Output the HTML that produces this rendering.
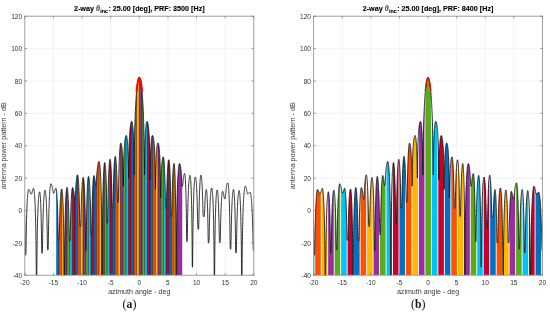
<!DOCTYPE html>
<html><head><meta charset="utf-8"><style>
html,body{margin:0;padding:0;background:#fff;width:550px;height:314px;overflow:hidden}
svg{display:block}
.g{stroke:#ebebeb;stroke-width:0.6}
.ax{fill:none;stroke:#9a9a9a;stroke-width:0.9}
.tk{stroke:#6a6a6a;stroke-width:0.6}
.se{stroke:#000;stroke-width:0.6;stroke-opacity:0.85}
.cv{fill:none;stroke:#111;stroke-width:0.85;stroke-linejoin:round}
text{font-family:"Liberation Sans",Arial,sans-serif;fill:#333}
.tl{font-size:6.6px;fill:#333}
.xl{font-size:7.1px;fill:#3a3a3a}
.yl{font-size:7.2px;fill:#3a3a3a}
.tt{font-size:7.2px;font-weight:bold;fill:#000;stroke:#000;stroke-width:0.12}
.th{font-family:"Liberation Serif",serif;font-style:italic;font-weight:bold;font-size:7.6px;fill:#555}
.sub{font-size:5.4px}
.lab{font-family:"Liberation Serif",serif;font-size:12px;fill:#111}
</style></head><body>
<svg width="550" height="314" viewBox="0 0 550 314">
<rect width="550" height="314" fill="#fff"/>
<line x1="24.8" y1="16.2" x2="24.8" y2="275.24" class="g"/>
<line x1="53.42" y1="16.2" x2="53.42" y2="275.24" class="g"/>
<line x1="82.05" y1="16.2" x2="82.05" y2="275.24" class="g"/>
<line x1="110.67" y1="16.2" x2="110.67" y2="275.24" class="g"/>
<line x1="139.3" y1="16.2" x2="139.3" y2="275.24" class="g"/>
<line x1="167.93" y1="16.2" x2="167.93" y2="275.24" class="g"/>
<line x1="196.55" y1="16.2" x2="196.55" y2="275.24" class="g"/>
<line x1="225.18" y1="16.2" x2="225.18" y2="275.24" class="g"/>
<line x1="253.8" y1="16.2" x2="253.8" y2="275.24" class="g"/>
<line x1="24.8" y1="275.24" x2="253.8" y2="275.24" class="g"/>
<line x1="24.8" y1="242.86" x2="253.8" y2="242.86" class="g"/>
<line x1="24.8" y1="210.48" x2="253.8" y2="210.48" class="g"/>
<line x1="24.8" y1="178.1" x2="253.8" y2="178.1" class="g"/>
<line x1="24.8" y1="145.72" x2="253.8" y2="145.72" class="g"/>
<line x1="24.8" y1="113.34" x2="253.8" y2="113.34" class="g"/>
<line x1="24.8" y1="80.96" x2="253.8" y2="80.96" class="g"/>
<line x1="24.8" y1="48.58" x2="253.8" y2="48.58" class="g"/>
<line x1="24.8" y1="16.2" x2="253.8" y2="16.2" class="g"/>
<clipPath id="ca"><polygon points="19.65,275.24 19.65,242.86 19.7,242.86 19.76,242.86 19.82,242.86 19.88,242.85 19.93,242.81 19.99,242.7 20.05,242.46 20.11,242.01 20.16,241.26 20.22,240.12 20.28,238.61 20.33,236.77 20.39,234.7 20.45,232.51 20.51,230.29 20.56,228.09 20.62,225.95 20.68,223.88 20.74,221.9 20.79,220.02 20.85,218.23 20.91,216.52 20.96,214.9 21.02,213.37 21.08,211.91 21.14,210.52 21.19,209.21 21.25,207.96 21.31,206.77 21.36,205.64 21.42,204.57 21.48,203.55 21.54,202.59 21.59,201.67 21.65,200.8 21.71,199.98 21.77,199.2 21.82,198.47 21.88,197.77 21.94,197.11 21.99,196.5 22.05,195.92 22.11,195.37 22.17,194.86 22.22,194.39 22.28,193.95 22.34,193.54 22.4,193.17 22.45,192.82 22.51,192.51 22.57,192.23 22.62,191.98 22.68,191.76 22.74,191.57 22.8,191.41 22.85,191.28 22.91,191.18 22.97,191.11 23.03,191.07 23.08,191.05 23.14,191.08 23.2,191.16 23.25,191.31 23.31,191.5 23.37,191.76 23.43,192.07 23.48,192.45 23.54,192.88 23.6,193.37 23.66,193.93 23.71,194.55 23.77,195.24 23.83,196 23.88,196.83 23.94,197.73 24,198.71 24.06,199.77 24.11,200.91 24.17,202.15 24.23,203.48 24.28,204.91 24.34,206.45 24.4,208.11 24.46,209.89 24.51,211.81 24.57,213.88 24.63,216.11 24.69,218.53 24.74,221.14 24.8,223.98 24.86,227.07 24.91,230.45 24.97,234.12 25.03,238.09 25.09,242.32 25.14,246.59 25.2,250.42 25.26,253.17 25.32,254.58 25.37,255.06 25.43,255.15 25.49,255.16 25.54,255.16 25.6,255.16 25.66,255.16 25.72,255.13 25.77,254.99 25.83,254.53 25.89,253.44 25.94,251.46 26,248.64 26.06,245.32 26.12,241.83 26.17,238.39 26.23,235.12 26.29,232.04 26.35,229.16 26.4,226.47 26.46,223.97 26.52,221.62 26.57,219.43 26.63,217.38 26.69,215.45 26.75,213.64 26.8,211.93 26.86,210.33 26.92,208.81 26.98,207.38 27.03,206.03 27.09,204.76 27.15,203.55 27.2,202.42 27.26,201.34 27.32,200.33 27.38,199.37 27.43,198.47 27.49,197.62 27.55,196.82 27.61,196.07 27.66,195.37 27.72,194.71 27.78,194.1 27.83,193.53 27.89,193 27.95,192.51 28.01,192.06 28.06,191.65 28.12,191.27 28.18,190.94 28.24,190.64 28.29,190.38 28.35,190.15 28.41,189.96 28.46,189.81 28.52,189.69 28.58,189.6 28.64,189.55 28.69,189.53 28.75,189.53 28.81,189.55 28.86,189.57 28.92,189.61 28.98,189.65 29.04,189.7 29.09,189.77 29.15,189.84 29.21,189.92 29.27,190.01 29.32,190.1 29.38,190.21 29.44,190.32 29.49,190.44 29.55,190.57 29.61,190.71 29.67,190.85 29.72,190.99 29.78,191.15 29.84,191.3 29.9,191.46 29.95,191.62 30.01,191.79 30.07,191.95 30.12,192.12 30.18,192.28 30.24,192.45 30.3,192.61 30.35,192.76 30.41,192.91 30.47,193.06 30.53,193.19 30.58,193.32 30.64,193.44 30.7,193.55 30.75,193.65 30.81,193.74 30.87,193.81 30.93,193.88 30.98,193.93 31.04,193.97 31.1,194 31.15,194.03 31.21,194.04 31.27,194.05 31.33,194.05 31.38,194.04 31.44,194.03 31.5,194 31.56,193.95 31.61,193.88 31.67,193.79 31.73,193.67 31.78,193.53 31.84,193.37 31.9,193.2 31.96,193 32.01,192.78 32.07,192.56 32.13,192.32 32.19,192.07 32.24,191.82 32.3,191.57 32.36,191.31 32.41,191.06 32.47,190.81 32.53,190.57 32.59,190.33 32.64,190.1 32.7,189.88 32.76,189.68 32.81,189.48 32.87,189.3 32.93,189.14 32.99,188.98 33.04,188.84 33.1,188.72 33.16,188.62 33.22,188.52 33.27,188.45 33.33,188.39 33.39,188.35 33.44,188.32 33.5,188.32 33.56,188.33 33.62,188.39 33.67,188.48 33.73,188.61 33.79,188.78 33.85,188.99 33.9,189.23 33.96,189.51 34.02,189.83 34.07,190.2 34.13,190.6 34.19,191.04 34.25,191.53 34.3,192.06 34.36,192.63 34.42,193.25 34.48,193.91 34.53,194.63 34.59,195.39 34.65,196.21 34.7,197.08 34.76,198 34.82,198.99 34.88,200.03 34.93,201.14 34.99,202.32 35.05,203.57 35.11,204.9 35.16,206.31 35.22,207.8 35.28,209.39 35.33,211.08 35.39,212.88 35.45,214.8 35.51,216.84 35.56,219.03 35.62,221.38 35.68,223.91 35.73,226.64 35.79,229.6 35.85,232.82 35.91,236.34 35.96,240.23 36.02,244.54 36.08,249.37 36.14,254.85 36.19,261.09 36.25,268.15 36.31,275.55 36.36,278.48 36.42,278.48 36.48,278.48 36.54,278.48 36.59,278.48 36.65,278.48 36.71,278.48 36.77,278.12 36.82,271.8 36.88,265.14 36.94,259.04 36.99,253.61 37.05,248.8 37.11,244.49 37.17,240.61 37.22,237.08 37.28,233.86 37.34,230.9 37.39,228.16 37.45,225.63 37.51,223.27 37.57,221.07 37.62,219.01 37.68,217.09 37.74,215.28 37.8,213.58 37.85,211.98 37.91,210.47 37.97,209.05 38.02,207.71 38.08,206.45 38.14,205.26 38.2,204.13 38.25,203.07 38.31,202.07 38.37,201.13 38.43,200.24 38.48,199.41 38.54,198.63 38.6,197.9 38.65,197.21 38.71,196.57 38.77,195.98 38.83,195.43 38.88,194.92 38.94,194.45 39,194.03 39.06,193.64 39.11,193.29 39.17,192.98 39.23,192.71 39.28,192.47 39.34,192.28 39.4,192.12 39.46,191.99 39.51,191.9 39.57,191.85 39.63,191.83 39.69,191.86 39.74,191.95 39.8,192.1 39.86,192.3 39.91,192.57 39.97,192.9 40.03,193.29 40.09,193.75 40.14,194.27 40.2,194.85 40.26,195.5 40.31,196.23 40.37,197.02 40.43,197.9 40.49,198.85 40.54,199.88 40.6,201 40.66,202.21 40.72,203.51 40.77,204.92 40.83,206.44 40.89,208.08 40.94,209.84 41,211.74 41.06,213.79 41.12,216.01 41.17,218.4 41.23,221 41.29,223.82 41.35,226.89 41.4,230.23 41.46,233.85 41.52,237.74 41.57,241.82 41.63,245.83 41.69,249.28 41.75,251.62 41.8,252.76 41.86,253.14 41.92,253.21 41.98,253.22 42.03,253.22 42.09,253.22 42.15,253.22 42.2,253.19 42.26,253.06 42.32,252.61 42.38,251.56 42.43,249.64 42.49,246.89 42.55,243.62 42.6,240.18 42.66,236.77 42.72,233.52 42.78,230.47 42.83,227.61 42.89,224.95 42.95,222.47 43.01,220.15 43.06,217.98 43.12,215.96 43.18,214.06 43.23,212.28 43.29,210.6 43.35,209.03 43.41,207.55 43.46,206.15 43.52,204.84 43.58,203.61 43.64,202.44 43.69,201.35 43.75,200.32 43.81,199.35 43.86,198.44 43.92,197.59 43.98,196.8 44.04,196.05 44.09,195.36 44.15,194.71 44.21,194.12 44.26,193.57 44.32,193.06 44.38,192.6 44.44,192.18 44.49,191.8 44.55,191.47 44.61,191.18 44.67,190.92 44.72,190.71 44.78,190.53 44.84,190.4 44.89,190.3 44.95,190.25 45.01,190.23 45.07,190.25 45.12,190.31 45.18,190.41 45.24,190.56 45.3,190.75 45.35,190.98 45.41,191.25 45.47,191.57 45.52,191.94 45.58,192.34 45.64,192.8 45.7,193.3 45.75,193.85 45.81,194.44 45.87,195.09 45.93,195.79 45.98,196.55 46.04,197.36 46.1,198.23 46.15,199.16 46.21,200.16 46.27,201.22 46.33,202.35 46.38,203.55 46.44,204.84 46.5,206.2 46.56,207.66 46.61,209.2 46.67,210.85 46.73,212.61 46.78,214.49 46.84,216.49 46.9,218.63 46.96,220.92 47.01,223.38 47.07,226.01 47.13,228.83 47.18,231.83 47.24,235.01 47.3,238.29 47.36,241.56 47.41,244.57 47.47,247 47.53,248.63 47.59,249.5 47.64,249.85 47.7,249.96 47.76,249.98 47.81,249.98 47.87,249.98 47.93,249.98 47.99,249.98 48.04,249.94 48.1,249.75 48.16,249.14 48.22,247.73 48.27,245.33 48.33,242.11 48.39,238.49 48.44,234.83 48.5,231.29 48.56,227.96 48.62,224.85 48.67,221.96 48.73,219.28 48.79,216.77 48.84,214.44 48.9,212.26 48.96,210.22 49.02,208.31 49.07,206.52 49.13,204.83 49.19,203.24 49.25,201.75 49.3,200.34 49.36,199.02 49.42,197.77 49.47,196.59 49.53,195.48 49.59,194.43 49.65,193.45 49.7,192.53 49.76,191.66 49.82,190.84 49.88,190.08 49.93,189.36 49.99,188.7 50.05,188.08 50.1,187.51 50.16,186.98 50.22,186.49 50.28,186.05 50.33,185.65 50.39,185.29 50.45,184.96 50.51,184.68 50.56,184.44 50.62,184.23 50.68,184.06 50.73,183.93 50.79,183.84 50.85,183.79 50.91,183.77 50.96,183.77 51.02,183.79 51.08,183.82 51.13,183.86 51.19,183.92 51.25,183.99 51.31,184.07 51.36,184.16 51.42,184.26 51.48,184.38 51.54,184.51 51.59,184.65 51.65,184.8 51.71,184.97 51.76,185.15 51.82,185.34 51.88,185.54 51.94,185.75 51.99,185.97 52.05,186.21 52.11,186.45 52.17,186.71 52.22,186.98 52.28,187.25 52.34,187.54 52.39,187.83 52.45,188.13 52.51,188.44 52.57,188.75 52.62,189.06 52.68,189.38 52.74,189.7 52.8,190.01 52.85,190.33 52.91,190.64 52.97,190.93 53.02,191.22 53.08,191.5 53.14,191.76 53.2,192 53.25,192.22 53.31,192.42 53.37,192.6 53.42,192.75 53.48,192.88 53.54,192.98 53.6,193.05 53.65,193.11 53.71,193.14 53.77,193.15 53.83,193.16 53.88,193.15 53.94,193.14 54,193.11 54.05,193.07 54.11,193 54.17,192.92 54.23,192.81 54.28,192.68 54.34,192.54 54.4,192.37 54.46,192.19 54.51,191.99 54.57,191.78 54.63,191.57 54.68,191.34 54.74,191.11 54.8,190.88 54.86,190.65 54.91,190.42 54.97,190.2 55.03,189.98 55.09,189.77 55.14,189.57 55.2,189.38 55.26,189.2 55.31,189.04 55.37,188.89 55.43,188.75 55.49,188.63 55.54,188.52 55.6,188.43 55.66,188.35 55.72,188.29 55.77,188.25 55.83,188.23 55.89,188.22 55.94,188.24 56,188.31 56.06,188.41 56.12,188.57 56.17,188.76 56.23,189 56.29,189.29 56.34,189.62 56.4,190 56.46,190.42 56.52,190.9 56.57,191.42 56.63,191.99 56.69,192.61 56.75,193.29 56.8,194.02 56.86,194.81 56.92,195.66 56.97,196.57 57.03,197.55 57.09,198.59 57.15,199.7 57.2,200.88 57.26,202.15 57.32,203.49 57.38,204.93 57.43,206.45 57.49,208.08 57.55,209.81 57.6,211.66 57.66,213.63 57.72,215.72 57.78,217.96 57.83,220.33 57.89,222.83 57.95,225.46 58.01,228.18 58.06,230.92 58.12,233.54 58.18,235.87 58.23,237.72 58.29,238.99 58.35,239.73 58.41,240.08 58.46,240.22 58.52,240.26 58.58,240.27 58.63,240.27 58.69,240.27 58.75,240.27 58.81,240.27 58.86,240.26 58.92,240.24 58.98,240.16 59.04,239.96 59.09,239.52 59.15,238.71 59.21,237.44 59.26,235.69 59.32,233.56 59.38,231.2 59.44,228.72 59.49,226.25 59.55,223.84 59.61,221.52 59.67,219.31 59.72,217.21 59.78,215.23 59.84,213.36 59.89,211.6 59.95,209.93 60.01,208.36 60.07,206.88 60.12,205.48 60.18,204.17 60.24,202.92 60.29,201.75 60.35,200.64 60.41,199.6 60.47,198.62 60.52,197.7 60.58,196.83 60.64,196.01 60.7,195.25 60.75,194.54 60.81,193.87 60.87,193.26 60.92,192.68 60.98,192.16 61.04,191.67 61.1,191.23 61.15,190.83 61.21,190.47 61.27,190.14 61.33,189.86 61.38,189.62 61.44,189.41 61.5,189.24 61.55,189.11 61.61,189.02 61.67,188.97 61.73,188.95 61.78,188.97 61.84,189.05 61.9,189.18 61.96,189.36 62.01,189.59 62.07,189.88 62.13,190.22 62.18,190.61 62.24,191.06 62.3,191.57 62.36,192.14 62.41,192.76 62.47,193.45 62.53,194.2 62.58,195.02 62.64,195.9 62.7,196.86 62.76,197.89 62.81,199 62.87,200.19 62.93,201.47 62.99,202.84 63.04,204.32 63.1,205.9 63.16,207.59 63.21,209.41 63.27,211.37 63.33,213.47 63.39,215.74 63.44,218.19 63.5,220.85 63.56,223.74 63.62,226.9 63.67,230.37 63.73,234.2 63.79,238.48 63.84,243.29 63.9,248.77 63.96,255.08 64.02,262.44 64.07,270.84 64.13,278.48 64.19,278.48 64.25,278.48 64.3,278.48 64.36,278.48 64.42,278.48 64.47,278.48 64.53,271.14 64.59,262.78 64.65,255.43 64.7,249.11 64.76,243.62 64.82,238.8 64.88,234.51 64.93,230.66 64.99,227.17 65.05,223.99 65.1,221.08 65.16,218.4 65.22,215.93 65.28,213.64 65.33,211.51 65.39,209.52 65.45,207.67 65.5,205.95 65.56,204.34 65.62,202.83 65.68,201.42 65.73,200.1 65.79,198.87 65.85,197.71 65.91,196.64 65.96,195.63 66.02,194.7 66.08,193.83 66.13,193.03 66.19,192.29 66.25,191.6 66.31,190.98 66.36,190.41 66.42,189.89 66.48,189.43 66.54,189.02 66.59,188.66 66.65,188.34 66.71,188.08 66.76,187.87 66.82,187.7 66.88,187.58 66.94,187.51 66.99,187.49 67.05,187.51 67.11,187.58 67.17,187.69 67.22,187.85 67.28,188.06 67.34,188.31 67.39,188.61 67.45,188.95 67.51,189.35 67.57,189.79 67.62,190.28 67.68,190.83 67.74,191.43 67.79,192.08 67.85,192.79 67.91,193.55 67.97,194.38 68.02,195.27 68.08,196.22 68.14,197.25 68.2,198.34 68.25,199.51 68.31,200.76 68.37,202.09 68.42,203.51 68.48,205.02 68.54,206.64 68.6,208.36 68.65,210.2 68.71,212.17 68.77,214.27 68.83,216.51 68.88,218.91 68.94,221.45 69,224.15 69.05,226.98 69.11,229.87 69.17,232.74 69.23,235.4 69.28,237.61 69.34,239.22 69.4,240.18 69.45,240.66 69.51,240.85 69.57,240.9 69.63,240.92 69.68,240.92 69.74,240.92 69.8,240.92 69.86,240.92 69.91,240.91 69.97,240.86 70.03,240.69 70.08,240.28 70.14,239.42 70.2,237.98 70.26,235.92 70.31,233.41 70.37,230.65 70.43,227.82 70.49,225.03 70.54,222.36 70.6,219.82 70.66,217.43 70.71,215.19 70.77,213.09 70.83,211.11 70.89,209.26 70.94,207.52 71,205.9 71.06,204.37 71.12,202.93 71.17,201.59 71.23,200.32 71.29,199.13 71.34,198.02 71.4,196.98 71.46,196.01 71.52,195.1 71.57,194.25 71.63,193.46 71.69,192.73 71.75,192.05 71.8,191.42 71.86,190.85 71.92,190.33 71.97,189.86 72.03,189.43 72.09,189.05 72.15,188.72 72.2,188.44 72.26,188.2 72.32,188 72.37,187.85 72.43,187.74 72.49,187.67 72.55,187.65 72.6,187.66 72.66,187.69 72.72,187.73 72.78,187.8 72.83,187.88 72.89,187.98 72.95,188.1 73,188.23 73.06,188.39 73.12,188.56 73.18,188.75 73.23,188.96 73.29,189.19 73.35,189.44 73.41,189.7 73.46,189.99 73.52,190.29 73.58,190.61 73.63,190.95 73.69,191.31 73.75,191.68 73.81,192.07 73.86,192.48 73.92,192.9 73.98,193.33 74.03,193.77 74.09,194.22 74.15,194.68 74.21,195.14 74.26,195.6 74.32,196.05 74.38,196.49 74.44,196.91 74.49,197.31 74.55,197.68 74.61,198.02 74.66,198.32 74.72,198.57 74.78,198.77 74.84,198.93 74.89,199.04 74.95,199.11 75.01,199.14 75.07,199.15 75.12,199.09 75.18,198.84 75.24,198.34 75.29,197.59 75.35,196.63 75.41,195.52 75.47,194.33 75.52,193.1 75.58,191.87 75.64,190.68 75.7,189.52 75.75,188.43 75.81,187.38 75.87,186.4 75.92,185.47 75.98,184.59 76.04,183.77 76.1,183 76.15,182.27 76.21,181.59 76.27,180.96 76.33,180.36 76.38,179.8 76.44,179.28 76.5,178.8 76.55,178.35 76.61,177.93 76.67,177.54 76.73,177.18 76.78,176.85 76.84,176.55 76.9,176.27 76.95,176.02 77.01,175.8 77.07,175.6 77.13,175.42 77.18,175.27 77.24,175.15 77.3,175.04 77.36,174.96 77.41,174.91 77.47,174.87 77.53,174.86 77.58,174.88 77.64,174.95 77.7,175.06 77.76,175.21 77.81,175.41 77.87,175.65 77.93,175.93 77.99,176.26 78.04,176.64 78.1,177.07 78.16,177.54 78.21,178.06 78.27,178.63 78.33,179.26 78.39,179.94 78.44,180.67 78.5,181.46 78.56,182.31 78.62,183.22 78.67,184.19 78.73,185.23 78.79,186.34 78.84,187.53 78.9,188.79 78.96,190.14 79.02,191.57 79.07,193.1 79.13,194.72 79.19,196.45 79.24,198.3 79.3,200.27 79.36,202.36 79.42,204.59 79.47,206.95 79.53,209.46 79.59,212.08 79.65,214.78 79.7,217.49 79.76,220.09 79.82,222.38 79.87,224.2 79.93,225.43 79.99,226.15 80.05,226.49 80.1,226.62 80.16,226.66 80.22,226.67 80.28,226.67 80.33,226.67 80.39,226.67 80.45,226.67 80.5,226.66 80.56,226.64 80.62,226.56 80.68,226.34 80.73,225.89 80.79,225.05 80.85,223.74 80.91,221.96 80.96,219.8 81.02,217.42 81.08,214.95 81.13,212.48 81.19,210.08 81.25,207.77 81.31,205.59 81.36,203.52 81.42,201.56 81.48,199.72 81.53,197.99 81.59,196.36 81.65,194.83 81.71,193.39 81.76,192.03 81.82,190.75 81.88,189.55 81.94,188.43 81.99,187.37 82.05,186.38 82.11,185.45 82.16,184.58 82.22,183.77 82.28,183.02 82.34,182.31 82.39,181.67 82.45,181.07 82.51,180.52 82.57,180.02 82.62,179.57 82.68,179.16 82.74,178.8 82.79,178.48 82.85,178.21 82.91,177.97 82.97,177.79 83.02,177.64 83.08,177.54 83.14,177.47 83.2,177.45 83.25,177.47 83.31,177.54 83.37,177.66 83.42,177.81 83.48,178.02 83.54,178.27 83.6,178.57 83.65,178.91 83.71,179.31 83.77,179.75 83.82,180.25 83.88,180.79 83.94,181.39 84,182.04 84.05,182.75 84.11,183.52 84.17,184.35 84.23,185.24 84.28,186.19 84.34,187.22 84.4,188.31 84.45,189.48 84.51,190.74 84.57,192.07 84.63,193.5 84.68,195.02 84.74,196.65 84.8,198.39 84.86,200.25 84.91,202.24 84.97,204.38 85.03,206.68 85.08,209.16 85.14,211.84 85.2,214.75 85.26,217.91 85.31,221.37 85.37,225.15 85.43,229.3 85.48,233.83 85.54,238.65 85.6,243.44 85.66,247.44 85.71,249.84 85.77,250.74 85.83,250.94 85.89,250.95 85.94,250.95 86,250.95 86.06,250.92 86.11,250.6 86.17,249.15 86.23,245.72 86.29,240.78 86.34,235.45 86.4,230.38 86.46,225.75 86.52,221.55 86.57,217.76 86.63,214.31 86.69,211.17 86.74,208.28 86.8,205.63 86.86,203.18 86.92,200.92 86.97,198.81 87.03,196.86 87.09,195.04 87.15,193.35 87.2,191.77 87.26,190.3 87.32,188.92 87.37,187.64 87.43,186.45 87.49,185.34 87.55,184.31 87.6,183.35 87.66,182.47 87.72,181.65 87.78,180.9 87.83,180.21 87.89,179.59 87.95,179.02 88,178.52 88.06,178.07 88.12,177.67 88.18,177.33 88.23,177.05 88.29,176.81 88.35,176.63 88.4,176.5 88.46,176.43 88.52,176.4 88.58,176.42 88.63,176.48 88.69,176.59 88.75,176.73 88.81,176.92 88.86,177.15 88.92,177.43 88.98,177.75 89.03,178.11 89.09,178.52 89.15,178.97 89.21,179.47 89.26,180.02 89.32,180.62 89.38,181.27 89.44,181.97 89.49,182.72 89.55,183.54 89.61,184.41 89.66,185.34 89.72,186.33 89.78,187.39 89.84,188.52 89.89,189.73 89.95,191.01 90.01,192.37 90.06,193.83 90.12,195.37 90.18,197.02 90.24,198.78 90.29,200.65 90.35,202.65 90.41,204.79 90.47,207.07 90.52,209.52 90.58,212.14 90.64,214.93 90.69,217.89 90.75,221 90.81,224.18 90.87,227.28 90.92,230.06 90.98,232.23 91.04,233.64 91.1,234.36 91.15,234.66 91.21,234.75 91.27,234.76 91.32,234.76 91.38,234.76 91.44,234.76 91.5,234.76 91.55,234.72 91.61,234.54 91.67,233.94 91.73,232.58 91.78,230.23 91.84,227.08 91.9,223.54 91.95,219.94 92.01,216.47 92.07,213.21 92.13,210.17 92.18,207.35 92.24,204.74 92.3,202.31 92.36,200.06 92.41,197.97 92.47,196.03 92.53,194.21 92.58,192.52 92.64,190.95 92.7,189.48 92.76,188.11 92.81,186.83 92.87,185.64 92.93,184.53 92.98,183.5 93.04,182.54 93.1,181.66 93.16,180.84 93.21,180.09 93.27,179.4 93.33,178.78 93.39,178.21 93.44,177.71 93.5,177.26 93.56,176.86 93.61,176.52 93.67,176.24 93.73,176 93.79,175.82 93.84,175.69 93.9,175.62 93.96,175.59 94.02,175.6 94.07,175.65 94.13,175.72 94.19,175.82 94.24,175.94 94.3,176.1 94.36,176.28 94.42,176.49 94.47,176.73 94.53,177 94.59,177.3 94.64,177.62 94.7,177.97 94.76,178.34 94.82,178.74 94.87,179.17 94.93,179.61 94.99,180.08 95.05,180.56 95.1,181.05 95.16,181.54 95.22,182.04 95.27,182.53 95.33,183.01 95.39,183.47 95.45,183.89 95.5,184.27 95.56,184.6 95.62,184.87 95.68,185.08 95.73,185.24 95.79,185.33 95.85,185.38 95.9,185.39 95.96,185.36 96.02,185.23 96.08,184.97 96.13,184.56 96.19,184 96.25,183.32 96.31,182.53 96.36,181.67 96.42,180.77 96.48,179.84 96.53,178.9 96.59,177.98 96.65,177.08 96.71,176.19 96.76,175.34 96.82,174.52 96.88,173.74 96.94,172.98 96.99,172.26 97.05,171.58 97.11,170.92 97.16,170.3 97.22,169.7 97.28,169.13 97.34,168.59 97.39,168.08 97.45,167.59 97.51,167.13 97.56,166.69 97.62,166.27 97.68,165.88 97.74,165.5 97.79,165.15 97.85,164.81 97.91,164.5 97.97,164.2 98.02,163.92 98.08,163.66 98.14,163.42 98.19,163.19 98.25,162.98 98.31,162.78 98.37,162.6 98.42,162.44 98.48,162.29 98.54,162.15 98.6,162.03 98.65,161.93 98.71,161.84 98.77,161.76 98.82,161.7 98.88,161.65 98.94,161.61 99,161.59 99.05,161.59 99.11,161.6 99.17,161.66 99.22,161.75 99.28,161.87 99.34,162.03 99.4,162.23 99.45,162.47 99.51,162.74 99.57,163.05 99.63,163.4 99.68,163.78 99.74,164.21 99.8,164.68 99.85,165.19 99.91,165.74 99.97,166.33 100.03,166.97 100.08,167.65 100.14,168.39 100.2,169.17 100.26,170 100.31,170.89 100.37,171.83 100.43,172.83 100.48,173.89 100.54,175.02 100.6,176.21 100.66,177.47 100.71,178.81 100.77,180.23 100.83,181.74 100.89,183.34 100.94,185.04 101,186.85 101.06,188.77 101.11,190.83 101.17,193.03 101.23,195.39 101.29,197.92 101.34,200.66 101.4,203.62 101.46,206.85 101.52,210.38 101.57,214.28 101.63,218.61 101.69,223.47 101.74,229.02 101.8,235.44 101.86,243.05 101.92,252.34 101.97,264.06 102.03,277.54 102.09,278.48 102.14,278.48 102.2,278.48 102.26,273.04 102.32,257.64 102.37,245.72 102.43,236.41 102.49,228.82 102.55,222.43 102.6,216.92 102.66,212.1 102.72,207.82 102.77,203.98 102.83,200.51 102.89,197.35 102.95,194.46 103,191.8 103.06,189.35 103.12,187.08 103.18,184.98 103.23,183.02 103.29,181.2 103.35,179.51 103.4,177.93 103.46,176.46 103.52,175.08 103.58,173.8 103.63,172.61 103.69,171.5 103.75,170.47 103.81,169.51 103.86,168.63 103.92,167.81 103.98,167.06 104.03,166.37 104.09,165.75 104.15,165.18 104.21,164.67 104.26,164.22 104.32,163.83 104.38,163.49 104.43,163.2 104.49,162.97 104.55,162.79 104.61,162.66 104.66,162.58 104.72,162.56 104.78,162.58 104.84,162.66 104.89,162.78 104.95,162.95 105.01,163.18 105.06,163.45 105.12,163.77 105.18,164.15 105.24,164.58 105.29,165.07 105.35,165.61 105.41,166.2 105.47,166.86 105.52,167.57 105.58,168.35 105.64,169.19 105.69,170.1 105.75,171.08 105.81,172.14 105.87,173.27 105.92,174.48 105.98,175.78 106.04,177.17 106.09,178.66 106.15,180.25 106.21,181.96 106.27,183.79 106.32,185.75 106.38,187.85 106.44,190.12 106.5,192.56 106.55,195.18 106.61,198.02 106.67,201.08 106.72,204.38 106.78,207.89 106.84,211.56 106.9,215.21 106.95,218.51 107.01,221.03 107.07,222.52 107.13,223.18 107.18,223.39 107.24,223.43 107.3,223.43 107.35,223.43 107.41,223.43 107.47,223.43 107.53,223.37 107.58,223.08 107.64,222.19 107.7,220.26 107.76,217.23 107.81,213.51 107.87,209.58 107.93,205.75 107.98,202.14 108.04,198.79 108.1,195.69 108.16,192.82 108.21,190.17 108.27,187.71 108.33,185.43 108.38,183.31 108.44,181.34 108.5,179.49 108.56,177.77 108.61,176.16 108.67,174.65 108.73,173.24 108.79,171.92 108.84,170.69 108.9,169.54 108.96,168.46 109.01,167.46 109.07,166.53 109.13,165.66 109.19,164.86 109.24,164.12 109.3,163.43 109.36,162.81 109.42,162.24 109.47,161.72 109.53,161.26 109.59,160.85 109.64,160.48 109.7,160.17 109.76,159.91 109.82,159.7 109.87,159.53 109.93,159.41 109.99,159.34 110.05,159.32 110.1,159.35 110.16,159.42 110.22,159.55 110.27,159.73 110.33,159.96 110.39,160.25 110.45,160.59 110.5,160.98 110.56,161.43 110.62,161.94 110.67,162.51 110.73,163.13 110.79,163.81 110.85,164.56 110.9,165.38 110.96,166.26 111.02,167.22 111.08,168.24 111.13,169.35 111.19,170.54 111.25,171.81 111.3,173.17 111.36,174.64 111.42,176.2 111.48,177.87 111.53,179.66 111.59,181.58 111.65,183.63 111.71,185.81 111.76,188.14 111.82,190.61 111.88,193.21 111.93,195.9 111.99,198.62 112.05,201.24 112.11,203.57 112.16,205.45 112.22,206.74 112.28,207.49 112.34,207.86 112.39,208 112.45,208.04 112.51,208.05 112.56,208.05 112.62,208.05 112.68,208.05 112.74,208.05 112.79,208.04 112.85,207.98 112.91,207.79 112.97,207.32 113.02,206.36 113.08,204.76 113.14,202.55 113.19,199.91 113.25,197.06 113.31,194.18 113.37,191.38 113.42,188.7 113.48,186.17 113.54,183.8 113.59,181.59 113.65,179.51 113.71,177.57 113.77,175.76 113.82,174.06 113.88,172.48 113.94,170.99 114,169.61 114.05,168.31 114.11,167.1 114.17,165.97 114.22,164.92 114.28,163.94 114.34,163.04 114.4,162.19 114.45,161.42 114.51,160.7 114.57,160.05 114.63,159.45 114.68,158.91 114.74,158.43 114.8,158 114.85,157.62 114.91,157.3 114.97,157.02 115.03,156.8 115.08,156.63 115.14,156.5 115.2,156.43 115.25,156.41 115.31,156.43 115.37,156.5 115.43,156.61 115.48,156.77 115.54,156.97 115.6,157.22 115.66,157.52 115.71,157.87 115.77,158.26 115.83,158.7 115.88,159.19 115.94,159.74 116,160.34 116.06,160.99 116.11,161.69 116.17,162.46 116.23,163.28 116.29,164.17 116.34,165.12 116.4,166.14 116.46,167.23 116.51,168.39 116.57,169.63 116.63,170.96 116.69,172.36 116.74,173.86 116.8,175.46 116.86,177.16 116.92,178.96 116.97,180.87 117.03,182.9 117.09,185.03 117.14,187.27 117.2,189.59 117.26,191.95 117.32,194.27 117.37,196.47 117.43,198.4 117.49,199.95 117.54,201.06 117.6,201.75 117.66,202.12 117.72,202.29 117.77,202.36 117.83,202.38 117.89,202.38 117.95,202.38 118,202.38 118.06,202.38 118.12,202.38 118.17,202.36 118.23,202.23 118.29,201.81 118.35,200.81 118.4,198.96 118.46,196.31 118.52,193.12 118.58,189.74 118.63,186.39 118.69,183.18 118.75,180.16 118.8,177.34 118.86,174.72 118.92,172.28 118.98,170 119.03,167.88 119.09,165.89 119.15,164.04 119.21,162.31 119.26,160.68 119.32,159.16 119.38,157.74 119.43,156.41 119.49,155.16 119.55,153.99 119.61,152.89 119.66,151.87 119.72,150.91 119.78,150.02 119.84,149.2 119.89,148.43 119.95,147.72 120.01,147.07 120.06,146.47 120.12,145.92 120.18,145.43 120.24,144.99 120.29,144.59 120.35,144.25 120.41,143.95 120.46,143.7 120.52,143.49 120.58,143.33 120.64,143.22 120.69,143.15 120.75,143.13 120.81,143.14 120.87,143.17 120.92,143.22 120.98,143.29 121.04,143.39 121.09,143.5 121.15,143.64 121.21,143.79 121.27,143.97 121.32,144.17 121.38,144.4 121.44,144.64 121.5,144.92 121.55,145.21 121.61,145.54 121.67,145.89 121.72,146.27 121.78,146.67 121.84,147.11 121.9,147.58 121.95,148.08 122.01,148.62 122.07,149.2 122.12,149.82 122.18,150.48 122.24,151.19 122.3,151.95 122.35,152.76 122.41,153.63 122.47,154.58 122.53,155.59 122.58,156.69 122.64,157.88 122.7,159.17 122.75,160.59 122.81,162.14 122.87,163.86 122.93,165.78 122.98,167.93 123.04,170.35 123.1,173.11 123.16,176.24 123.21,179.68 123.27,183.09 123.33,185.54 123.38,186.19 123.44,184.71 123.5,180.24 123.56,175.37 123.61,171.15 123.67,167.62 123.73,164.63 123.79,162.06 123.84,159.82 123.9,157.84 123.96,156.07 124.01,154.48 124.07,153.03 124.13,151.71 124.19,150.49 124.24,149.37 124.3,148.33 124.36,147.37 124.41,146.47 124.47,145.63 124.53,144.85 124.59,144.11 124.64,143.43 124.7,142.78 124.76,142.17 124.82,141.61 124.87,141.07 124.93,140.57 124.99,140.1 125.04,139.66 125.1,139.24 125.16,138.85 125.22,138.49 125.27,138.15 125.33,137.84 125.39,137.55 125.45,137.28 125.5,137.03 125.56,136.8 125.62,136.59 125.67,136.4 125.73,136.23 125.79,136.08 125.85,135.95 125.9,135.83 125.96,135.74 126.02,135.66 126.08,135.6 126.13,135.55 126.19,135.53 126.25,135.52 126.3,135.53 126.36,135.57 126.42,135.63 126.48,135.72 126.53,135.83 126.59,135.97 126.65,136.13 126.7,136.32 126.76,136.53 126.82,136.78 126.88,137.05 126.93,137.35 126.99,137.68 127.05,138.04 127.11,138.44 127.16,138.87 127.22,139.33 127.28,139.83 127.33,140.37 127.39,140.96 127.45,141.59 127.51,142.27 127.56,143 127.62,143.79 127.68,144.64 127.74,145.56 127.79,146.55 127.85,147.63 127.91,148.8 127.96,150.08 128.02,151.49 128.08,153.03 128.14,154.75 128.19,156.67 128.25,158.83 128.31,161.28 128.37,164.08 128.42,167.29 128.48,170.9 128.54,174.58 128.59,177.33 128.65,178.1 128.71,175.46 128.77,169.14 128.82,163.4 128.88,158.82 128.94,155.12 129,152.04 129.05,149.41 129.11,147.14 129.17,145.13 129.22,143.34 129.28,141.73 129.34,140.26 129.4,138.93 129.45,137.69 129.51,136.56 129.57,135.5 129.62,134.52 129.68,133.61 129.74,132.75 129.8,131.95 129.85,131.2 129.91,130.49 129.97,129.83 130.03,129.2 130.08,128.61 130.14,128.05 130.2,127.52 130.25,127.03 130.31,126.56 130.37,126.12 130.43,125.7 130.48,125.31 130.54,124.94 130.6,124.59 130.66,124.27 130.71,123.96 130.77,123.68 130.83,123.41 130.88,123.16 130.94,122.93 131,122.72 131.06,122.53 131.11,122.35 131.17,122.19 131.23,122.04 131.28,121.92 131.34,121.8 131.4,121.7 131.46,121.62 131.51,121.55 131.57,121.5 131.63,121.46 131.69,121.44 131.74,121.44 131.8,121.45 131.86,121.49 131.91,121.56 131.97,121.65 132.03,121.78 132.09,121.93 132.14,122.11 132.2,122.32 132.26,122.56 132.32,122.83 132.37,123.13 132.43,123.46 132.49,123.83 132.54,124.24 132.6,124.68 132.66,125.16 132.72,125.68 132.77,126.25 132.83,126.86 132.89,127.52 132.95,128.24 133,129.02 133.06,129.86 133.12,130.77 133.17,131.75 133.23,132.83 133.29,134.01 133.35,135.29 133.4,136.71 133.46,138.28 133.52,140.04 133.57,142.02 133.63,144.27 133.69,146.88 133.75,149.96 133.8,153.69 133.86,158.37 133.92,164.38 133.98,171.52 134.03,174.86 134.09,174.76 134.15,173.33 134.2,169.06 134.26,163.25 134.32,157.57 134.38,152.51 134.43,148.05 134.49,144.12 134.55,140.59 134.61,137.42 134.66,134.52 134.72,131.85 134.78,129.39 134.83,127.1 134.89,124.96 134.95,122.95 135.01,121.06 135.06,119.27 135.12,117.58 135.18,115.97 135.24,114.43 135.29,112.97 135.35,111.57 135.41,110.23 135.46,108.95 135.52,107.72 135.58,106.53 135.64,105.4 135.69,104.3 135.75,103.24 135.81,102.22 135.87,101.24 135.92,100.29 135.98,99.37 136.04,98.49 136.09,97.63 136.15,96.8 136.21,96 136.27,95.22 136.32,94.47 136.38,93.74 136.44,93.03 136.49,92.35 136.55,91.69 136.61,91.04 136.67,90.42 136.72,89.82 136.78,89.24 136.84,88.67 136.9,88.13 136.95,87.6 137.01,87.09 137.07,86.59 137.12,86.11 137.18,85.65 137.24,85.2 137.3,84.77 137.35,84.35 137.41,83.95 137.47,83.56 137.53,83.19 137.58,82.83 137.64,82.48 137.7,82.15 137.75,81.83 137.81,81.52 137.87,81.23 137.93,80.94 137.98,80.68 138.04,80.42 138.1,80.18 138.16,79.94 138.21,79.72 138.27,79.52 138.33,79.32 138.38,79.14 138.44,78.96 138.5,78.8 138.56,78.65 138.61,78.51 138.67,78.39 138.73,78.27 138.78,78.17 138.84,78.07 138.9,77.99 138.96,77.92 139.01,77.86 139.07,77.81 139.13,77.77 139.19,77.74 139.24,77.73 139.3,77.72 139.36,77.73 139.41,77.74 139.47,77.77 139.53,77.81 139.59,77.86 139.64,77.91 139.7,77.98 139.76,78.07 139.82,78.16 139.87,78.26 139.93,78.37 139.99,78.5 140.04,78.63 140.1,78.78 140.16,78.94 140.22,79.1 140.27,79.29 140.33,79.48 140.39,79.68 140.44,79.9 140.5,80.12 140.56,80.36 140.62,80.61 140.67,80.87 140.73,81.15 140.79,81.44 140.85,81.74 140.9,82.05 140.96,82.37 141.02,82.71 141.07,83.06 141.13,83.43 141.19,83.81 141.25,84.2 141.3,84.61 141.36,85.03 141.42,85.47 141.48,85.92 141.53,86.39 141.59,86.87 141.65,87.37 141.7,87.89 141.76,88.42 141.82,88.97 141.88,89.54 141.93,90.12 141.99,90.73 142.05,91.35 142.11,92 142.16,92.66 142.22,93.35 142.28,94.06 142.33,94.79 142.39,95.54 142.45,96.32 142.51,97.12 142.56,97.96 142.62,98.82 142.68,99.7 142.74,100.62 142.79,101.57 142.85,102.56 142.91,103.58 142.96,104.64 143.02,105.73 143.08,106.87 143.14,108.06 143.19,109.29 143.25,110.57 143.31,111.91 143.36,113.31 143.42,114.77 143.48,116.31 143.54,117.92 143.59,119.61 143.65,121.4 143.71,123.29 143.77,125.3 143.82,127.44 143.88,129.73 143.94,132.19 143.99,134.85 144.05,137.74 144.11,140.92 144.17,144.44 144.22,148.37 144.28,152.81 144.34,157.86 144.4,163.5 144.45,169.24 144.51,173.39 144.57,174.76 144.62,174.86 144.68,171.68 144.74,164.72 144.8,158.76 144.85,154.1 144.91,150.38 144.97,147.3 145.03,144.69 145.08,142.43 145.14,140.45 145.2,138.69 145.25,137.12 145.31,135.69 145.37,134.4 145.43,133.22 145.48,132.14 145.54,131.14 145.6,130.22 145.65,129.38 145.71,128.59 145.77,127.87 145.83,127.19 145.88,126.57 145.94,125.99 146,125.46 146.06,124.97 146.11,124.51 146.17,124.09 146.23,123.71 146.28,123.36 146.34,123.04 146.4,122.76 146.46,122.5 146.51,122.27 146.57,122.07 146.63,121.9 146.69,121.76 146.74,121.64 146.8,121.55 146.86,121.49 146.91,121.45 146.97,121.44 147.03,121.44 147.09,121.46 147.14,121.5 147.2,121.55 147.26,121.62 147.31,121.7 147.37,121.8 147.43,121.92 147.49,122.04 147.54,122.19 147.6,122.35 147.66,122.53 147.72,122.72 147.77,122.93 147.83,123.16 147.89,123.41 147.94,123.68 148,123.96 148.06,124.27 148.12,124.59 148.17,124.94 148.23,125.31 148.29,125.7 148.35,126.12 148.4,126.56 148.46,127.03 148.52,127.52 148.57,128.05 148.63,128.61 148.69,129.2 148.75,129.83 148.8,130.49 148.86,131.2 148.92,131.95 148.98,132.76 149.03,133.61 149.09,134.53 149.15,135.51 149.2,136.56 149.26,137.7 149.32,138.93 149.38,140.27 149.43,141.74 149.49,143.35 149.55,145.14 149.61,147.15 149.66,149.44 149.72,152.07 149.78,155.17 149.83,158.91 149.89,163.58 149.95,169.55 150.01,176.53 150.06,179.72 150.12,178.77 150.18,175.51 150.23,171.43 150.29,167.61 150.35,164.28 150.41,161.41 150.46,158.92 150.52,156.73 150.58,154.8 150.64,153.07 150.69,151.52 150.75,150.11 150.81,148.82 150.86,147.64 150.92,146.56 150.98,145.57 151.04,144.65 151.09,143.8 151.15,143.01 151.21,142.27 151.27,141.59 151.32,140.96 151.38,140.38 151.44,139.84 151.49,139.33 151.55,138.87 151.61,138.44 151.67,138.04 151.72,137.68 151.78,137.35 151.84,137.05 151.89,136.78 151.95,136.53 152.01,136.32 152.07,136.13 152.12,135.97 152.18,135.83 152.24,135.72 152.3,135.63 152.35,135.57 152.41,135.53 152.47,135.52 152.52,135.53 152.58,135.55 152.64,135.59 152.7,135.65 152.75,135.72 152.81,135.81 152.87,135.92 152.93,136.04 152.98,136.18 153.04,136.33 153.1,136.51 153.15,136.7 153.21,136.91 153.27,137.14 153.33,137.39 153.38,137.66 153.44,137.95 153.5,138.26 153.56,138.59 153.61,138.94 153.67,139.32 153.73,139.72 153.78,140.15 153.84,140.61 153.9,141.09 153.96,141.61 154.01,142.15 154.07,142.74 154.13,143.35 154.19,144.01 154.24,144.71 154.3,145.45 154.36,146.24 154.41,147.09 154.47,148 154.53,148.97 154.59,150.02 154.64,151.15 154.7,152.37 154.76,153.7 154.81,155.16 154.87,156.77 154.93,158.55 154.99,160.54 155.04,162.81 155.1,165.41 155.16,168.45 155.22,172.09 155.27,176.53 155.33,181.91 155.39,187.38 155.44,189.43 155.5,188.28 155.56,184.54 155.62,180.11 155.67,176.1 155.73,172.68 155.79,169.76 155.85,167.23 155.9,165.02 155.96,163.07 156.02,161.33 156.07,159.76 156.13,158.33 156.19,157.04 156.25,155.85 156.3,154.75 156.36,153.74 156.42,152.81 156.47,151.94 156.53,151.14 156.59,150.39 156.65,149.7 156.7,149.05 156.76,148.44 156.82,147.88 156.88,147.36 156.93,146.87 156.99,146.42 157.05,146 157.1,145.61 157.16,145.26 157.22,144.93 157.28,144.63 157.33,144.36 157.39,144.11 157.45,143.89 157.51,143.69 157.56,143.52 157.62,143.37 157.68,143.25 157.73,143.15 157.79,143.07 157.85,143.01 157.91,142.98 157.96,142.97 158.02,142.98 158.08,143.01 158.14,143.06 158.19,143.13 158.25,143.23 158.31,143.34 158.36,143.47 158.42,143.63 158.48,143.81 158.54,144.01 158.59,144.24 158.65,144.49 158.71,144.76 158.77,145.06 158.82,145.38 158.88,145.73 158.94,146.11 158.99,146.52 159.05,146.96 159.11,147.43 159.17,147.93 159.22,148.48 159.28,149.06 159.34,149.68 159.39,150.34 159.45,151.05 159.51,151.82 159.57,152.63 159.62,153.52 159.68,154.46 159.74,155.49 159.8,156.6 159.85,157.8 159.91,159.12 159.97,160.56 160.02,162.15 160.08,163.93 160.14,165.92 160.2,168.19 160.25,170.8 160.31,173.88 160.37,177.59 160.43,182.21 160.48,188.05 160.54,194.66 160.6,197.53 160.65,197.08 160.71,195.3 160.77,192.58 160.83,189.59 160.88,186.74 160.94,184.14 161,181.81 161.06,179.73 161.11,177.85 161.17,176.16 161.23,174.62 161.28,173.22 161.34,171.94 161.4,170.75 161.46,169.66 161.51,168.65 161.57,167.7 161.63,166.83 161.68,166.01 161.74,165.25 161.8,164.54 161.86,163.87 161.91,163.25 161.97,162.67 162.03,162.12 162.09,161.61 162.14,161.13 162.2,160.69 162.26,160.27 162.31,159.88 162.37,159.52 162.43,159.19 162.49,158.88 162.54,158.6 162.6,158.34 162.66,158.1 162.72,157.89 162.77,157.7 162.83,157.52 162.89,157.38 162.94,157.25 163,157.14 163.06,157.05 163.12,156.98 163.17,156.93 163.23,156.9 163.29,156.89 163.34,156.91 163.4,156.99 163.46,157.1 163.52,157.27 163.57,157.48 163.63,157.74 163.69,158.06 163.75,158.42 163.8,158.83 163.86,159.29 163.92,159.81 163.97,160.38 164.03,161 164.09,161.68 164.15,162.42 164.2,163.23 164.26,164.09 164.32,165.03 164.38,166.03 164.43,167.1 164.49,168.25 164.55,169.48 164.6,170.79 164.66,172.19 164.72,173.69 164.78,175.29 164.83,177 164.89,178.82 164.95,180.77 165.01,182.85 165.06,185.07 165.12,187.44 165.18,189.96 165.23,192.61 165.29,195.37 165.35,198.18 165.41,200.93 165.46,203.42 165.52,205.46 165.58,206.89 165.64,207.74 165.69,208.15 165.75,208.32 165.81,208.36 165.86,208.37 165.92,208.38 165.98,208.38 166.04,208.38 166.09,208.37 166.15,208.37 166.21,208.34 166.26,208.26 166.32,208.04 166.38,207.57 166.44,206.72 166.49,205.38 166.55,203.58 166.61,201.4 166.67,199.01 166.72,196.53 166.78,194.05 166.84,191.66 166.89,189.36 166.95,187.18 167.01,185.12 167.07,183.17 167.12,181.34 167.18,179.62 167.24,178.01 167.3,176.49 167.35,175.06 167.41,173.72 167.47,172.46 167.52,171.27 167.58,170.16 167.64,169.13 167.7,168.15 167.75,167.24 167.81,166.4 167.87,165.61 167.93,164.88 167.98,164.2 168.04,163.57 168.1,163 168.15,162.48 168.21,162.01 168.27,161.58 168.33,161.21 168.38,160.88 168.44,160.59 168.5,160.35 168.55,160.15 168.61,160 168.67,159.89 168.73,159.83 168.78,159.81 168.84,159.83 168.9,159.91 168.96,160.04 169.01,160.22 169.07,160.45 169.13,160.74 169.18,161.08 169.24,161.47 169.3,161.92 169.36,162.43 169.41,162.99 169.47,163.62 169.53,164.3 169.59,165.05 169.64,165.87 169.7,166.75 169.76,167.71 169.81,168.74 169.87,169.85 169.93,171.04 169.99,172.32 170.04,173.69 170.1,175.16 170.16,176.73 170.22,178.42 170.27,180.23 170.33,182.17 170.39,184.26 170.44,186.5 170.5,188.91 170.56,191.5 170.62,194.29 170.67,197.27 170.73,200.45 170.79,203.77 170.84,207.13 170.9,210.29 170.96,212.92 171.02,214.74 171.07,215.74 171.13,216.15 171.19,216.28 171.25,216.31 171.3,216.31 171.36,216.31 171.42,216.31 171.47,216.31 171.53,216.3 171.59,216.24 171.65,216.04 171.7,215.55 171.76,214.56 171.82,212.92 171.88,210.67 171.93,207.99 171.99,205.11 172.05,202.2 172.1,199.37 172.16,196.68 172.22,194.14 172.28,191.75 172.33,189.52 172.39,187.43 172.45,185.48 172.51,183.65 172.56,181.94 172.62,180.34 172.68,178.84 172.73,177.43 172.79,176.12 172.85,174.89 172.91,173.74 172.96,172.67 173.02,171.66 173.08,170.73 173.13,169.87 173.19,169.06 173.25,168.32 173.31,167.64 173.36,167.01 173.42,166.44 173.48,165.93 173.54,165.47 173.59,165.05 173.65,164.69 173.71,164.38 173.76,164.12 173.82,163.91 173.88,163.74 173.94,163.62 173.99,163.55 174.05,163.53 174.11,163.57 174.17,163.69 174.22,163.89 174.28,164.17 174.34,164.54 174.39,164.99 174.45,165.53 174.51,166.15 174.57,166.87 174.62,167.68 174.68,168.59 174.74,169.6 174.8,170.71 174.85,171.94 174.91,173.29 174.97,174.77 175.02,176.39 175.08,178.15 175.14,180.07 175.2,182.17 175.25,184.47 175.31,186.98 175.37,189.74 175.42,192.77 175.48,196.13 175.54,199.86 175.6,204.05 175.65,208.79 175.71,214.22 175.77,220.55 175.83,228.09 175.88,237.38 175.94,249.37 176,265.86 176.05,278.48 176.11,278.48 176.17,278.48 176.23,278.48 176.28,269.8 176.34,258.59 176.4,249.37 176.46,241.77 176.51,235.34 176.57,229.79 176.63,224.9 176.68,220.55 176.74,216.63 176.8,213.07 176.86,209.82 176.91,206.82 176.97,204.05 177.03,201.48 177.09,199.08 177.14,196.84 177.2,194.74 177.26,192.77 177.31,190.91 177.37,189.16 177.43,187.51 177.49,185.95 177.54,184.47 177.6,183.07 177.66,181.74 177.71,180.48 177.77,179.28 177.83,178.15 177.89,177.07 177.94,176.05 178,175.08 178.06,174.17 178.12,173.29 178.17,172.47 178.23,171.69 178.29,170.95 178.34,170.25 178.4,169.6 178.46,168.98 178.52,168.4 178.57,167.85 178.63,167.34 178.69,166.87 178.75,166.43 178.8,166.02 178.86,165.65 178.92,165.3 178.97,164.99 179.03,164.71 179.09,164.46 179.15,164.24 179.2,164.05 179.26,163.89 179.32,163.76 179.38,163.66 179.43,163.59 179.49,163.54 179.55,163.53 179.6,163.54 179.66,163.57 179.72,163.61 179.78,163.67 179.83,163.76 179.89,163.86 179.95,163.98 180,164.11 180.06,164.27 180.12,164.45 180.18,164.64 180.23,164.86 180.29,165.1 180.35,165.36 180.41,165.64 180.46,165.94 180.52,166.27 180.58,166.61 180.63,166.99 180.69,167.39 180.75,167.81 180.81,168.26 180.86,168.74 180.92,169.25 180.98,169.79 181.04,170.37 181.09,170.97 181.15,171.61 181.21,172.29 181.26,173 181.32,173.75 181.38,174.54 181.44,175.37 181.49,176.24 181.55,177.15 181.61,178.1 181.66,179.07 181.72,180.06 181.78,181.07 181.84,182.06 181.89,183.02 181.95,183.91 182.01,184.71 182.07,185.36 182.12,185.85 182.18,186.17 182.24,186.32 182.29,186.36 182.35,186.35 182.41,186.29 182.47,186.19 182.52,186.01 182.58,185.77 182.64,185.46 182.7,185.08 182.75,184.65 182.81,184.17 182.87,183.66 182.92,183.11 182.98,182.55 183.04,181.99 183.1,181.42 183.15,180.85 183.21,180.29 183.27,179.75 183.33,179.23 183.38,178.72 183.44,178.24 183.5,177.78 183.55,177.34 183.61,176.93 183.67,176.54 183.73,176.17 183.78,175.83 183.84,175.52 183.9,175.22 183.96,174.96 184.01,174.71 184.07,174.49 184.13,174.3 184.18,174.13 184.24,173.98 184.3,173.85 184.36,173.75 184.41,173.67 184.47,173.61 184.53,173.58 184.58,173.57 184.64,173.6 184.7,173.69 184.76,173.85 184.81,174.06 184.87,174.35 184.93,174.69 184.99,175.1 185.04,175.58 185.1,176.13 185.16,176.74 185.21,177.43 185.27,178.19 185.33,179.03 185.39,179.95 185.44,180.95 185.5,182.04 185.56,183.23 185.62,184.51 185.67,185.9 185.73,187.39 185.79,189.01 185.84,190.75 185.9,192.64 185.96,194.67 186.02,196.88 186.07,199.27 186.13,201.86 186.19,204.7 186.25,207.79 186.3,211.18 186.36,214.92 186.42,219.03 186.47,223.55 186.53,228.42 186.59,233.35 186.65,237.61 186.7,240.28 186.76,241.32 186.82,241.54 186.87,241.56 186.93,241.56 186.99,241.56 187.05,241.56 187.1,241.52 187.16,241.33 187.22,240.72 187.28,239.32 187.33,236.91 187.39,233.69 187.45,230.07 187.5,226.41 187.56,222.87 187.62,219.54 187.68,216.43 187.73,213.54 187.79,210.86 187.85,208.36 187.91,206.02 187.96,203.84 188.02,201.8 188.08,199.89 188.13,198.1 188.19,196.41 188.25,194.83 188.31,193.33 188.36,191.92 188.42,190.6 188.48,189.35 188.54,188.17 188.59,187.06 188.65,186.02 188.71,185.03 188.76,184.11 188.82,183.24 188.88,182.42 188.94,181.66 188.99,180.94 189.05,180.28 189.11,179.66 189.16,179.09 189.22,178.56 189.28,178.07 189.34,177.63 189.39,177.23 189.45,176.87 189.51,176.54 189.57,176.26 189.62,176.02 189.68,175.81 189.74,175.64 189.79,175.51 189.85,175.42 189.91,175.37 189.97,175.35 190.02,175.38 190.08,175.46 190.14,175.6 190.2,175.8 190.25,176.06 190.31,176.37 190.37,176.74 190.42,177.18 190.48,177.67 190.54,178.23 190.6,178.85 190.65,179.54 190.71,180.3 190.77,181.12 190.83,182.03 190.88,183.01 190.94,184.07 191,185.21 191.05,186.45 191.11,187.78 191.17,189.21 191.23,190.75 191.28,192.41 191.34,194.2 191.4,196.12 191.45,198.19 191.51,200.43 191.57,202.86 191.63,205.49 191.68,208.36 191.74,211.5 191.8,214.95 191.86,218.77 191.91,223.03 191.97,227.82 192.03,233.28 192.08,239.58 192.14,246.9 192.2,255.21 192.26,263.01 192.31,266.66 192.37,267.14 192.43,267.14 192.49,267.14 192.54,266.99 192.6,265.53 192.66,260.87 192.71,254.04 192.77,247.19 192.83,241.03 192.89,235.59 192.94,230.78 193,226.49 193.06,222.62 193.12,219.12 193.17,215.92 193.23,212.98 193.29,210.28 193.34,207.78 193.4,205.45 193.46,203.29 193.52,201.27 193.57,199.38 193.63,197.62 193.69,195.96 193.74,194.41 193.8,192.96 193.86,191.59 193.92,190.3 193.97,189.1 194.03,187.96 194.09,186.9 194.15,185.91 194.2,184.98 194.26,184.11 194.32,183.29 194.37,182.54 194.43,181.84 194.49,181.19 194.55,180.59 194.6,180.04 194.66,179.54 194.72,179.08 194.78,178.68 194.83,178.31 194.89,178 194.95,177.72 195,177.49 195.06,177.3 195.12,177.15 195.18,177.05 195.23,176.99 195.29,176.97 195.35,176.99 195.41,177.04 195.46,177.13 195.52,177.26 195.58,177.43 195.63,177.64 195.69,177.88 195.75,178.16 195.81,178.48 195.86,178.85 195.92,179.25 195.98,179.69 196.03,180.18 196.09,180.7 196.15,181.28 196.21,181.9 196.26,182.56 196.32,183.27 196.38,184.03 196.44,184.85 196.49,185.72 196.55,186.64 196.61,187.62 196.66,188.67 196.72,189.77 196.78,190.95 196.84,192.19 196.89,193.51 196.95,194.91 197.01,196.39 197.07,197.96 197.12,199.63 197.18,201.4 197.24,203.27 197.29,205.26 197.35,207.37 197.41,209.6 197.47,211.94 197.52,214.39 197.58,216.92 197.64,219.47 197.7,221.94 197.75,224.2 197.81,226.09 197.87,227.5 197.92,228.4 197.98,228.9 198.04,229.14 198.1,229.23 198.15,229.25 198.21,229.26 198.27,229.26 198.32,229.26 198.38,229.26 198.44,229.26 198.5,229.24 198.55,229.16 198.61,228.9 198.67,228.25 198.73,226.97 198.78,224.96 198.84,222.34 198.9,219.37 198.95,216.29 199.01,213.25 199.07,210.35 199.13,207.61 199.18,205.05 199.24,202.65 199.3,200.41 199.36,198.32 199.41,196.38 199.47,194.56 199.53,192.86 199.58,191.27 199.64,189.78 199.7,188.4 199.76,187.1 199.81,185.89 199.87,184.76 199.93,183.71 199.99,182.73 200.04,181.82 200.1,180.98 200.16,180.2 200.21,179.48 200.27,178.83 200.33,178.23 200.39,177.69 200.44,177.21 200.5,176.78 200.56,176.4 200.61,176.08 200.67,175.8 200.73,175.58 200.79,175.41 200.84,175.28 200.9,175.21 200.96,175.19 201.02,175.21 201.07,175.28 201.13,175.4 201.19,175.56 201.24,175.78 201.3,176.04 201.36,176.35 201.42,176.71 201.47,177.12 201.53,177.58 201.59,178.09 201.65,178.66 201.7,179.28 201.76,179.96 201.82,180.7 201.87,181.5 201.93,182.36 201.99,183.29 202.05,184.28 202.1,185.35 202.16,186.48 202.22,187.7 202.28,188.99 202.33,190.37 202.39,191.84 202.45,193.4 202.5,195.05 202.56,196.81 202.62,198.65 202.68,200.59 202.73,202.61 202.79,204.7 202.85,206.8 202.9,208.87 202.96,210.83 203.02,212.58 203.08,214.01 203.13,215.09 203.19,215.82 203.25,216.25 203.31,216.47 203.36,216.58 203.42,216.62 203.48,216.63 203.53,216.63 203.59,216.63 203.65,216.63 203.71,216.63 203.76,216.63 203.82,216.63 203.88,216.63 203.94,216.62 203.99,216.61 204.05,216.58 204.11,216.51 204.16,216.39 204.22,216.19 204.28,215.89 204.34,215.45 204.39,214.86 204.45,214.1 204.51,213.18 204.56,212.12 204.62,210.94 204.68,209.69 204.74,208.39 204.79,207.08 204.85,205.77 204.91,204.48 204.97,203.24 205.02,202.03 205.08,200.88 205.14,199.79 205.19,198.75 205.25,197.78 205.31,196.86 205.37,196 205.42,195.2 205.48,194.46 205.54,193.77 205.6,193.14 205.65,192.56 205.71,192.04 205.77,191.57 205.82,191.15 205.88,190.78 205.94,190.47 206,190.2 206.05,189.98 206.11,189.81 206.17,189.69 206.23,189.62 206.28,189.59 206.34,189.63 206.4,189.73 206.45,189.89 206.51,190.12 206.57,190.41 206.63,190.78 206.68,191.21 206.74,191.71 206.8,192.28 206.86,192.93 206.91,193.66 206.97,194.46 207.03,195.34 207.08,196.31 207.14,197.37 207.2,198.53 207.26,199.78 207.31,201.14 207.37,202.6 207.43,204.19 207.48,205.91 207.54,207.76 207.6,209.76 207.66,211.93 207.71,214.27 207.77,216.81 207.83,219.55 207.89,222.51 207.94,225.69 208,229.06 208.06,232.52 208.11,235.88 208.17,238.81 208.23,240.93 208.29,242.14 208.34,242.66 208.4,242.82 208.46,242.86 208.52,242.86 208.57,242.86 208.63,242.86 208.69,242.86 208.74,242.85 208.8,242.82 208.86,242.7 208.92,242.4 208.97,241.77 209.03,240.65 209.09,238.98 209.15,236.81 209.2,234.3 209.26,231.65 209.32,228.97 209.37,226.34 209.43,223.83 209.49,221.44 209.55,219.17 209.6,217.04 209.66,215.03 209.72,213.13 209.77,211.35 209.83,209.67 209.89,208.08 209.95,206.58 210,205.17 210.06,203.84 210.12,202.58 210.18,201.39 210.23,200.27 210.29,199.21 210.35,198.21 210.4,197.27 210.46,196.39 210.52,195.55 210.58,194.77 210.63,194.04 210.69,193.36 210.75,192.72 210.81,192.12 210.86,191.57 210.92,191.07 210.98,190.6 211.03,190.17 211.09,189.79 211.15,189.44 211.21,189.13 211.26,188.86 211.32,188.62 211.38,188.42 211.44,188.26 211.49,188.14 211.55,188.05 211.61,187.99 211.66,187.98 211.72,188 211.78,188.07 211.84,188.18 211.89,188.34 211.95,188.54 212.01,188.79 212.06,189.09 212.12,189.44 212.18,189.83 212.24,190.28 212.29,190.77 212.35,191.32 212.41,191.91 212.47,192.57 212.52,193.28 212.58,194.04 212.64,194.87 212.69,195.76 212.75,196.72 212.81,197.74 212.87,198.84 212.92,200.01 212.98,201.26 213.04,202.6 213.1,204.02 213.15,205.55 213.21,207.17 213.27,208.91 213.32,210.78 213.38,212.77 213.44,214.91 213.5,217.22 213.55,219.7 213.61,222.39 213.67,225.31 213.72,228.5 213.78,231.99 213.84,235.85 213.9,240.14 213.95,244.97 214.01,250.45 214.07,256.76 214.13,264.06 214.18,272.25 214.24,278.48 214.3,278.48 214.35,278.48 214.41,278.48 214.47,278.48 214.53,278.48 214.58,278.48 214.64,273.74 214.7,265.86 214.76,258.65 214.81,252.37 214.87,246.9 214.93,242.08 214.98,237.79 215.04,233.93 215.1,230.44 215.16,227.25 215.21,224.33 215.27,221.64 215.33,219.16 215.39,216.86 215.44,214.71 215.5,212.72 215.56,210.86 215.61,209.12 215.67,207.49 215.73,205.97 215.79,204.54 215.84,203.2 215.9,201.95 215.96,200.78 216.02,199.68 216.07,198.66 216.13,197.7 216.19,196.81 216.24,195.99 216.3,195.22 216.36,194.51 216.42,193.86 216.47,193.26 216.53,192.71 216.59,192.22 216.64,191.78 216.7,191.38 216.76,191.04 216.82,190.74 216.87,190.49 216.93,190.28 216.99,190.12 217.05,190.01 217.1,189.94 217.16,189.92 217.22,189.94 217.27,190.02 217.33,190.14 217.39,190.31 217.45,190.54 217.5,190.81 217.56,191.13 217.62,191.51 217.68,191.94 217.73,192.43 217.79,192.97 217.85,193.56 217.9,194.22 217.96,194.93 218.02,195.71 218.08,196.55 218.13,197.46 218.19,198.44 218.25,199.49 218.31,200.62 218.36,201.83 218.42,203.13 218.48,204.51 218.53,206 218.59,207.58 218.65,209.28 218.71,211.1 218.76,213.04 218.82,215.12 218.88,217.35 218.93,219.73 218.99,222.28 219.05,224.99 219.11,227.84 219.16,230.8 219.22,233.76 219.28,236.56 219.34,238.96 219.39,240.74 219.45,241.84 219.51,242.4 219.56,242.62 219.62,242.68 219.68,242.7 219.74,242.7 219.79,242.7 219.85,242.7 219.91,242.7 219.97,242.69 220.02,242.65 220.08,242.53 220.14,242.21 220.19,241.54 220.25,240.36 220.31,238.63 220.37,236.41 220.42,233.87 220.48,231.2 220.54,228.53 220.6,225.93 220.65,223.44 220.71,221.08 220.77,218.86 220.82,216.77 220.88,214.8 220.94,212.96 221,211.23 221.05,209.61 221.11,208.08 221.17,206.65 221.22,205.3 221.28,204.04 221.34,202.85 221.4,201.74 221.45,200.7 221.51,199.73 221.57,198.82 221.63,197.97 221.68,197.18 221.74,196.45 221.8,195.77 221.85,195.15 221.91,194.57 221.97,194.05 222.03,193.58 222.08,193.16 222.14,192.78 222.2,192.45 222.26,192.16 222.31,191.92 222.37,191.72 222.43,191.57 222.48,191.46 222.54,191.4 222.6,191.38 222.66,191.39 222.71,191.42 222.77,191.47 222.83,191.53 222.89,191.62 222.94,191.73 223,191.86 223.06,192.01 223.11,192.17 223.17,192.36 223.23,192.56 223.29,192.78 223.34,193.02 223.4,193.28 223.46,193.55 223.51,193.84 223.57,194.14 223.63,194.45 223.69,194.77 223.74,195.1 223.8,195.44 223.86,195.78 223.92,196.12 223.97,196.46 224.03,196.79 224.09,197.11 224.14,197.42 224.2,197.71 224.26,197.97 224.32,198.21 224.37,198.41 224.43,198.59 224.49,198.73 224.55,198.84 224.6,198.91 224.66,198.96 224.72,198.98 224.77,198.99 224.83,198.98 224.89,198.93 224.95,198.84 225,198.69 225.06,198.49 225.12,198.22 225.18,197.89 225.23,197.5 225.29,197.07 225.35,196.6 225.4,196.09 225.46,195.56 225.52,195.01 225.58,194.45 225.63,193.89 225.69,193.33 225.75,192.77 225.8,192.22 225.86,191.68 225.92,191.15 225.98,190.64 226.03,190.14 226.09,189.66 226.15,189.2 226.21,188.76 226.26,188.33 226.32,187.92 226.38,187.53 226.43,187.15 226.49,186.8 226.55,186.46 226.61,186.13 226.66,185.83 226.72,185.54 226.78,185.27 226.84,185.01 226.89,184.77 226.95,184.55 227.01,184.34 227.06,184.15 227.12,183.97 227.18,183.8 227.24,183.66 227.29,183.52 227.35,183.4 227.41,183.3 227.47,183.21 227.52,183.13 227.58,183.07 227.64,183.02 227.69,182.98 227.75,182.96 227.81,182.96 227.87,182.98 227.92,183.05 227.98,183.17 228.04,183.34 228.09,183.55 228.15,183.81 228.21,184.12 228.27,184.48 228.32,184.89 228.38,185.36 228.44,185.87 228.5,186.44 228.55,187.07 228.61,187.75 228.67,188.5 228.72,189.3 228.78,190.17 228.84,191.1 228.9,192.1 228.95,193.18 229.01,194.33 229.07,195.56 229.13,196.88 229.18,198.29 229.24,199.8 229.3,201.41 229.35,203.13 229.41,204.98 229.47,206.96 229.53,209.08 229.58,211.36 229.64,213.82 229.7,216.48 229.75,219.36 229.81,222.48 229.87,225.87 229.93,229.54 229.98,233.48 230.04,237.6 230.1,241.67 230.16,245.17 230.21,247.55 230.27,248.71 230.33,249.09 230.38,249.17 230.44,249.17 230.5,249.17 230.56,249.17 230.61,249.17 230.67,249.16 230.73,249.07 230.79,248.79 230.84,248.08 230.9,246.72 230.96,244.59 231.01,241.84 231.07,238.76 231.13,235.59 231.19,232.48 231.24,229.51 231.3,226.71 231.36,224.08 231.42,221.62 231.47,219.32 231.53,217.16 231.59,215.14 231.64,213.25 231.7,211.47 231.76,209.8 231.82,208.23 231.87,206.75 231.93,205.36 231.99,204.04 232.05,202.81 232.1,201.65 232.16,200.55 232.22,199.52 232.27,198.56 232.33,197.65 232.39,196.8 232.45,196 232.5,195.26 232.56,194.56 232.62,193.92 232.67,193.32 232.73,192.77 232.79,192.27 232.85,191.81 232.9,191.39 232.96,191.01 233.02,190.68 233.08,190.38 233.13,190.13 233.19,189.92 233.25,189.74 233.3,189.61 233.36,189.51 233.42,189.45 233.48,189.43 233.53,189.46 233.59,189.54 233.65,189.68 233.71,189.86 233.76,190.11 233.82,190.41 233.88,190.76 233.93,191.18 233.99,191.65 234.05,192.18 234.11,192.77 234.16,193.43 234.22,194.15 234.28,194.94 234.34,195.79 234.39,196.72 234.45,197.73 234.51,198.82 234.56,199.99 234.62,201.24 234.68,202.6 234.74,204.05 234.79,205.61 234.85,207.28 234.91,209.08 234.96,211.02 235.02,213.1 235.08,215.35 235.14,217.77 235.19,220.39 235.25,223.24 235.31,226.33 235.37,229.69 235.42,233.34 235.48,237.26 235.54,241.36 235.59,245.41 235.65,248.89 235.71,251.27 235.77,252.43 235.82,252.81 235.88,252.89 235.94,252.9 236,252.9 236.05,252.9 236.11,252.9 236.17,252.88 236.22,252.78 236.28,252.45 236.34,251.65 236.4,250.12 236.45,247.8 236.51,244.88 236.57,241.67 236.63,238.41 236.68,235.23 236.74,232.22 236.8,229.39 236.85,226.73 236.91,224.25 236.97,221.92 237.03,219.75 237.08,217.71 237.14,215.79 237.2,213.99 237.25,212.3 237.31,210.7 237.37,209.2 237.43,207.78 237.48,206.44 237.54,205.18 237.6,203.99 237.66,202.87 237.71,201.81 237.77,200.81 237.83,199.87 237.88,198.98 237.94,198.15 238,197.37 238.06,196.63 238.11,195.95 238.17,195.31 238.23,194.72 238.29,194.17 238.34,193.66 238.4,193.19 238.46,192.76 238.51,192.38 238.57,192.03 238.63,191.72 238.69,191.45 238.74,191.21 238.8,191.01 238.86,190.85 238.91,190.73 238.97,190.64 239.03,190.58 239.09,190.57 239.14,190.59 239.2,190.66 239.26,190.78 239.32,190.94 239.37,191.16 239.43,191.42 239.49,191.73 239.54,192.09 239.6,192.5 239.66,192.97 239.72,193.48 239.77,194.05 239.83,194.68 239.89,195.36 239.95,196.11 240,196.91 240.06,197.78 240.12,198.71 240.17,199.71 240.23,200.79 240.29,201.94 240.35,203.17 240.4,204.49 240.46,205.9 240.52,207.41 240.58,209.02 240.63,210.75 240.69,212.6 240.75,214.58 240.8,216.71 240.86,219 240.92,221.48 240.98,224.16 241.03,227.07 241.09,230.24 241.15,233.73 241.21,237.58 241.26,241.87 241.32,246.68 241.38,252.15 241.43,258.43 241.49,265.65 241.55,273.57 241.61,278.48 241.66,278.48 241.72,278.48 241.78,278.48 241.83,278.48 241.89,278.48 241.95,278.48 242.01,277.85 242.06,271.37 242.12,264.64 242.18,258.5 242.24,253.05 242.29,248.21 242.35,243.87 242.41,239.96 242.46,236.4 242.52,233.15 242.58,230.15 242.64,227.38 242.69,224.8 242.75,222.4 242.81,220.15 242.87,218.05 242.92,216.07 242.98,214.21 243.04,212.45 243.09,210.79 243.15,209.22 243.21,207.73 243.27,206.32 243.32,204.98 243.38,203.71 243.44,202.51 243.5,201.37 243.55,200.28 243.61,199.25 243.67,198.27 243.72,197.34 243.78,196.45 243.84,195.62 243.9,194.82 243.95,194.07 244.01,193.36 244.07,192.69 244.12,192.06 244.18,191.46 244.24,190.9 244.3,190.37 244.35,189.88 244.41,189.42 244.47,189 244.53,188.6 244.58,188.24 244.64,187.91 244.7,187.61 244.75,187.34 244.81,187.1 244.87,186.88 244.93,186.7 244.98,186.55 245.04,186.42 245.1,186.32 245.16,186.25 245.21,186.21 245.27,186.19 245.33,186.2 245.38,186.22 245.44,186.26 245.5,186.31 245.56,186.38 245.61,186.46 245.67,186.56 245.73,186.67 245.79,186.8 245.84,186.94 245.9,187.09 245.96,187.26 246.01,187.45 246.07,187.64 246.13,187.85 246.19,188.08 246.24,188.31 246.3,188.56 246.36,188.81 246.41,189.08 246.47,189.36 246.53,189.64 246.59,189.93 246.64,190.23 246.7,190.53 246.76,190.83 246.82,191.13 246.87,191.43 246.93,191.72 246.99,192.01 247.04,192.28 247.1,192.54 247.16,192.78 247.22,193.01 247.27,193.21 247.33,193.39 247.39,193.55 247.45,193.68 247.5,193.78 247.56,193.86 247.62,193.91 247.67,193.95 247.73,193.96 247.79,193.97 247.85,193.97 247.9,193.96 247.96,193.96 248.02,193.95 248.08,193.93 248.13,193.91 248.19,193.88 248.25,193.85 248.3,193.82 248.36,193.77 248.42,193.73 248.48,193.67 248.53,193.62 248.59,193.56 248.65,193.49 248.7,193.42 248.76,193.35 248.82,193.28 248.88,193.2 248.93,193.12 248.99,193.05 249.05,192.97 249.11,192.89 249.16,192.82 249.22,192.75 249.28,192.68 249.33,192.61 249.39,192.55 249.45,192.49 249.51,192.43 249.56,192.38 249.62,192.34 249.68,192.3 249.74,192.26 249.79,192.24 249.85,192.21 249.91,192.2 249.96,192.19 250.02,192.19 250.08,192.2 250.14,192.23 250.19,192.29 250.25,192.38 250.31,192.48 250.37,192.62 250.42,192.77 250.48,192.95 250.54,193.16 250.59,193.39 250.65,193.65 250.71,193.93 250.77,194.24 250.82,194.57 250.88,194.93 250.94,195.32 250.99,195.74 251.05,196.18 251.11,196.65 251.17,197.16 251.22,197.69 251.28,198.25 251.34,198.85 251.4,199.47 251.45,200.14 251.51,200.83 251.57,201.57 251.62,202.34 251.68,203.14 251.74,203.99 251.8,204.88 251.85,205.82 251.91,206.79 251.97,207.82 252.03,208.9 252.08,210.03 252.14,211.21 252.2,212.45 252.25,213.75 252.31,215.12 252.37,216.56 252.43,218.07 252.48,219.65 252.54,221.32 252.6,223.08 252.65,224.93 252.71,226.88 252.77,228.93 252.83,231.09 252.88,233.34 252.94,235.69 253,238.1 253.06,240.54 253.11,242.93 253.17,245.15 253.23,247.09 253.28,248.62 253.34,249.7 253.4,250.36 253.46,250.71 253.51,250.87 253.57,250.93 253.63,250.95 253.69,250.95 253.74,250.95 253.8,250.95 253.86,250.95 253.91,250.91 253.97,250.46 254.03,248.57 254.09,244.49 254.14,239.15 254.2,233.71 254.26,228.7 254.32,224.21 254.37,220.21 254.43,216.63 254.49,213.44 254.54,210.57 254.6,207.99 254.66,205.66 254.72,203.57 254.77,201.68 254.83,199.99 254.89,198.47 254.95,197.12 255,195.92 255.06,194.87 255.12,193.95 255.17,193.17 255.23,192.51 255.29,191.98 255.35,191.57 255.4,191.28 255.46,191.11 255.52,191.05 255.57,191.07 255.63,191.11 255.69,191.18 255.75,191.28 255.8,191.41 255.86,191.57 255.92,191.76 255.98,191.98 256.03,192.23 256.09,192.51 256.15,192.82 256.2,193.17 256.26,193.54 256.32,193.95 256.38,194.39 256.43,194.86 256.49,195.37 256.55,195.92 256.61,196.5 256.66,197.11 256.72,197.77 256.78,198.47 256.83,199.2 256.89,199.98 256.95,200.8 257.01,201.67 257.06,202.59 257.12,203.55 257.18,204.57 257.24,205.64 257.29,206.77 257.35,207.96 257.41,209.21 257.46,210.52 257.52,211.91 257.58,213.37 257.64,214.9 257.69,216.52 257.75,218.23 257.81,220.02 257.86,221.9 257.92,223.88 257.98,225.95 258.04,228.09 258.09,230.29 258.15,232.51 258.21,234.7 258.27,236.77 258.32,238.61 258.38,240.12 258.44,241.26 258.49,242.01 258.55,242.46 258.61,242.7 258.67,242.81 258.72,242.85 258.78,242.86 258.84,242.86 258.9,242.86 258.95,242.86 258.95,275.24"/></clipPath><clipPath id="axa"><rect x="24.8" y="16.2" width="229" height="259.04"/></clipPath>
<g clip-path="url(#axa)"><g clip-path="url(#ca)">
<rect x="56.2" y="0" width="2.73" height="300" fill="#0070c0"/>
<rect x="58.88" y="0" width="2.73" height="300" fill="#ff5000"/>
<rect x="61.56" y="0" width="2.73" height="300" fill="#ffb800"/>
<rect x="64.24" y="0" width="2.73" height="300" fill="#982ca0"/>
<rect x="66.92" y="0" width="2.73" height="300" fill="#58ac1c"/>
<rect x="69.6" y="0" width="2.73" height="300" fill="#00c4f8"/>
<rect x="72.28" y="0" width="2.73" height="300" fill="#c8002c"/>
<rect x="74.96" y="0" width="2.73" height="300" fill="#0070c0"/>
<rect x="77.64" y="0" width="2.73" height="300" fill="#ff5000"/>
<rect x="80.32" y="0" width="2.73" height="300" fill="#ffb800"/>
<rect x="83" y="0" width="2.73" height="300" fill="#982ca0"/>
<rect x="85.68" y="0" width="2.73" height="300" fill="#58ac1c"/>
<rect x="88.36" y="0" width="2.73" height="300" fill="#00c4f8"/>
<rect x="91.04" y="0" width="2.73" height="300" fill="#c8002c"/>
<rect x="93.72" y="0" width="2.73" height="300" fill="#0070c0"/>
<rect x="96.4" y="0" width="2.73" height="300" fill="#ff5000"/>
<rect x="99.08" y="0" width="2.73" height="300" fill="#ffb800"/>
<rect x="101.76" y="0" width="2.73" height="300" fill="#982ca0"/>
<rect x="104.44" y="0" width="2.73" height="300" fill="#58ac1c"/>
<rect x="107.12" y="0" width="2.73" height="300" fill="#00c4f8"/>
<rect x="109.8" y="0" width="2.73" height="300" fill="#c8002c"/>
<rect x="112.48" y="0" width="2.73" height="300" fill="#0070c0"/>
<rect x="115.16" y="0" width="2.73" height="300" fill="#ff5000"/>
<rect x="117.84" y="0" width="2.73" height="300" fill="#ffb800"/>
<rect x="120.52" y="0" width="2.73" height="300" fill="#982ca0"/>
<rect x="123.2" y="0" width="2.73" height="300" fill="#58ac1c"/>
<rect x="125.88" y="0" width="2.73" height="300" fill="#00c4f8"/>
<rect x="128.56" y="0" width="2.73" height="300" fill="#c8002c"/>
<rect x="131.24" y="0" width="2.73" height="300" fill="#0070c0"/>
<rect x="133.92" y="0" width="2.73" height="300" fill="#ff5000"/>
<rect x="136.6" y="0" width="2.73" height="300" fill="#ffb800"/>
<rect x="139.28" y="0" width="2.73" height="300" fill="#982ca0"/>
<rect x="141.96" y="0" width="2.73" height="300" fill="#58ac1c"/>
<rect x="144.64" y="0" width="2.73" height="300" fill="#00c4f8"/>
<rect x="147.32" y="0" width="2.73" height="300" fill="#c8002c"/>
<rect x="150" y="0" width="2.73" height="300" fill="#0070c0"/>
<rect x="152.68" y="0" width="2.73" height="300" fill="#ff5000"/>
<rect x="155.36" y="0" width="2.73" height="300" fill="#ffb800"/>
<rect x="158.04" y="0" width="2.73" height="300" fill="#982ca0"/>
<rect x="160.72" y="0" width="2.73" height="300" fill="#58ac1c"/>
<rect x="163.4" y="0" width="2.73" height="300" fill="#00c4f8"/>
<rect x="166.08" y="0" width="2.73" height="300" fill="#c8002c"/>
<rect x="168.76" y="0" width="2.73" height="300" fill="#0070c0"/>
<rect x="171.44" y="0" width="2.73" height="300" fill="#ff5000"/>
<rect x="174.12" y="0" width="2.73" height="300" fill="#ffb800"/>
<rect x="176.8" y="0" width="5.45" height="300" fill="#982ca0"/>
<line x1="58.88" y1="0" x2="58.88" y2="300" class="se"/>
<line x1="61.56" y1="0" x2="61.56" y2="300" class="se"/>
<line x1="64.24" y1="0" x2="64.24" y2="300" class="se"/>
<line x1="66.92" y1="0" x2="66.92" y2="300" class="se"/>
<line x1="69.6" y1="0" x2="69.6" y2="300" class="se"/>
<line x1="72.28" y1="0" x2="72.28" y2="300" class="se"/>
<line x1="74.96" y1="0" x2="74.96" y2="300" class="se"/>
<line x1="77.64" y1="0" x2="77.64" y2="300" class="se"/>
<line x1="80.32" y1="0" x2="80.32" y2="300" class="se"/>
<line x1="83" y1="0" x2="83" y2="300" class="se"/>
<line x1="85.68" y1="0" x2="85.68" y2="300" class="se"/>
<line x1="88.36" y1="0" x2="88.36" y2="300" class="se"/>
<line x1="91.04" y1="0" x2="91.04" y2="300" class="se"/>
<line x1="93.72" y1="0" x2="93.72" y2="300" class="se"/>
<line x1="96.4" y1="0" x2="96.4" y2="300" class="se"/>
<line x1="99.08" y1="0" x2="99.08" y2="300" class="se"/>
<line x1="101.76" y1="0" x2="101.76" y2="300" class="se"/>
<line x1="104.44" y1="0" x2="104.44" y2="300" class="se"/>
<line x1="107.12" y1="0" x2="107.12" y2="300" class="se"/>
<line x1="109.8" y1="0" x2="109.8" y2="300" class="se"/>
<line x1="112.48" y1="0" x2="112.48" y2="300" class="se"/>
<line x1="115.16" y1="0" x2="115.16" y2="300" class="se"/>
<line x1="117.84" y1="0" x2="117.84" y2="300" class="se"/>
<line x1="120.52" y1="0" x2="120.52" y2="300" class="se"/>
<line x1="123.2" y1="0" x2="123.2" y2="300" class="se"/>
<line x1="125.88" y1="0" x2="125.88" y2="300" class="se"/>
<line x1="128.56" y1="0" x2="128.56" y2="300" class="se"/>
<line x1="131.24" y1="0" x2="131.24" y2="300" class="se"/>
<line x1="133.92" y1="0" x2="133.92" y2="300" class="se"/>
<line x1="136.6" y1="0" x2="136.6" y2="300" class="se"/>
<line x1="139.28" y1="0" x2="139.28" y2="300" class="se"/>
<line x1="141.96" y1="0" x2="141.96" y2="300" class="se"/>
<line x1="144.64" y1="0" x2="144.64" y2="300" class="se"/>
<line x1="147.32" y1="0" x2="147.32" y2="300" class="se"/>
<line x1="150" y1="0" x2="150" y2="300" class="se"/>
<line x1="152.68" y1="0" x2="152.68" y2="300" class="se"/>
<line x1="155.36" y1="0" x2="155.36" y2="300" class="se"/>
<line x1="158.04" y1="0" x2="158.04" y2="300" class="se"/>
<line x1="160.72" y1="0" x2="160.72" y2="300" class="se"/>
<line x1="163.4" y1="0" x2="163.4" y2="300" class="se"/>
<line x1="166.08" y1="0" x2="166.08" y2="300" class="se"/>
<line x1="168.76" y1="0" x2="168.76" y2="300" class="se"/>
<line x1="171.44" y1="0" x2="171.44" y2="300" class="se"/>
<line x1="174.12" y1="0" x2="174.12" y2="300" class="se"/>
<line x1="176.8" y1="0" x2="176.8" y2="300" class="se"/>
</g>
<polyline points="19.65,242.86 19.7,242.86 19.76,242.86 19.82,242.86 19.88,242.85 19.93,242.81 19.99,242.7 20.05,242.46 20.11,242.01 20.16,241.26 20.22,240.12 20.28,238.61 20.33,236.77 20.39,234.7 20.45,232.51 20.51,230.29 20.56,228.09 20.62,225.95 20.68,223.88 20.74,221.9 20.79,220.02 20.85,218.23 20.91,216.52 20.96,214.9 21.02,213.37 21.08,211.91 21.14,210.52 21.19,209.21 21.25,207.96 21.31,206.77 21.36,205.64 21.42,204.57 21.48,203.55 21.54,202.59 21.59,201.67 21.65,200.8 21.71,199.98 21.77,199.2 21.82,198.47 21.88,197.77 21.94,197.11 21.99,196.5 22.05,195.92 22.11,195.37 22.17,194.86 22.22,194.39 22.28,193.95 22.34,193.54 22.4,193.17 22.45,192.82 22.51,192.51 22.57,192.23 22.62,191.98 22.68,191.76 22.74,191.57 22.8,191.41 22.85,191.28 22.91,191.18 22.97,191.11 23.03,191.07 23.08,191.05 23.14,191.08 23.2,191.16 23.25,191.31 23.31,191.5 23.37,191.76 23.43,192.07 23.48,192.45 23.54,192.88 23.6,193.37 23.66,193.93 23.71,194.55 23.77,195.24 23.83,196 23.88,196.83 23.94,197.73 24,198.71 24.06,199.77 24.11,200.91 24.17,202.15 24.23,203.48 24.28,204.91 24.34,206.45 24.4,208.11 24.46,209.89 24.51,211.81 24.57,213.88 24.63,216.11 24.69,218.53 24.74,221.14 24.8,223.98 24.86,227.07 24.91,230.45 24.97,234.12 25.03,238.09 25.09,242.32 25.14,246.59 25.2,250.42 25.26,253.17 25.32,254.58 25.37,255.06 25.43,255.15 25.49,255.16 25.54,255.16 25.6,255.16 25.66,255.16 25.72,255.13 25.77,254.99 25.83,254.53 25.89,253.44 25.94,251.46 26,248.64 26.06,245.32 26.12,241.83 26.17,238.39 26.23,235.12 26.29,232.04 26.35,229.16 26.4,226.47 26.46,223.97 26.52,221.62 26.57,219.43 26.63,217.38 26.69,215.45 26.75,213.64 26.8,211.93 26.86,210.33 26.92,208.81 26.98,207.38 27.03,206.03 27.09,204.76 27.15,203.55 27.2,202.42 27.26,201.34 27.32,200.33 27.38,199.37 27.43,198.47 27.49,197.62 27.55,196.82 27.61,196.07 27.66,195.37 27.72,194.71 27.78,194.1 27.83,193.53 27.89,193 27.95,192.51 28.01,192.06 28.06,191.65 28.12,191.27 28.18,190.94 28.24,190.64 28.29,190.38 28.35,190.15 28.41,189.96 28.46,189.81 28.52,189.69 28.58,189.6 28.64,189.55 28.69,189.53 28.75,189.53 28.81,189.55 28.86,189.57 28.92,189.61 28.98,189.65 29.04,189.7 29.09,189.77 29.15,189.84 29.21,189.92 29.27,190.01 29.32,190.1 29.38,190.21 29.44,190.32 29.49,190.44 29.55,190.57 29.61,190.71 29.67,190.85 29.72,190.99 29.78,191.15 29.84,191.3 29.9,191.46 29.95,191.62 30.01,191.79 30.07,191.95 30.12,192.12 30.18,192.28 30.24,192.45 30.3,192.61 30.35,192.76 30.41,192.91 30.47,193.06 30.53,193.19 30.58,193.32 30.64,193.44 30.7,193.55 30.75,193.65 30.81,193.74 30.87,193.81 30.93,193.88 30.98,193.93 31.04,193.97 31.1,194 31.15,194.03 31.21,194.04 31.27,194.05 31.33,194.05 31.38,194.04 31.44,194.03 31.5,194 31.56,193.95 31.61,193.88 31.67,193.79 31.73,193.67 31.78,193.53 31.84,193.37 31.9,193.2 31.96,193 32.01,192.78 32.07,192.56 32.13,192.32 32.19,192.07 32.24,191.82 32.3,191.57 32.36,191.31 32.41,191.06 32.47,190.81 32.53,190.57 32.59,190.33 32.64,190.1 32.7,189.88 32.76,189.68 32.81,189.48 32.87,189.3 32.93,189.14 32.99,188.98 33.04,188.84 33.1,188.72 33.16,188.62 33.22,188.52 33.27,188.45 33.33,188.39 33.39,188.35 33.44,188.32 33.5,188.32 33.56,188.33 33.62,188.39 33.67,188.48 33.73,188.61 33.79,188.78 33.85,188.99 33.9,189.23 33.96,189.51 34.02,189.83 34.07,190.2 34.13,190.6 34.19,191.04 34.25,191.53 34.3,192.06 34.36,192.63 34.42,193.25 34.48,193.91 34.53,194.63 34.59,195.39 34.65,196.21 34.7,197.08 34.76,198 34.82,198.99 34.88,200.03 34.93,201.14 34.99,202.32 35.05,203.57 35.11,204.9 35.16,206.31 35.22,207.8 35.28,209.39 35.33,211.08 35.39,212.88 35.45,214.8 35.51,216.84 35.56,219.03 35.62,221.38 35.68,223.91 35.73,226.64 35.79,229.6 35.85,232.82 35.91,236.34 35.96,240.23 36.02,244.54 36.08,249.37 36.14,254.85 36.19,261.09 36.25,268.15 36.31,275.55 36.36,278.48 36.42,278.48 36.48,278.48 36.54,278.48 36.59,278.48 36.65,278.48 36.71,278.48 36.77,278.12 36.82,271.8 36.88,265.14 36.94,259.04 36.99,253.61 37.05,248.8 37.11,244.49 37.17,240.61 37.22,237.08 37.28,233.86 37.34,230.9 37.39,228.16 37.45,225.63 37.51,223.27 37.57,221.07 37.62,219.01 37.68,217.09 37.74,215.28 37.8,213.58 37.85,211.98 37.91,210.47 37.97,209.05 38.02,207.71 38.08,206.45 38.14,205.26 38.2,204.13 38.25,203.07 38.31,202.07 38.37,201.13 38.43,200.24 38.48,199.41 38.54,198.63 38.6,197.9 38.65,197.21 38.71,196.57 38.77,195.98 38.83,195.43 38.88,194.92 38.94,194.45 39,194.03 39.06,193.64 39.11,193.29 39.17,192.98 39.23,192.71 39.28,192.47 39.34,192.28 39.4,192.12 39.46,191.99 39.51,191.9 39.57,191.85 39.63,191.83 39.69,191.86 39.74,191.95 39.8,192.1 39.86,192.3 39.91,192.57 39.97,192.9 40.03,193.29 40.09,193.75 40.14,194.27 40.2,194.85 40.26,195.5 40.31,196.23 40.37,197.02 40.43,197.9 40.49,198.85 40.54,199.88 40.6,201 40.66,202.21 40.72,203.51 40.77,204.92 40.83,206.44 40.89,208.08 40.94,209.84 41,211.74 41.06,213.79 41.12,216.01 41.17,218.4 41.23,221 41.29,223.82 41.35,226.89 41.4,230.23 41.46,233.85 41.52,237.74 41.57,241.82 41.63,245.83 41.69,249.28 41.75,251.62 41.8,252.76 41.86,253.14 41.92,253.21 41.98,253.22 42.03,253.22 42.09,253.22 42.15,253.22 42.2,253.19 42.26,253.06 42.32,252.61 42.38,251.56 42.43,249.64 42.49,246.89 42.55,243.62 42.6,240.18 42.66,236.77 42.72,233.52 42.78,230.47 42.83,227.61 42.89,224.95 42.95,222.47 43.01,220.15 43.06,217.98 43.12,215.96 43.18,214.06 43.23,212.28 43.29,210.6 43.35,209.03 43.41,207.55 43.46,206.15 43.52,204.84 43.58,203.61 43.64,202.44 43.69,201.35 43.75,200.32 43.81,199.35 43.86,198.44 43.92,197.59 43.98,196.8 44.04,196.05 44.09,195.36 44.15,194.71 44.21,194.12 44.26,193.57 44.32,193.06 44.38,192.6 44.44,192.18 44.49,191.8 44.55,191.47 44.61,191.18 44.67,190.92 44.72,190.71 44.78,190.53 44.84,190.4 44.89,190.3 44.95,190.25 45.01,190.23 45.07,190.25 45.12,190.31 45.18,190.41 45.24,190.56 45.3,190.75 45.35,190.98 45.41,191.25 45.47,191.57 45.52,191.94 45.58,192.34 45.64,192.8 45.7,193.3 45.75,193.85 45.81,194.44 45.87,195.09 45.93,195.79 45.98,196.55 46.04,197.36 46.1,198.23 46.15,199.16 46.21,200.16 46.27,201.22 46.33,202.35 46.38,203.55 46.44,204.84 46.5,206.2 46.56,207.66 46.61,209.2 46.67,210.85 46.73,212.61 46.78,214.49 46.84,216.49 46.9,218.63 46.96,220.92 47.01,223.38 47.07,226.01 47.13,228.83 47.18,231.83 47.24,235.01 47.3,238.29 47.36,241.56 47.41,244.57 47.47,247 47.53,248.63 47.59,249.5 47.64,249.85 47.7,249.96 47.76,249.98 47.81,249.98 47.87,249.98 47.93,249.98 47.99,249.98 48.04,249.94 48.1,249.75 48.16,249.14 48.22,247.73 48.27,245.33 48.33,242.11 48.39,238.49 48.44,234.83 48.5,231.29 48.56,227.96 48.62,224.85 48.67,221.96 48.73,219.28 48.79,216.77 48.84,214.44 48.9,212.26 48.96,210.22 49.02,208.31 49.07,206.52 49.13,204.83 49.19,203.24 49.25,201.75 49.3,200.34 49.36,199.02 49.42,197.77 49.47,196.59 49.53,195.48 49.59,194.43 49.65,193.45 49.7,192.53 49.76,191.66 49.82,190.84 49.88,190.08 49.93,189.36 49.99,188.7 50.05,188.08 50.1,187.51 50.16,186.98 50.22,186.49 50.28,186.05 50.33,185.65 50.39,185.29 50.45,184.96 50.51,184.68 50.56,184.44 50.62,184.23 50.68,184.06 50.73,183.93 50.79,183.84 50.85,183.79 50.91,183.77 50.96,183.77 51.02,183.79 51.08,183.82 51.13,183.86 51.19,183.92 51.25,183.99 51.31,184.07 51.36,184.16 51.42,184.26 51.48,184.38 51.54,184.51 51.59,184.65 51.65,184.8 51.71,184.97 51.76,185.15 51.82,185.34 51.88,185.54 51.94,185.75 51.99,185.97 52.05,186.21 52.11,186.45 52.17,186.71 52.22,186.98 52.28,187.25 52.34,187.54 52.39,187.83 52.45,188.13 52.51,188.44 52.57,188.75 52.62,189.06 52.68,189.38 52.74,189.7 52.8,190.01 52.85,190.33 52.91,190.64 52.97,190.93 53.02,191.22 53.08,191.5 53.14,191.76 53.2,192 53.25,192.22 53.31,192.42 53.37,192.6 53.42,192.75 53.48,192.88 53.54,192.98 53.6,193.05 53.65,193.11 53.71,193.14 53.77,193.15 53.83,193.16 53.88,193.15 53.94,193.14 54,193.11 54.05,193.07 54.11,193 54.17,192.92 54.23,192.81 54.28,192.68 54.34,192.54 54.4,192.37 54.46,192.19 54.51,191.99 54.57,191.78 54.63,191.57 54.68,191.34 54.74,191.11 54.8,190.88 54.86,190.65 54.91,190.42 54.97,190.2 55.03,189.98 55.09,189.77 55.14,189.57 55.2,189.38 55.26,189.2 55.31,189.04 55.37,188.89 55.43,188.75 55.49,188.63 55.54,188.52 55.6,188.43 55.66,188.35 55.72,188.29 55.77,188.25 55.83,188.23 55.89,188.22 55.94,188.24 56,188.31 56.06,188.41 56.12,188.57 56.17,188.76 56.23,189 56.29,189.29 56.34,189.62 56.4,190 56.46,190.42 56.52,190.9 56.57,191.42 56.63,191.99 56.69,192.61 56.75,193.29 56.8,194.02 56.86,194.81 56.92,195.66 56.97,196.57 57.03,197.55 57.09,198.59 57.15,199.7 57.2,200.88 57.26,202.15 57.32,203.49 57.38,204.93 57.43,206.45 57.49,208.08 57.55,209.81 57.6,211.66 57.66,213.63 57.72,215.72 57.78,217.96 57.83,220.33 57.89,222.83 57.95,225.46 58.01,228.18 58.06,230.92 58.12,233.54 58.18,235.87 58.23,237.72 58.29,238.99 58.35,239.73 58.41,240.08 58.46,240.22 58.52,240.26 58.58,240.27 58.63,240.27 58.69,240.27 58.75,240.27 58.81,240.27 58.86,240.26 58.92,240.24 58.98,240.16 59.04,239.96 59.09,239.52 59.15,238.71 59.21,237.44 59.26,235.69 59.32,233.56 59.38,231.2 59.44,228.72 59.49,226.25 59.55,223.84 59.61,221.52 59.67,219.31 59.72,217.21 59.78,215.23 59.84,213.36 59.89,211.6 59.95,209.93 60.01,208.36 60.07,206.88 60.12,205.48 60.18,204.17 60.24,202.92 60.29,201.75 60.35,200.64 60.41,199.6 60.47,198.62 60.52,197.7 60.58,196.83 60.64,196.01 60.7,195.25 60.75,194.54 60.81,193.87 60.87,193.26 60.92,192.68 60.98,192.16 61.04,191.67 61.1,191.23 61.15,190.83 61.21,190.47 61.27,190.14 61.33,189.86 61.38,189.62 61.44,189.41 61.5,189.24 61.55,189.11 61.61,189.02 61.67,188.97 61.73,188.95 61.78,188.97 61.84,189.05 61.9,189.18 61.96,189.36 62.01,189.59 62.07,189.88 62.13,190.22 62.18,190.61 62.24,191.06 62.3,191.57 62.36,192.14 62.41,192.76 62.47,193.45 62.53,194.2 62.58,195.02 62.64,195.9 62.7,196.86 62.76,197.89 62.81,199 62.87,200.19 62.93,201.47 62.99,202.84 63.04,204.32 63.1,205.9 63.16,207.59 63.21,209.41 63.27,211.37 63.33,213.47 63.39,215.74 63.44,218.19 63.5,220.85 63.56,223.74 63.62,226.9 63.67,230.37 63.73,234.2 63.79,238.48 63.84,243.29 63.9,248.77 63.96,255.08 64.02,262.44 64.07,270.84 64.13,278.48 64.19,278.48 64.25,278.48 64.3,278.48 64.36,278.48 64.42,278.48 64.47,278.48 64.53,271.14 64.59,262.78 64.65,255.43 64.7,249.11 64.76,243.62 64.82,238.8 64.88,234.51 64.93,230.66 64.99,227.17 65.05,223.99 65.1,221.08 65.16,218.4 65.22,215.93 65.28,213.64 65.33,211.51 65.39,209.52 65.45,207.67 65.5,205.95 65.56,204.34 65.62,202.83 65.68,201.42 65.73,200.1 65.79,198.87 65.85,197.71 65.91,196.64 65.96,195.63 66.02,194.7 66.08,193.83 66.13,193.03 66.19,192.29 66.25,191.6 66.31,190.98 66.36,190.41 66.42,189.89 66.48,189.43 66.54,189.02 66.59,188.66 66.65,188.34 66.71,188.08 66.76,187.87 66.82,187.7 66.88,187.58 66.94,187.51 66.99,187.49 67.05,187.51 67.11,187.58 67.17,187.69 67.22,187.85 67.28,188.06 67.34,188.31 67.39,188.61 67.45,188.95 67.51,189.35 67.57,189.79 67.62,190.28 67.68,190.83 67.74,191.43 67.79,192.08 67.85,192.79 67.91,193.55 67.97,194.38 68.02,195.27 68.08,196.22 68.14,197.25 68.2,198.34 68.25,199.51 68.31,200.76 68.37,202.09 68.42,203.51 68.48,205.02 68.54,206.64 68.6,208.36 68.65,210.2 68.71,212.17 68.77,214.27 68.83,216.51 68.88,218.91 68.94,221.45 69,224.15 69.05,226.98 69.11,229.87 69.17,232.74 69.23,235.4 69.28,237.61 69.34,239.22 69.4,240.18 69.45,240.66 69.51,240.85 69.57,240.9 69.63,240.92 69.68,240.92 69.74,240.92 69.8,240.92 69.86,240.92 69.91,240.91 69.97,240.86 70.03,240.69 70.08,240.28 70.14,239.42 70.2,237.98 70.26,235.92 70.31,233.41 70.37,230.65 70.43,227.82 70.49,225.03 70.54,222.36 70.6,219.82 70.66,217.43 70.71,215.19 70.77,213.09 70.83,211.11 70.89,209.26 70.94,207.52 71,205.9 71.06,204.37 71.12,202.93 71.17,201.59 71.23,200.32 71.29,199.13 71.34,198.02 71.4,196.98 71.46,196.01 71.52,195.1 71.57,194.25 71.63,193.46 71.69,192.73 71.75,192.05 71.8,191.42 71.86,190.85 71.92,190.33 71.97,189.86 72.03,189.43 72.09,189.05 72.15,188.72 72.2,188.44 72.26,188.2 72.32,188 72.37,187.85 72.43,187.74 72.49,187.67 72.55,187.65 72.6,187.66 72.66,187.69 72.72,187.73 72.78,187.8 72.83,187.88 72.89,187.98 72.95,188.1 73,188.23 73.06,188.39 73.12,188.56 73.18,188.75 73.23,188.96 73.29,189.19 73.35,189.44 73.41,189.7 73.46,189.99 73.52,190.29 73.58,190.61 73.63,190.95 73.69,191.31 73.75,191.68 73.81,192.07 73.86,192.48 73.92,192.9 73.98,193.33 74.03,193.77 74.09,194.22 74.15,194.68 74.21,195.14 74.26,195.6 74.32,196.05 74.38,196.49 74.44,196.91 74.49,197.31 74.55,197.68 74.61,198.02 74.66,198.32 74.72,198.57 74.78,198.77 74.84,198.93 74.89,199.04 74.95,199.11 75.01,199.14 75.07,199.15 75.12,199.09 75.18,198.84 75.24,198.34 75.29,197.59 75.35,196.63 75.41,195.52 75.47,194.33 75.52,193.1 75.58,191.87 75.64,190.68 75.7,189.52 75.75,188.43 75.81,187.38 75.87,186.4 75.92,185.47 75.98,184.59 76.04,183.77 76.1,183 76.15,182.27 76.21,181.59 76.27,180.96 76.33,180.36 76.38,179.8 76.44,179.28 76.5,178.8 76.55,178.35 76.61,177.93 76.67,177.54 76.73,177.18 76.78,176.85 76.84,176.55 76.9,176.27 76.95,176.02 77.01,175.8 77.07,175.6 77.13,175.42 77.18,175.27 77.24,175.15 77.3,175.04 77.36,174.96 77.41,174.91 77.47,174.87 77.53,174.86 77.58,174.88 77.64,174.95 77.7,175.06 77.76,175.21 77.81,175.41 77.87,175.65 77.93,175.93 77.99,176.26 78.04,176.64 78.1,177.07 78.16,177.54 78.21,178.06 78.27,178.63 78.33,179.26 78.39,179.94 78.44,180.67 78.5,181.46 78.56,182.31 78.62,183.22 78.67,184.19 78.73,185.23 78.79,186.34 78.84,187.53 78.9,188.79 78.96,190.14 79.02,191.57 79.07,193.1 79.13,194.72 79.19,196.45 79.24,198.3 79.3,200.27 79.36,202.36 79.42,204.59 79.47,206.95 79.53,209.46 79.59,212.08 79.65,214.78 79.7,217.49 79.76,220.09 79.82,222.38 79.87,224.2 79.93,225.43 79.99,226.15 80.05,226.49 80.1,226.62 80.16,226.66 80.22,226.67 80.28,226.67 80.33,226.67 80.39,226.67 80.45,226.67 80.5,226.66 80.56,226.64 80.62,226.56 80.68,226.34 80.73,225.89 80.79,225.05 80.85,223.74 80.91,221.96 80.96,219.8 81.02,217.42 81.08,214.95 81.13,212.48 81.19,210.08 81.25,207.77 81.31,205.59 81.36,203.52 81.42,201.56 81.48,199.72 81.53,197.99 81.59,196.36 81.65,194.83 81.71,193.39 81.76,192.03 81.82,190.75 81.88,189.55 81.94,188.43 81.99,187.37 82.05,186.38 82.11,185.45 82.16,184.58 82.22,183.77 82.28,183.02 82.34,182.31 82.39,181.67 82.45,181.07 82.51,180.52 82.57,180.02 82.62,179.57 82.68,179.16 82.74,178.8 82.79,178.48 82.85,178.21 82.91,177.97 82.97,177.79 83.02,177.64 83.08,177.54 83.14,177.47 83.2,177.45 83.25,177.47 83.31,177.54 83.37,177.66 83.42,177.81 83.48,178.02 83.54,178.27 83.6,178.57 83.65,178.91 83.71,179.31 83.77,179.75 83.82,180.25 83.88,180.79 83.94,181.39 84,182.04 84.05,182.75 84.11,183.52 84.17,184.35 84.23,185.24 84.28,186.19 84.34,187.22 84.4,188.31 84.45,189.48 84.51,190.74 84.57,192.07 84.63,193.5 84.68,195.02 84.74,196.65 84.8,198.39 84.86,200.25 84.91,202.24 84.97,204.38 85.03,206.68 85.08,209.16 85.14,211.84 85.2,214.75 85.26,217.91 85.31,221.37 85.37,225.15 85.43,229.3 85.48,233.83 85.54,238.65 85.6,243.44 85.66,247.44 85.71,249.84 85.77,250.74 85.83,250.94 85.89,250.95 85.94,250.95 86,250.95 86.06,250.92 86.11,250.6 86.17,249.15 86.23,245.72 86.29,240.78 86.34,235.45 86.4,230.38 86.46,225.75 86.52,221.55 86.57,217.76 86.63,214.31 86.69,211.17 86.74,208.28 86.8,205.63 86.86,203.18 86.92,200.92 86.97,198.81 87.03,196.86 87.09,195.04 87.15,193.35 87.2,191.77 87.26,190.3 87.32,188.92 87.37,187.64 87.43,186.45 87.49,185.34 87.55,184.31 87.6,183.35 87.66,182.47 87.72,181.65 87.78,180.9 87.83,180.21 87.89,179.59 87.95,179.02 88,178.52 88.06,178.07 88.12,177.67 88.18,177.33 88.23,177.05 88.29,176.81 88.35,176.63 88.4,176.5 88.46,176.43 88.52,176.4 88.58,176.42 88.63,176.48 88.69,176.59 88.75,176.73 88.81,176.92 88.86,177.15 88.92,177.43 88.98,177.75 89.03,178.11 89.09,178.52 89.15,178.97 89.21,179.47 89.26,180.02 89.32,180.62 89.38,181.27 89.44,181.97 89.49,182.72 89.55,183.54 89.61,184.41 89.66,185.34 89.72,186.33 89.78,187.39 89.84,188.52 89.89,189.73 89.95,191.01 90.01,192.37 90.06,193.83 90.12,195.37 90.18,197.02 90.24,198.78 90.29,200.65 90.35,202.65 90.41,204.79 90.47,207.07 90.52,209.52 90.58,212.14 90.64,214.93 90.69,217.89 90.75,221 90.81,224.18 90.87,227.28 90.92,230.06 90.98,232.23 91.04,233.64 91.1,234.36 91.15,234.66 91.21,234.75 91.27,234.76 91.32,234.76 91.38,234.76 91.44,234.76 91.5,234.76 91.55,234.72 91.61,234.54 91.67,233.94 91.73,232.58 91.78,230.23 91.84,227.08 91.9,223.54 91.95,219.94 92.01,216.47 92.07,213.21 92.13,210.17 92.18,207.35 92.24,204.74 92.3,202.31 92.36,200.06 92.41,197.97 92.47,196.03 92.53,194.21 92.58,192.52 92.64,190.95 92.7,189.48 92.76,188.11 92.81,186.83 92.87,185.64 92.93,184.53 92.98,183.5 93.04,182.54 93.1,181.66 93.16,180.84 93.21,180.09 93.27,179.4 93.33,178.78 93.39,178.21 93.44,177.71 93.5,177.26 93.56,176.86 93.61,176.52 93.67,176.24 93.73,176 93.79,175.82 93.84,175.69 93.9,175.62 93.96,175.59 94.02,175.6 94.07,175.65 94.13,175.72 94.19,175.82 94.24,175.94 94.3,176.1 94.36,176.28 94.42,176.49 94.47,176.73 94.53,177 94.59,177.3 94.64,177.62 94.7,177.97 94.76,178.34 94.82,178.74 94.87,179.17 94.93,179.61 94.99,180.08 95.05,180.56 95.1,181.05 95.16,181.54 95.22,182.04 95.27,182.53 95.33,183.01 95.39,183.47 95.45,183.89 95.5,184.27 95.56,184.6 95.62,184.87 95.68,185.08 95.73,185.24 95.79,185.33 95.85,185.38 95.9,185.39 95.96,185.36 96.02,185.23 96.08,184.97 96.13,184.56 96.19,184 96.25,183.32 96.31,182.53 96.36,181.67 96.42,180.77 96.48,179.84 96.53,178.9 96.59,177.98 96.65,177.08 96.71,176.19 96.76,175.34 96.82,174.52 96.88,173.74 96.94,172.98 96.99,172.26 97.05,171.58 97.11,170.92 97.16,170.3 97.22,169.7 97.28,169.13 97.34,168.59 97.39,168.08 97.45,167.59 97.51,167.13 97.56,166.69 97.62,166.27 97.68,165.88 97.74,165.5 97.79,165.15 97.85,164.81 97.91,164.5 97.97,164.2 98.02,163.92 98.08,163.66 98.14,163.42 98.19,163.19 98.25,162.98 98.31,162.78 98.37,162.6 98.42,162.44 98.48,162.29 98.54,162.15 98.6,162.03 98.65,161.93 98.71,161.84 98.77,161.76 98.82,161.7 98.88,161.65 98.94,161.61 99,161.59 99.05,161.59 99.11,161.6 99.17,161.66 99.22,161.75 99.28,161.87 99.34,162.03 99.4,162.23 99.45,162.47 99.51,162.74 99.57,163.05 99.63,163.4 99.68,163.78 99.74,164.21 99.8,164.68 99.85,165.19 99.91,165.74 99.97,166.33 100.03,166.97 100.08,167.65 100.14,168.39 100.2,169.17 100.26,170 100.31,170.89 100.37,171.83 100.43,172.83 100.48,173.89 100.54,175.02 100.6,176.21 100.66,177.47 100.71,178.81 100.77,180.23 100.83,181.74 100.89,183.34 100.94,185.04 101,186.85 101.06,188.77 101.11,190.83 101.17,193.03 101.23,195.39 101.29,197.92 101.34,200.66 101.4,203.62 101.46,206.85 101.52,210.38 101.57,214.28 101.63,218.61 101.69,223.47 101.74,229.02 101.8,235.44 101.86,243.05 101.92,252.34 101.97,264.06 102.03,277.54 102.09,278.48 102.14,278.48 102.2,278.48 102.26,273.04 102.32,257.64 102.37,245.72 102.43,236.41 102.49,228.82 102.55,222.43 102.6,216.92 102.66,212.1 102.72,207.82 102.77,203.98 102.83,200.51 102.89,197.35 102.95,194.46 103,191.8 103.06,189.35 103.12,187.08 103.18,184.98 103.23,183.02 103.29,181.2 103.35,179.51 103.4,177.93 103.46,176.46 103.52,175.08 103.58,173.8 103.63,172.61 103.69,171.5 103.75,170.47 103.81,169.51 103.86,168.63 103.92,167.81 103.98,167.06 104.03,166.37 104.09,165.75 104.15,165.18 104.21,164.67 104.26,164.22 104.32,163.83 104.38,163.49 104.43,163.2 104.49,162.97 104.55,162.79 104.61,162.66 104.66,162.58 104.72,162.56 104.78,162.58 104.84,162.66 104.89,162.78 104.95,162.95 105.01,163.18 105.06,163.45 105.12,163.77 105.18,164.15 105.24,164.58 105.29,165.07 105.35,165.61 105.41,166.2 105.47,166.86 105.52,167.57 105.58,168.35 105.64,169.19 105.69,170.1 105.75,171.08 105.81,172.14 105.87,173.27 105.92,174.48 105.98,175.78 106.04,177.17 106.09,178.66 106.15,180.25 106.21,181.96 106.27,183.79 106.32,185.75 106.38,187.85 106.44,190.12 106.5,192.56 106.55,195.18 106.61,198.02 106.67,201.08 106.72,204.38 106.78,207.89 106.84,211.56 106.9,215.21 106.95,218.51 107.01,221.03 107.07,222.52 107.13,223.18 107.18,223.39 107.24,223.43 107.3,223.43 107.35,223.43 107.41,223.43 107.47,223.43 107.53,223.37 107.58,223.08 107.64,222.19 107.7,220.26 107.76,217.23 107.81,213.51 107.87,209.58 107.93,205.75 107.98,202.14 108.04,198.79 108.1,195.69 108.16,192.82 108.21,190.17 108.27,187.71 108.33,185.43 108.38,183.31 108.44,181.34 108.5,179.49 108.56,177.77 108.61,176.16 108.67,174.65 108.73,173.24 108.79,171.92 108.84,170.69 108.9,169.54 108.96,168.46 109.01,167.46 109.07,166.53 109.13,165.66 109.19,164.86 109.24,164.12 109.3,163.43 109.36,162.81 109.42,162.24 109.47,161.72 109.53,161.26 109.59,160.85 109.64,160.48 109.7,160.17 109.76,159.91 109.82,159.7 109.87,159.53 109.93,159.41 109.99,159.34 110.05,159.32 110.1,159.35 110.16,159.42 110.22,159.55 110.27,159.73 110.33,159.96 110.39,160.25 110.45,160.59 110.5,160.98 110.56,161.43 110.62,161.94 110.67,162.51 110.73,163.13 110.79,163.81 110.85,164.56 110.9,165.38 110.96,166.26 111.02,167.22 111.08,168.24 111.13,169.35 111.19,170.54 111.25,171.81 111.3,173.17 111.36,174.64 111.42,176.2 111.48,177.87 111.53,179.66 111.59,181.58 111.65,183.63 111.71,185.81 111.76,188.14 111.82,190.61 111.88,193.21 111.93,195.9 111.99,198.62 112.05,201.24 112.11,203.57 112.16,205.45 112.22,206.74 112.28,207.49 112.34,207.86 112.39,208 112.45,208.04 112.51,208.05 112.56,208.05 112.62,208.05 112.68,208.05 112.74,208.05 112.79,208.04 112.85,207.98 112.91,207.79 112.97,207.32 113.02,206.36 113.08,204.76 113.14,202.55 113.19,199.91 113.25,197.06 113.31,194.18 113.37,191.38 113.42,188.7 113.48,186.17 113.54,183.8 113.59,181.59 113.65,179.51 113.71,177.57 113.77,175.76 113.82,174.06 113.88,172.48 113.94,170.99 114,169.61 114.05,168.31 114.11,167.1 114.17,165.97 114.22,164.92 114.28,163.94 114.34,163.04 114.4,162.19 114.45,161.42 114.51,160.7 114.57,160.05 114.63,159.45 114.68,158.91 114.74,158.43 114.8,158 114.85,157.62 114.91,157.3 114.97,157.02 115.03,156.8 115.08,156.63 115.14,156.5 115.2,156.43 115.25,156.41 115.31,156.43 115.37,156.5 115.43,156.61 115.48,156.77 115.54,156.97 115.6,157.22 115.66,157.52 115.71,157.87 115.77,158.26 115.83,158.7 115.88,159.19 115.94,159.74 116,160.34 116.06,160.99 116.11,161.69 116.17,162.46 116.23,163.28 116.29,164.17 116.34,165.12 116.4,166.14 116.46,167.23 116.51,168.39 116.57,169.63 116.63,170.96 116.69,172.36 116.74,173.86 116.8,175.46 116.86,177.16 116.92,178.96 116.97,180.87 117.03,182.9 117.09,185.03 117.14,187.27 117.2,189.59 117.26,191.95 117.32,194.27 117.37,196.47 117.43,198.4 117.49,199.95 117.54,201.06 117.6,201.75 117.66,202.12 117.72,202.29 117.77,202.36 117.83,202.38 117.89,202.38 117.95,202.38 118,202.38 118.06,202.38 118.12,202.38 118.17,202.36 118.23,202.23 118.29,201.81 118.35,200.81 118.4,198.96 118.46,196.31 118.52,193.12 118.58,189.74 118.63,186.39 118.69,183.18 118.75,180.16 118.8,177.34 118.86,174.72 118.92,172.28 118.98,170 119.03,167.88 119.09,165.89 119.15,164.04 119.21,162.31 119.26,160.68 119.32,159.16 119.38,157.74 119.43,156.41 119.49,155.16 119.55,153.99 119.61,152.89 119.66,151.87 119.72,150.91 119.78,150.02 119.84,149.2 119.89,148.43 119.95,147.72 120.01,147.07 120.06,146.47 120.12,145.92 120.18,145.43 120.24,144.99 120.29,144.59 120.35,144.25 120.41,143.95 120.46,143.7 120.52,143.49 120.58,143.33 120.64,143.22 120.69,143.15 120.75,143.13 120.81,143.14 120.87,143.17 120.92,143.22 120.98,143.29 121.04,143.39 121.09,143.5 121.15,143.64 121.21,143.79 121.27,143.97 121.32,144.17 121.38,144.4 121.44,144.64 121.5,144.92 121.55,145.21 121.61,145.54 121.67,145.89 121.72,146.27 121.78,146.67 121.84,147.11 121.9,147.58 121.95,148.08 122.01,148.62 122.07,149.2 122.12,149.82 122.18,150.48 122.24,151.19 122.3,151.95 122.35,152.76 122.41,153.63 122.47,154.58 122.53,155.59 122.58,156.69 122.64,157.88 122.7,159.17 122.75,160.59 122.81,162.14 122.87,163.86 122.93,165.78 122.98,167.93 123.04,170.35 123.1,173.11 123.16,176.24 123.21,179.68 123.27,183.09 123.33,185.54 123.38,186.19 123.44,184.71 123.5,180.24 123.56,175.37 123.61,171.15 123.67,167.62 123.73,164.63 123.79,162.06 123.84,159.82 123.9,157.84 123.96,156.07 124.01,154.48 124.07,153.03 124.13,151.71 124.19,150.49 124.24,149.37 124.3,148.33 124.36,147.37 124.41,146.47 124.47,145.63 124.53,144.85 124.59,144.11 124.64,143.43 124.7,142.78 124.76,142.17 124.82,141.61 124.87,141.07 124.93,140.57 124.99,140.1 125.04,139.66 125.1,139.24 125.16,138.85 125.22,138.49 125.27,138.15 125.33,137.84 125.39,137.55 125.45,137.28 125.5,137.03 125.56,136.8 125.62,136.59 125.67,136.4 125.73,136.23 125.79,136.08 125.85,135.95 125.9,135.83 125.96,135.74 126.02,135.66 126.08,135.6 126.13,135.55 126.19,135.53 126.25,135.52 126.3,135.53 126.36,135.57 126.42,135.63 126.48,135.72 126.53,135.83 126.59,135.97 126.65,136.13 126.7,136.32 126.76,136.53 126.82,136.78 126.88,137.05 126.93,137.35 126.99,137.68 127.05,138.04 127.11,138.44 127.16,138.87 127.22,139.33 127.28,139.83 127.33,140.37 127.39,140.96 127.45,141.59 127.51,142.27 127.56,143 127.62,143.79 127.68,144.64 127.74,145.56 127.79,146.55 127.85,147.63 127.91,148.8 127.96,150.08 128.02,151.49 128.08,153.03 128.14,154.75 128.19,156.67 128.25,158.83 128.31,161.28 128.37,164.08 128.42,167.29 128.48,170.9 128.54,174.58 128.59,177.33 128.65,178.1 128.71,175.46 128.77,169.14 128.82,163.4 128.88,158.82 128.94,155.12 129,152.04 129.05,149.41 129.11,147.14 129.17,145.13 129.22,143.34 129.28,141.73 129.34,140.26 129.4,138.93 129.45,137.69 129.51,136.56 129.57,135.5 129.62,134.52 129.68,133.61 129.74,132.75 129.8,131.95 129.85,131.2 129.91,130.49 129.97,129.83 130.03,129.2 130.08,128.61 130.14,128.05 130.2,127.52 130.25,127.03 130.31,126.56 130.37,126.12 130.43,125.7 130.48,125.31 130.54,124.94 130.6,124.59 130.66,124.27 130.71,123.96 130.77,123.68 130.83,123.41 130.88,123.16 130.94,122.93 131,122.72 131.06,122.53 131.11,122.35 131.17,122.19 131.23,122.04 131.28,121.92 131.34,121.8 131.4,121.7 131.46,121.62 131.51,121.55 131.57,121.5 131.63,121.46 131.69,121.44 131.74,121.44 131.8,121.45 131.86,121.49 131.91,121.56 131.97,121.65 132.03,121.78 132.09,121.93 132.14,122.11 132.2,122.32 132.26,122.56 132.32,122.83 132.37,123.13 132.43,123.46 132.49,123.83 132.54,124.24 132.6,124.68 132.66,125.16 132.72,125.68 132.77,126.25 132.83,126.86 132.89,127.52 132.95,128.24 133,129.02 133.06,129.86 133.12,130.77 133.17,131.75 133.23,132.83 133.29,134.01 133.35,135.29 133.4,136.71 133.46,138.28 133.52,140.04 133.57,142.02 133.63,144.27 133.69,146.88 133.75,149.96 133.8,153.69 133.86,158.37 133.92,164.38 133.98,171.52 134.03,174.86 134.09,174.76 134.15,173.33 134.2,169.06 134.26,163.25 134.32,157.57 134.38,152.51 134.43,148.05 134.49,144.12 134.55,140.59 134.61,137.42 134.66,134.52 134.72,131.85 134.78,129.39 134.83,127.1 134.89,124.96 134.95,122.95 135.01,121.06 135.06,119.27 135.12,117.58 135.18,115.97 135.24,114.43 135.29,112.97 135.35,111.57 135.41,110.23 135.46,108.95 135.52,107.72 135.58,106.53 135.64,105.4 135.69,104.3 135.75,103.24 135.81,102.22 135.87,101.24 135.92,100.29 135.98,99.37 136.04,98.49 136.09,97.63 136.15,96.8 136.21,96 136.27,95.22 136.32,94.47 136.38,93.74 136.44,93.03 136.49,92.35 136.55,91.69 136.61,91.04 136.67,90.42 136.72,89.82 136.78,89.24 136.84,88.67 136.9,88.13 136.95,87.6 137.01,87.09 137.07,86.59 137.12,86.11 137.18,85.65 137.24,85.2 137.3,84.77 137.35,84.35 137.41,83.95 137.47,83.56 137.53,83.19 137.58,82.83 137.64,82.48 137.7,82.15 137.75,81.83 137.81,81.52 137.87,81.23 137.93,80.94 137.98,80.68 138.04,80.42 138.1,80.18 138.16,79.94 138.21,79.72 138.27,79.52 138.33,79.32 138.38,79.14 138.44,78.96 138.5,78.8 138.56,78.65 138.61,78.51 138.67,78.39 138.73,78.27 138.78,78.17 138.84,78.07 138.9,77.99 138.96,77.92 139.01,77.86 139.07,77.81 139.13,77.77 139.19,77.74 139.24,77.73 139.3,77.72 139.36,77.73 139.41,77.74 139.47,77.77 139.53,77.81 139.59,77.86 139.64,77.91 139.7,77.98 139.76,78.07 139.82,78.16 139.87,78.26 139.93,78.37 139.99,78.5 140.04,78.63 140.1,78.78 140.16,78.94 140.22,79.1 140.27,79.29 140.33,79.48 140.39,79.68 140.44,79.9 140.5,80.12 140.56,80.36 140.62,80.61 140.67,80.87 140.73,81.15 140.79,81.44 140.85,81.74 140.9,82.05 140.96,82.37 141.02,82.71 141.07,83.06 141.13,83.43 141.19,83.81 141.25,84.2 141.3,84.61 141.36,85.03 141.42,85.47 141.48,85.92 141.53,86.39 141.59,86.87 141.65,87.37 141.7,87.89 141.76,88.42 141.82,88.97 141.88,89.54 141.93,90.12 141.99,90.73 142.05,91.35 142.11,92 142.16,92.66 142.22,93.35 142.28,94.06 142.33,94.79 142.39,95.54 142.45,96.32 142.51,97.12 142.56,97.96 142.62,98.82 142.68,99.7 142.74,100.62 142.79,101.57 142.85,102.56 142.91,103.58 142.96,104.64 143.02,105.73 143.08,106.87 143.14,108.06 143.19,109.29 143.25,110.57 143.31,111.91 143.36,113.31 143.42,114.77 143.48,116.31 143.54,117.92 143.59,119.61 143.65,121.4 143.71,123.29 143.77,125.3 143.82,127.44 143.88,129.73 143.94,132.19 143.99,134.85 144.05,137.74 144.11,140.92 144.17,144.44 144.22,148.37 144.28,152.81 144.34,157.86 144.4,163.5 144.45,169.24 144.51,173.39 144.57,174.76 144.62,174.86 144.68,171.68 144.74,164.72 144.8,158.76 144.85,154.1 144.91,150.38 144.97,147.3 145.03,144.69 145.08,142.43 145.14,140.45 145.2,138.69 145.25,137.12 145.31,135.69 145.37,134.4 145.43,133.22 145.48,132.14 145.54,131.14 145.6,130.22 145.65,129.38 145.71,128.59 145.77,127.87 145.83,127.19 145.88,126.57 145.94,125.99 146,125.46 146.06,124.97 146.11,124.51 146.17,124.09 146.23,123.71 146.28,123.36 146.34,123.04 146.4,122.76 146.46,122.5 146.51,122.27 146.57,122.07 146.63,121.9 146.69,121.76 146.74,121.64 146.8,121.55 146.86,121.49 146.91,121.45 146.97,121.44 147.03,121.44 147.09,121.46 147.14,121.5 147.2,121.55 147.26,121.62 147.31,121.7 147.37,121.8 147.43,121.92 147.49,122.04 147.54,122.19 147.6,122.35 147.66,122.53 147.72,122.72 147.77,122.93 147.83,123.16 147.89,123.41 147.94,123.68 148,123.96 148.06,124.27 148.12,124.59 148.17,124.94 148.23,125.31 148.29,125.7 148.35,126.12 148.4,126.56 148.46,127.03 148.52,127.52 148.57,128.05 148.63,128.61 148.69,129.2 148.75,129.83 148.8,130.49 148.86,131.2 148.92,131.95 148.98,132.76 149.03,133.61 149.09,134.53 149.15,135.51 149.2,136.56 149.26,137.7 149.32,138.93 149.38,140.27 149.43,141.74 149.49,143.35 149.55,145.14 149.61,147.15 149.66,149.44 149.72,152.07 149.78,155.17 149.83,158.91 149.89,163.58 149.95,169.55 150.01,176.53 150.06,179.72 150.12,178.77 150.18,175.51 150.23,171.43 150.29,167.61 150.35,164.28 150.41,161.41 150.46,158.92 150.52,156.73 150.58,154.8 150.64,153.07 150.69,151.52 150.75,150.11 150.81,148.82 150.86,147.64 150.92,146.56 150.98,145.57 151.04,144.65 151.09,143.8 151.15,143.01 151.21,142.27 151.27,141.59 151.32,140.96 151.38,140.38 151.44,139.84 151.49,139.33 151.55,138.87 151.61,138.44 151.67,138.04 151.72,137.68 151.78,137.35 151.84,137.05 151.89,136.78 151.95,136.53 152.01,136.32 152.07,136.13 152.12,135.97 152.18,135.83 152.24,135.72 152.3,135.63 152.35,135.57 152.41,135.53 152.47,135.52 152.52,135.53 152.58,135.55 152.64,135.59 152.7,135.65 152.75,135.72 152.81,135.81 152.87,135.92 152.93,136.04 152.98,136.18 153.04,136.33 153.1,136.51 153.15,136.7 153.21,136.91 153.27,137.14 153.33,137.39 153.38,137.66 153.44,137.95 153.5,138.26 153.56,138.59 153.61,138.94 153.67,139.32 153.73,139.72 153.78,140.15 153.84,140.61 153.9,141.09 153.96,141.61 154.01,142.15 154.07,142.74 154.13,143.35 154.19,144.01 154.24,144.71 154.3,145.45 154.36,146.24 154.41,147.09 154.47,148 154.53,148.97 154.59,150.02 154.64,151.15 154.7,152.37 154.76,153.7 154.81,155.16 154.87,156.77 154.93,158.55 154.99,160.54 155.04,162.81 155.1,165.41 155.16,168.45 155.22,172.09 155.27,176.53 155.33,181.91 155.39,187.38 155.44,189.43 155.5,188.28 155.56,184.54 155.62,180.11 155.67,176.1 155.73,172.68 155.79,169.76 155.85,167.23 155.9,165.02 155.96,163.07 156.02,161.33 156.07,159.76 156.13,158.33 156.19,157.04 156.25,155.85 156.3,154.75 156.36,153.74 156.42,152.81 156.47,151.94 156.53,151.14 156.59,150.39 156.65,149.7 156.7,149.05 156.76,148.44 156.82,147.88 156.88,147.36 156.93,146.87 156.99,146.42 157.05,146 157.1,145.61 157.16,145.26 157.22,144.93 157.28,144.63 157.33,144.36 157.39,144.11 157.45,143.89 157.51,143.69 157.56,143.52 157.62,143.37 157.68,143.25 157.73,143.15 157.79,143.07 157.85,143.01 157.91,142.98 157.96,142.97 158.02,142.98 158.08,143.01 158.14,143.06 158.19,143.13 158.25,143.23 158.31,143.34 158.36,143.47 158.42,143.63 158.48,143.81 158.54,144.01 158.59,144.24 158.65,144.49 158.71,144.76 158.77,145.06 158.82,145.38 158.88,145.73 158.94,146.11 158.99,146.52 159.05,146.96 159.11,147.43 159.17,147.93 159.22,148.48 159.28,149.06 159.34,149.68 159.39,150.34 159.45,151.05 159.51,151.82 159.57,152.63 159.62,153.52 159.68,154.46 159.74,155.49 159.8,156.6 159.85,157.8 159.91,159.12 159.97,160.56 160.02,162.15 160.08,163.93 160.14,165.92 160.2,168.19 160.25,170.8 160.31,173.88 160.37,177.59 160.43,182.21 160.48,188.05 160.54,194.66 160.6,197.53 160.65,197.08 160.71,195.3 160.77,192.58 160.83,189.59 160.88,186.74 160.94,184.14 161,181.81 161.06,179.73 161.11,177.85 161.17,176.16 161.23,174.62 161.28,173.22 161.34,171.94 161.4,170.75 161.46,169.66 161.51,168.65 161.57,167.7 161.63,166.83 161.68,166.01 161.74,165.25 161.8,164.54 161.86,163.87 161.91,163.25 161.97,162.67 162.03,162.12 162.09,161.61 162.14,161.13 162.2,160.69 162.26,160.27 162.31,159.88 162.37,159.52 162.43,159.19 162.49,158.88 162.54,158.6 162.6,158.34 162.66,158.1 162.72,157.89 162.77,157.7 162.83,157.52 162.89,157.38 162.94,157.25 163,157.14 163.06,157.05 163.12,156.98 163.17,156.93 163.23,156.9 163.29,156.89 163.34,156.91 163.4,156.99 163.46,157.1 163.52,157.27 163.57,157.48 163.63,157.74 163.69,158.06 163.75,158.42 163.8,158.83 163.86,159.29 163.92,159.81 163.97,160.38 164.03,161 164.09,161.68 164.15,162.42 164.2,163.23 164.26,164.09 164.32,165.03 164.38,166.03 164.43,167.1 164.49,168.25 164.55,169.48 164.6,170.79 164.66,172.19 164.72,173.69 164.78,175.29 164.83,177 164.89,178.82 164.95,180.77 165.01,182.85 165.06,185.07 165.12,187.44 165.18,189.96 165.23,192.61 165.29,195.37 165.35,198.18 165.41,200.93 165.46,203.42 165.52,205.46 165.58,206.89 165.64,207.74 165.69,208.15 165.75,208.32 165.81,208.36 165.86,208.37 165.92,208.38 165.98,208.38 166.04,208.38 166.09,208.37 166.15,208.37 166.21,208.34 166.26,208.26 166.32,208.04 166.38,207.57 166.44,206.72 166.49,205.38 166.55,203.58 166.61,201.4 166.67,199.01 166.72,196.53 166.78,194.05 166.84,191.66 166.89,189.36 166.95,187.18 167.01,185.12 167.07,183.17 167.12,181.34 167.18,179.62 167.24,178.01 167.3,176.49 167.35,175.06 167.41,173.72 167.47,172.46 167.52,171.27 167.58,170.16 167.64,169.13 167.7,168.15 167.75,167.24 167.81,166.4 167.87,165.61 167.93,164.88 167.98,164.2 168.04,163.57 168.1,163 168.15,162.48 168.21,162.01 168.27,161.58 168.33,161.21 168.38,160.88 168.44,160.59 168.5,160.35 168.55,160.15 168.61,160 168.67,159.89 168.73,159.83 168.78,159.81 168.84,159.83 168.9,159.91 168.96,160.04 169.01,160.22 169.07,160.45 169.13,160.74 169.18,161.08 169.24,161.47 169.3,161.92 169.36,162.43 169.41,162.99 169.47,163.62 169.53,164.3 169.59,165.05 169.64,165.87 169.7,166.75 169.76,167.71 169.81,168.74 169.87,169.85 169.93,171.04 169.99,172.32 170.04,173.69 170.1,175.16 170.16,176.73 170.22,178.42 170.27,180.23 170.33,182.17 170.39,184.26 170.44,186.5 170.5,188.91 170.56,191.5 170.62,194.29 170.67,197.27 170.73,200.45 170.79,203.77 170.84,207.13 170.9,210.29 170.96,212.92 171.02,214.74 171.07,215.74 171.13,216.15 171.19,216.28 171.25,216.31 171.3,216.31 171.36,216.31 171.42,216.31 171.47,216.31 171.53,216.3 171.59,216.24 171.65,216.04 171.7,215.55 171.76,214.56 171.82,212.92 171.88,210.67 171.93,207.99 171.99,205.11 172.05,202.2 172.1,199.37 172.16,196.68 172.22,194.14 172.28,191.75 172.33,189.52 172.39,187.43 172.45,185.48 172.51,183.65 172.56,181.94 172.62,180.34 172.68,178.84 172.73,177.43 172.79,176.12 172.85,174.89 172.91,173.74 172.96,172.67 173.02,171.66 173.08,170.73 173.13,169.87 173.19,169.06 173.25,168.32 173.31,167.64 173.36,167.01 173.42,166.44 173.48,165.93 173.54,165.47 173.59,165.05 173.65,164.69 173.71,164.38 173.76,164.12 173.82,163.91 173.88,163.74 173.94,163.62 173.99,163.55 174.05,163.53 174.11,163.57 174.17,163.69 174.22,163.89 174.28,164.17 174.34,164.54 174.39,164.99 174.45,165.53 174.51,166.15 174.57,166.87 174.62,167.68 174.68,168.59 174.74,169.6 174.8,170.71 174.85,171.94 174.91,173.29 174.97,174.77 175.02,176.39 175.08,178.15 175.14,180.07 175.2,182.17 175.25,184.47 175.31,186.98 175.37,189.74 175.42,192.77 175.48,196.13 175.54,199.86 175.6,204.05 175.65,208.79 175.71,214.22 175.77,220.55 175.83,228.09 175.88,237.38 175.94,249.37 176,265.86 176.05,278.48 176.11,278.48 176.17,278.48 176.23,278.48 176.28,269.8 176.34,258.59 176.4,249.37 176.46,241.77 176.51,235.34 176.57,229.79 176.63,224.9 176.68,220.55 176.74,216.63 176.8,213.07 176.86,209.82 176.91,206.82 176.97,204.05 177.03,201.48 177.09,199.08 177.14,196.84 177.2,194.74 177.26,192.77 177.31,190.91 177.37,189.16 177.43,187.51 177.49,185.95 177.54,184.47 177.6,183.07 177.66,181.74 177.71,180.48 177.77,179.28 177.83,178.15 177.89,177.07 177.94,176.05 178,175.08 178.06,174.17 178.12,173.29 178.17,172.47 178.23,171.69 178.29,170.95 178.34,170.25 178.4,169.6 178.46,168.98 178.52,168.4 178.57,167.85 178.63,167.34 178.69,166.87 178.75,166.43 178.8,166.02 178.86,165.65 178.92,165.3 178.97,164.99 179.03,164.71 179.09,164.46 179.15,164.24 179.2,164.05 179.26,163.89 179.32,163.76 179.38,163.66 179.43,163.59 179.49,163.54 179.55,163.53 179.6,163.54 179.66,163.57 179.72,163.61 179.78,163.67 179.83,163.76 179.89,163.86 179.95,163.98 180,164.11 180.06,164.27 180.12,164.45 180.18,164.64 180.23,164.86 180.29,165.1 180.35,165.36 180.41,165.64 180.46,165.94 180.52,166.27 180.58,166.61 180.63,166.99 180.69,167.39 180.75,167.81 180.81,168.26 180.86,168.74 180.92,169.25 180.98,169.79 181.04,170.37 181.09,170.97 181.15,171.61 181.21,172.29 181.26,173 181.32,173.75 181.38,174.54 181.44,175.37 181.49,176.24 181.55,177.15 181.61,178.1 181.66,179.07 181.72,180.06 181.78,181.07 181.84,182.06 181.89,183.02 181.95,183.91 182.01,184.71 182.07,185.36 182.12,185.85 182.18,186.17 182.24,186.32 182.29,186.36 182.35,186.35 182.41,186.29 182.47,186.19 182.52,186.01 182.58,185.77 182.64,185.46 182.7,185.08 182.75,184.65 182.81,184.17 182.87,183.66 182.92,183.11 182.98,182.55 183.04,181.99 183.1,181.42 183.15,180.85 183.21,180.29 183.27,179.75 183.33,179.23 183.38,178.72 183.44,178.24 183.5,177.78 183.55,177.34 183.61,176.93 183.67,176.54 183.73,176.17 183.78,175.83 183.84,175.52 183.9,175.22 183.96,174.96 184.01,174.71 184.07,174.49 184.13,174.3 184.18,174.13 184.24,173.98 184.3,173.85 184.36,173.75 184.41,173.67 184.47,173.61 184.53,173.58 184.58,173.57 184.64,173.6 184.7,173.69 184.76,173.85 184.81,174.06 184.87,174.35 184.93,174.69 184.99,175.1 185.04,175.58 185.1,176.13 185.16,176.74 185.21,177.43 185.27,178.19 185.33,179.03 185.39,179.95 185.44,180.95 185.5,182.04 185.56,183.23 185.62,184.51 185.67,185.9 185.73,187.39 185.79,189.01 185.84,190.75 185.9,192.64 185.96,194.67 186.02,196.88 186.07,199.27 186.13,201.86 186.19,204.7 186.25,207.79 186.3,211.18 186.36,214.92 186.42,219.03 186.47,223.55 186.53,228.42 186.59,233.35 186.65,237.61 186.7,240.28 186.76,241.32 186.82,241.54 186.87,241.56 186.93,241.56 186.99,241.56 187.05,241.56 187.1,241.52 187.16,241.33 187.22,240.72 187.28,239.32 187.33,236.91 187.39,233.69 187.45,230.07 187.5,226.41 187.56,222.87 187.62,219.54 187.68,216.43 187.73,213.54 187.79,210.86 187.85,208.36 187.91,206.02 187.96,203.84 188.02,201.8 188.08,199.89 188.13,198.1 188.19,196.41 188.25,194.83 188.31,193.33 188.36,191.92 188.42,190.6 188.48,189.35 188.54,188.17 188.59,187.06 188.65,186.02 188.71,185.03 188.76,184.11 188.82,183.24 188.88,182.42 188.94,181.66 188.99,180.94 189.05,180.28 189.11,179.66 189.16,179.09 189.22,178.56 189.28,178.07 189.34,177.63 189.39,177.23 189.45,176.87 189.51,176.54 189.57,176.26 189.62,176.02 189.68,175.81 189.74,175.64 189.79,175.51 189.85,175.42 189.91,175.37 189.97,175.35 190.02,175.38 190.08,175.46 190.14,175.6 190.2,175.8 190.25,176.06 190.31,176.37 190.37,176.74 190.42,177.18 190.48,177.67 190.54,178.23 190.6,178.85 190.65,179.54 190.71,180.3 190.77,181.12 190.83,182.03 190.88,183.01 190.94,184.07 191,185.21 191.05,186.45 191.11,187.78 191.17,189.21 191.23,190.75 191.28,192.41 191.34,194.2 191.4,196.12 191.45,198.19 191.51,200.43 191.57,202.86 191.63,205.49 191.68,208.36 191.74,211.5 191.8,214.95 191.86,218.77 191.91,223.03 191.97,227.82 192.03,233.28 192.08,239.58 192.14,246.9 192.2,255.21 192.26,263.01 192.31,266.66 192.37,267.14 192.43,267.14 192.49,267.14 192.54,266.99 192.6,265.53 192.66,260.87 192.71,254.04 192.77,247.19 192.83,241.03 192.89,235.59 192.94,230.78 193,226.49 193.06,222.62 193.12,219.12 193.17,215.92 193.23,212.98 193.29,210.28 193.34,207.78 193.4,205.45 193.46,203.29 193.52,201.27 193.57,199.38 193.63,197.62 193.69,195.96 193.74,194.41 193.8,192.96 193.86,191.59 193.92,190.3 193.97,189.1 194.03,187.96 194.09,186.9 194.15,185.91 194.2,184.98 194.26,184.11 194.32,183.29 194.37,182.54 194.43,181.84 194.49,181.19 194.55,180.59 194.6,180.04 194.66,179.54 194.72,179.08 194.78,178.68 194.83,178.31 194.89,178 194.95,177.72 195,177.49 195.06,177.3 195.12,177.15 195.18,177.05 195.23,176.99 195.29,176.97 195.35,176.99 195.41,177.04 195.46,177.13 195.52,177.26 195.58,177.43 195.63,177.64 195.69,177.88 195.75,178.16 195.81,178.48 195.86,178.85 195.92,179.25 195.98,179.69 196.03,180.18 196.09,180.7 196.15,181.28 196.21,181.9 196.26,182.56 196.32,183.27 196.38,184.03 196.44,184.85 196.49,185.72 196.55,186.64 196.61,187.62 196.66,188.67 196.72,189.77 196.78,190.95 196.84,192.19 196.89,193.51 196.95,194.91 197.01,196.39 197.07,197.96 197.12,199.63 197.18,201.4 197.24,203.27 197.29,205.26 197.35,207.37 197.41,209.6 197.47,211.94 197.52,214.39 197.58,216.92 197.64,219.47 197.7,221.94 197.75,224.2 197.81,226.09 197.87,227.5 197.92,228.4 197.98,228.9 198.04,229.14 198.1,229.23 198.15,229.25 198.21,229.26 198.27,229.26 198.32,229.26 198.38,229.26 198.44,229.26 198.5,229.24 198.55,229.16 198.61,228.9 198.67,228.25 198.73,226.97 198.78,224.96 198.84,222.34 198.9,219.37 198.95,216.29 199.01,213.25 199.07,210.35 199.13,207.61 199.18,205.05 199.24,202.65 199.3,200.41 199.36,198.32 199.41,196.38 199.47,194.56 199.53,192.86 199.58,191.27 199.64,189.78 199.7,188.4 199.76,187.1 199.81,185.89 199.87,184.76 199.93,183.71 199.99,182.73 200.04,181.82 200.1,180.98 200.16,180.2 200.21,179.48 200.27,178.83 200.33,178.23 200.39,177.69 200.44,177.21 200.5,176.78 200.56,176.4 200.61,176.08 200.67,175.8 200.73,175.58 200.79,175.41 200.84,175.28 200.9,175.21 200.96,175.19 201.02,175.21 201.07,175.28 201.13,175.4 201.19,175.56 201.24,175.78 201.3,176.04 201.36,176.35 201.42,176.71 201.47,177.12 201.53,177.58 201.59,178.09 201.65,178.66 201.7,179.28 201.76,179.96 201.82,180.7 201.87,181.5 201.93,182.36 201.99,183.29 202.05,184.28 202.1,185.35 202.16,186.48 202.22,187.7 202.28,188.99 202.33,190.37 202.39,191.84 202.45,193.4 202.5,195.05 202.56,196.81 202.62,198.65 202.68,200.59 202.73,202.61 202.79,204.7 202.85,206.8 202.9,208.87 202.96,210.83 203.02,212.58 203.08,214.01 203.13,215.09 203.19,215.82 203.25,216.25 203.31,216.47 203.36,216.58 203.42,216.62 203.48,216.63 203.53,216.63 203.59,216.63 203.65,216.63 203.71,216.63 203.76,216.63 203.82,216.63 203.88,216.63 203.94,216.62 203.99,216.61 204.05,216.58 204.11,216.51 204.16,216.39 204.22,216.19 204.28,215.89 204.34,215.45 204.39,214.86 204.45,214.1 204.51,213.18 204.56,212.12 204.62,210.94 204.68,209.69 204.74,208.39 204.79,207.08 204.85,205.77 204.91,204.48 204.97,203.24 205.02,202.03 205.08,200.88 205.14,199.79 205.19,198.75 205.25,197.78 205.31,196.86 205.37,196 205.42,195.2 205.48,194.46 205.54,193.77 205.6,193.14 205.65,192.56 205.71,192.04 205.77,191.57 205.82,191.15 205.88,190.78 205.94,190.47 206,190.2 206.05,189.98 206.11,189.81 206.17,189.69 206.23,189.62 206.28,189.59 206.34,189.63 206.4,189.73 206.45,189.89 206.51,190.12 206.57,190.41 206.63,190.78 206.68,191.21 206.74,191.71 206.8,192.28 206.86,192.93 206.91,193.66 206.97,194.46 207.03,195.34 207.08,196.31 207.14,197.37 207.2,198.53 207.26,199.78 207.31,201.14 207.37,202.6 207.43,204.19 207.48,205.91 207.54,207.76 207.6,209.76 207.66,211.93 207.71,214.27 207.77,216.81 207.83,219.55 207.89,222.51 207.94,225.69 208,229.06 208.06,232.52 208.11,235.88 208.17,238.81 208.23,240.93 208.29,242.14 208.34,242.66 208.4,242.82 208.46,242.86 208.52,242.86 208.57,242.86 208.63,242.86 208.69,242.86 208.74,242.85 208.8,242.82 208.86,242.7 208.92,242.4 208.97,241.77 209.03,240.65 209.09,238.98 209.15,236.81 209.2,234.3 209.26,231.65 209.32,228.97 209.37,226.34 209.43,223.83 209.49,221.44 209.55,219.17 209.6,217.04 209.66,215.03 209.72,213.13 209.77,211.35 209.83,209.67 209.89,208.08 209.95,206.58 210,205.17 210.06,203.84 210.12,202.58 210.18,201.39 210.23,200.27 210.29,199.21 210.35,198.21 210.4,197.27 210.46,196.39 210.52,195.55 210.58,194.77 210.63,194.04 210.69,193.36 210.75,192.72 210.81,192.12 210.86,191.57 210.92,191.07 210.98,190.6 211.03,190.17 211.09,189.79 211.15,189.44 211.21,189.13 211.26,188.86 211.32,188.62 211.38,188.42 211.44,188.26 211.49,188.14 211.55,188.05 211.61,187.99 211.66,187.98 211.72,188 211.78,188.07 211.84,188.18 211.89,188.34 211.95,188.54 212.01,188.79 212.06,189.09 212.12,189.44 212.18,189.83 212.24,190.28 212.29,190.77 212.35,191.32 212.41,191.91 212.47,192.57 212.52,193.28 212.58,194.04 212.64,194.87 212.69,195.76 212.75,196.72 212.81,197.74 212.87,198.84 212.92,200.01 212.98,201.26 213.04,202.6 213.1,204.02 213.15,205.55 213.21,207.17 213.27,208.91 213.32,210.78 213.38,212.77 213.44,214.91 213.5,217.22 213.55,219.7 213.61,222.39 213.67,225.31 213.72,228.5 213.78,231.99 213.84,235.85 213.9,240.14 213.95,244.97 214.01,250.45 214.07,256.76 214.13,264.06 214.18,272.25 214.24,278.48 214.3,278.48 214.35,278.48 214.41,278.48 214.47,278.48 214.53,278.48 214.58,278.48 214.64,273.74 214.7,265.86 214.76,258.65 214.81,252.37 214.87,246.9 214.93,242.08 214.98,237.79 215.04,233.93 215.1,230.44 215.16,227.25 215.21,224.33 215.27,221.64 215.33,219.16 215.39,216.86 215.44,214.71 215.5,212.72 215.56,210.86 215.61,209.12 215.67,207.49 215.73,205.97 215.79,204.54 215.84,203.2 215.9,201.95 215.96,200.78 216.02,199.68 216.07,198.66 216.13,197.7 216.19,196.81 216.24,195.99 216.3,195.22 216.36,194.51 216.42,193.86 216.47,193.26 216.53,192.71 216.59,192.22 216.64,191.78 216.7,191.38 216.76,191.04 216.82,190.74 216.87,190.49 216.93,190.28 216.99,190.12 217.05,190.01 217.1,189.94 217.16,189.92 217.22,189.94 217.27,190.02 217.33,190.14 217.39,190.31 217.45,190.54 217.5,190.81 217.56,191.13 217.62,191.51 217.68,191.94 217.73,192.43 217.79,192.97 217.85,193.56 217.9,194.22 217.96,194.93 218.02,195.71 218.08,196.55 218.13,197.46 218.19,198.44 218.25,199.49 218.31,200.62 218.36,201.83 218.42,203.13 218.48,204.51 218.53,206 218.59,207.58 218.65,209.28 218.71,211.1 218.76,213.04 218.82,215.12 218.88,217.35 218.93,219.73 218.99,222.28 219.05,224.99 219.11,227.84 219.16,230.8 219.22,233.76 219.28,236.56 219.34,238.96 219.39,240.74 219.45,241.84 219.51,242.4 219.56,242.62 219.62,242.68 219.68,242.7 219.74,242.7 219.79,242.7 219.85,242.7 219.91,242.7 219.97,242.69 220.02,242.65 220.08,242.53 220.14,242.21 220.19,241.54 220.25,240.36 220.31,238.63 220.37,236.41 220.42,233.87 220.48,231.2 220.54,228.53 220.6,225.93 220.65,223.44 220.71,221.08 220.77,218.86 220.82,216.77 220.88,214.8 220.94,212.96 221,211.23 221.05,209.61 221.11,208.08 221.17,206.65 221.22,205.3 221.28,204.04 221.34,202.85 221.4,201.74 221.45,200.7 221.51,199.73 221.57,198.82 221.63,197.97 221.68,197.18 221.74,196.45 221.8,195.77 221.85,195.15 221.91,194.57 221.97,194.05 222.03,193.58 222.08,193.16 222.14,192.78 222.2,192.45 222.26,192.16 222.31,191.92 222.37,191.72 222.43,191.57 222.48,191.46 222.54,191.4 222.6,191.38 222.66,191.39 222.71,191.42 222.77,191.47 222.83,191.53 222.89,191.62 222.94,191.73 223,191.86 223.06,192.01 223.11,192.17 223.17,192.36 223.23,192.56 223.29,192.78 223.34,193.02 223.4,193.28 223.46,193.55 223.51,193.84 223.57,194.14 223.63,194.45 223.69,194.77 223.74,195.1 223.8,195.44 223.86,195.78 223.92,196.12 223.97,196.46 224.03,196.79 224.09,197.11 224.14,197.42 224.2,197.71 224.26,197.97 224.32,198.21 224.37,198.41 224.43,198.59 224.49,198.73 224.55,198.84 224.6,198.91 224.66,198.96 224.72,198.98 224.77,198.99 224.83,198.98 224.89,198.93 224.95,198.84 225,198.69 225.06,198.49 225.12,198.22 225.18,197.89 225.23,197.5 225.29,197.07 225.35,196.6 225.4,196.09 225.46,195.56 225.52,195.01 225.58,194.45 225.63,193.89 225.69,193.33 225.75,192.77 225.8,192.22 225.86,191.68 225.92,191.15 225.98,190.64 226.03,190.14 226.09,189.66 226.15,189.2 226.21,188.76 226.26,188.33 226.32,187.92 226.38,187.53 226.43,187.15 226.49,186.8 226.55,186.46 226.61,186.13 226.66,185.83 226.72,185.54 226.78,185.27 226.84,185.01 226.89,184.77 226.95,184.55 227.01,184.34 227.06,184.15 227.12,183.97 227.18,183.8 227.24,183.66 227.29,183.52 227.35,183.4 227.41,183.3 227.47,183.21 227.52,183.13 227.58,183.07 227.64,183.02 227.69,182.98 227.75,182.96 227.81,182.96 227.87,182.98 227.92,183.05 227.98,183.17 228.04,183.34 228.09,183.55 228.15,183.81 228.21,184.12 228.27,184.48 228.32,184.89 228.38,185.36 228.44,185.87 228.5,186.44 228.55,187.07 228.61,187.75 228.67,188.5 228.72,189.3 228.78,190.17 228.84,191.1 228.9,192.1 228.95,193.18 229.01,194.33 229.07,195.56 229.13,196.88 229.18,198.29 229.24,199.8 229.3,201.41 229.35,203.13 229.41,204.98 229.47,206.96 229.53,209.08 229.58,211.36 229.64,213.82 229.7,216.48 229.75,219.36 229.81,222.48 229.87,225.87 229.93,229.54 229.98,233.48 230.04,237.6 230.1,241.67 230.16,245.17 230.21,247.55 230.27,248.71 230.33,249.09 230.38,249.17 230.44,249.17 230.5,249.17 230.56,249.17 230.61,249.17 230.67,249.16 230.73,249.07 230.79,248.79 230.84,248.08 230.9,246.72 230.96,244.59 231.01,241.84 231.07,238.76 231.13,235.59 231.19,232.48 231.24,229.51 231.3,226.71 231.36,224.08 231.42,221.62 231.47,219.32 231.53,217.16 231.59,215.14 231.64,213.25 231.7,211.47 231.76,209.8 231.82,208.23 231.87,206.75 231.93,205.36 231.99,204.04 232.05,202.81 232.1,201.65 232.16,200.55 232.22,199.52 232.27,198.56 232.33,197.65 232.39,196.8 232.45,196 232.5,195.26 232.56,194.56 232.62,193.92 232.67,193.32 232.73,192.77 232.79,192.27 232.85,191.81 232.9,191.39 232.96,191.01 233.02,190.68 233.08,190.38 233.13,190.13 233.19,189.92 233.25,189.74 233.3,189.61 233.36,189.51 233.42,189.45 233.48,189.43 233.53,189.46 233.59,189.54 233.65,189.68 233.71,189.86 233.76,190.11 233.82,190.41 233.88,190.76 233.93,191.18 233.99,191.65 234.05,192.18 234.11,192.77 234.16,193.43 234.22,194.15 234.28,194.94 234.34,195.79 234.39,196.72 234.45,197.73 234.51,198.82 234.56,199.99 234.62,201.24 234.68,202.6 234.74,204.05 234.79,205.61 234.85,207.28 234.91,209.08 234.96,211.02 235.02,213.1 235.08,215.35 235.14,217.77 235.19,220.39 235.25,223.24 235.31,226.33 235.37,229.69 235.42,233.34 235.48,237.26 235.54,241.36 235.59,245.41 235.65,248.89 235.71,251.27 235.77,252.43 235.82,252.81 235.88,252.89 235.94,252.9 236,252.9 236.05,252.9 236.11,252.9 236.17,252.88 236.22,252.78 236.28,252.45 236.34,251.65 236.4,250.12 236.45,247.8 236.51,244.88 236.57,241.67 236.63,238.41 236.68,235.23 236.74,232.22 236.8,229.39 236.85,226.73 236.91,224.25 236.97,221.92 237.03,219.75 237.08,217.71 237.14,215.79 237.2,213.99 237.25,212.3 237.31,210.7 237.37,209.2 237.43,207.78 237.48,206.44 237.54,205.18 237.6,203.99 237.66,202.87 237.71,201.81 237.77,200.81 237.83,199.87 237.88,198.98 237.94,198.15 238,197.37 238.06,196.63 238.11,195.95 238.17,195.31 238.23,194.72 238.29,194.17 238.34,193.66 238.4,193.19 238.46,192.76 238.51,192.38 238.57,192.03 238.63,191.72 238.69,191.45 238.74,191.21 238.8,191.01 238.86,190.85 238.91,190.73 238.97,190.64 239.03,190.58 239.09,190.57 239.14,190.59 239.2,190.66 239.26,190.78 239.32,190.94 239.37,191.16 239.43,191.42 239.49,191.73 239.54,192.09 239.6,192.5 239.66,192.97 239.72,193.48 239.77,194.05 239.83,194.68 239.89,195.36 239.95,196.11 240,196.91 240.06,197.78 240.12,198.71 240.17,199.71 240.23,200.79 240.29,201.94 240.35,203.17 240.4,204.49 240.46,205.9 240.52,207.41 240.58,209.02 240.63,210.75 240.69,212.6 240.75,214.58 240.8,216.71 240.86,219 240.92,221.48 240.98,224.16 241.03,227.07 241.09,230.24 241.15,233.73 241.21,237.58 241.26,241.87 241.32,246.68 241.38,252.15 241.43,258.43 241.49,265.65 241.55,273.57 241.61,278.48 241.66,278.48 241.72,278.48 241.78,278.48 241.83,278.48 241.89,278.48 241.95,278.48 242.01,277.85 242.06,271.37 242.12,264.64 242.18,258.5 242.24,253.05 242.29,248.21 242.35,243.87 242.41,239.96 242.46,236.4 242.52,233.15 242.58,230.15 242.64,227.38 242.69,224.8 242.75,222.4 242.81,220.15 242.87,218.05 242.92,216.07 242.98,214.21 243.04,212.45 243.09,210.79 243.15,209.22 243.21,207.73 243.27,206.32 243.32,204.98 243.38,203.71 243.44,202.51 243.5,201.37 243.55,200.28 243.61,199.25 243.67,198.27 243.72,197.34 243.78,196.45 243.84,195.62 243.9,194.82 243.95,194.07 244.01,193.36 244.07,192.69 244.12,192.06 244.18,191.46 244.24,190.9 244.3,190.37 244.35,189.88 244.41,189.42 244.47,189 244.53,188.6 244.58,188.24 244.64,187.91 244.7,187.61 244.75,187.34 244.81,187.1 244.87,186.88 244.93,186.7 244.98,186.55 245.04,186.42 245.1,186.32 245.16,186.25 245.21,186.21 245.27,186.19 245.33,186.2 245.38,186.22 245.44,186.26 245.5,186.31 245.56,186.38 245.61,186.46 245.67,186.56 245.73,186.67 245.79,186.8 245.84,186.94 245.9,187.09 245.96,187.26 246.01,187.45 246.07,187.64 246.13,187.85 246.19,188.08 246.24,188.31 246.3,188.56 246.36,188.81 246.41,189.08 246.47,189.36 246.53,189.64 246.59,189.93 246.64,190.23 246.7,190.53 246.76,190.83 246.82,191.13 246.87,191.43 246.93,191.72 246.99,192.01 247.04,192.28 247.1,192.54 247.16,192.78 247.22,193.01 247.27,193.21 247.33,193.39 247.39,193.55 247.45,193.68 247.5,193.78 247.56,193.86 247.62,193.91 247.67,193.95 247.73,193.96 247.79,193.97 247.85,193.97 247.9,193.96 247.96,193.96 248.02,193.95 248.08,193.93 248.13,193.91 248.19,193.88 248.25,193.85 248.3,193.82 248.36,193.77 248.42,193.73 248.48,193.67 248.53,193.62 248.59,193.56 248.65,193.49 248.7,193.42 248.76,193.35 248.82,193.28 248.88,193.2 248.93,193.12 248.99,193.05 249.05,192.97 249.11,192.89 249.16,192.82 249.22,192.75 249.28,192.68 249.33,192.61 249.39,192.55 249.45,192.49 249.51,192.43 249.56,192.38 249.62,192.34 249.68,192.3 249.74,192.26 249.79,192.24 249.85,192.21 249.91,192.2 249.96,192.19 250.02,192.19 250.08,192.2 250.14,192.23 250.19,192.29 250.25,192.38 250.31,192.48 250.37,192.62 250.42,192.77 250.48,192.95 250.54,193.16 250.59,193.39 250.65,193.65 250.71,193.93 250.77,194.24 250.82,194.57 250.88,194.93 250.94,195.32 250.99,195.74 251.05,196.18 251.11,196.65 251.17,197.16 251.22,197.69 251.28,198.25 251.34,198.85 251.4,199.47 251.45,200.14 251.51,200.83 251.57,201.57 251.62,202.34 251.68,203.14 251.74,203.99 251.8,204.88 251.85,205.82 251.91,206.79 251.97,207.82 252.03,208.9 252.08,210.03 252.14,211.21 252.2,212.45 252.25,213.75 252.31,215.12 252.37,216.56 252.43,218.07 252.48,219.65 252.54,221.32 252.6,223.08 252.65,224.93 252.71,226.88 252.77,228.93 252.83,231.09 252.88,233.34 252.94,235.69 253,238.1 253.06,240.54 253.11,242.93 253.17,245.15 253.23,247.09 253.28,248.62 253.34,249.7 253.4,250.36 253.46,250.71 253.51,250.87 253.57,250.93 253.63,250.95 253.69,250.95 253.74,250.95 253.8,250.95 253.86,250.95 253.91,250.91 253.97,250.46 254.03,248.57 254.09,244.49 254.14,239.15 254.2,233.71 254.26,228.7 254.32,224.21 254.37,220.21 254.43,216.63 254.49,213.44 254.54,210.57 254.6,207.99 254.66,205.66 254.72,203.57 254.77,201.68 254.83,199.99 254.89,198.47 254.95,197.12 255,195.92 255.06,194.87 255.12,193.95 255.17,193.17 255.23,192.51 255.29,191.98 255.35,191.57 255.4,191.28 255.46,191.11 255.52,191.05 255.57,191.07 255.63,191.11 255.69,191.18 255.75,191.28 255.8,191.41 255.86,191.57 255.92,191.76 255.98,191.98 256.03,192.23 256.09,192.51 256.15,192.82 256.2,193.17 256.26,193.54 256.32,193.95 256.38,194.39 256.43,194.86 256.49,195.37 256.55,195.92 256.61,196.5 256.66,197.11 256.72,197.77 256.78,198.47 256.83,199.2 256.89,199.98 256.95,200.8 257.01,201.67 257.06,202.59 257.12,203.55 257.18,204.57 257.24,205.64 257.29,206.77 257.35,207.96 257.41,209.21 257.46,210.52 257.52,211.91 257.58,213.37 257.64,214.9 257.69,216.52 257.75,218.23 257.81,220.02 257.86,221.9 257.92,223.88 257.98,225.95 258.04,228.09 258.09,230.29 258.15,232.51 258.21,234.7 258.27,236.77 258.32,238.61 258.38,240.12 258.44,241.26 258.49,242.01 258.55,242.46 258.61,242.7 258.67,242.81 258.72,242.85 258.78,242.86 258.84,242.86 258.9,242.86 258.95,242.86" class="cv"/>
<polyline points="136.55,91.69 136.61,91.04 136.67,90.42 136.72,89.82 136.78,89.24 136.84,88.67 136.9,88.13 136.95,87.6 137.01,87.09 137.07,86.59 137.12,86.11 137.18,85.65 137.24,85.2 137.3,84.77 137.35,84.35 137.41,83.95 137.47,83.56 137.53,83.19 137.58,82.83 137.64,82.48 137.7,82.15 137.75,81.83 137.81,81.52 137.87,81.23 137.93,80.94 137.98,80.68 138.04,80.42 138.1,80.18 138.16,79.94 138.21,79.72 138.27,79.52 138.33,79.32 138.38,79.14 138.44,78.96 138.5,78.8 138.56,78.65 138.61,78.51 138.67,78.39 138.73,78.27 138.78,78.17 138.84,78.07 138.9,77.99 138.96,77.92 139.01,77.86 139.07,77.81 139.13,77.77 139.19,77.74 139.24,77.73 139.3,77.72 139.36,77.73 139.41,77.74 139.47,77.77 139.53,77.81 139.59,77.86 139.64,77.91 139.7,77.98 139.76,78.07 139.82,78.16 139.87,78.26 139.93,78.37 139.99,78.5 140.04,78.63 140.1,78.78 140.16,78.94 140.22,79.1 140.27,79.29 140.33,79.48 140.39,79.68 140.44,79.9 140.5,80.12 140.56,80.36 140.62,80.61 140.67,80.87 140.73,81.15 140.79,81.44 140.85,81.74 140.9,82.05 140.96,82.37 141.02,82.71 141.07,83.06 141.13,83.43 141.19,83.81 141.25,84.2 141.3,84.61 141.36,85.03 141.42,85.47 141.48,85.92 141.53,86.39 141.59,86.87 141.65,87.37 141.7,87.89 141.76,88.42 141.82,88.97 141.88,89.54 141.93,90.12 141.99,90.73 142.05,91.35 142.11,92" fill="none" stroke="#ff0000" stroke-width="1.9" stroke-linejoin="round"/>
</g>
<rect x="24.8" y="16.2" width="229" height="259.04" class="ax"/>
<line x1="24.8" y1="275.24" x2="24.8" y2="272.94" class="tk"/>
<line x1="24.8" y1="16.2" x2="24.8" y2="18.5" class="tk"/>
<text x="24.8" y="284.59" class="tl" text-anchor="middle">-20</text>
<line x1="53.42" y1="275.24" x2="53.42" y2="272.94" class="tk"/>
<line x1="53.42" y1="16.2" x2="53.42" y2="18.5" class="tk"/>
<text x="53.42" y="284.59" class="tl" text-anchor="middle">-15</text>
<line x1="82.05" y1="275.24" x2="82.05" y2="272.94" class="tk"/>
<line x1="82.05" y1="16.2" x2="82.05" y2="18.5" class="tk"/>
<text x="82.05" y="284.59" class="tl" text-anchor="middle">-10</text>
<line x1="110.67" y1="275.24" x2="110.67" y2="272.94" class="tk"/>
<line x1="110.67" y1="16.2" x2="110.67" y2="18.5" class="tk"/>
<text x="110.67" y="284.59" class="tl" text-anchor="middle">-5</text>
<line x1="139.3" y1="275.24" x2="139.3" y2="272.94" class="tk"/>
<line x1="139.3" y1="16.2" x2="139.3" y2="18.5" class="tk"/>
<text x="139.3" y="284.59" class="tl" text-anchor="middle">0</text>
<line x1="167.93" y1="275.24" x2="167.93" y2="272.94" class="tk"/>
<line x1="167.93" y1="16.2" x2="167.93" y2="18.5" class="tk"/>
<text x="167.93" y="284.59" class="tl" text-anchor="middle">5</text>
<line x1="196.55" y1="275.24" x2="196.55" y2="272.94" class="tk"/>
<line x1="196.55" y1="16.2" x2="196.55" y2="18.5" class="tk"/>
<text x="196.55" y="284.59" class="tl" text-anchor="middle">10</text>
<line x1="225.18" y1="275.24" x2="225.18" y2="272.94" class="tk"/>
<line x1="225.18" y1="16.2" x2="225.18" y2="18.5" class="tk"/>
<text x="225.18" y="284.59" class="tl" text-anchor="middle">15</text>
<line x1="253.8" y1="275.24" x2="253.8" y2="272.94" class="tk"/>
<line x1="253.8" y1="16.2" x2="253.8" y2="18.5" class="tk"/>
<text x="253.8" y="284.59" class="tl" text-anchor="middle">20</text>
<line x1="24.8" y1="275.24" x2="27.1" y2="275.24" class="tk"/>
<line x1="253.8" y1="275.24" x2="251.5" y2="275.24" class="tk"/>
<text x="22.2" y="277.94" class="tl" text-anchor="end">-40</text>
<line x1="24.8" y1="242.86" x2="27.1" y2="242.86" class="tk"/>
<line x1="253.8" y1="242.86" x2="251.5" y2="242.86" class="tk"/>
<text x="22.2" y="245.56" class="tl" text-anchor="end">-20</text>
<line x1="24.8" y1="210.48" x2="27.1" y2="210.48" class="tk"/>
<line x1="253.8" y1="210.48" x2="251.5" y2="210.48" class="tk"/>
<text x="22.2" y="213.18" class="tl" text-anchor="end">0</text>
<line x1="24.8" y1="178.1" x2="27.1" y2="178.1" class="tk"/>
<line x1="253.8" y1="178.1" x2="251.5" y2="178.1" class="tk"/>
<text x="22.2" y="180.8" class="tl" text-anchor="end">20</text>
<line x1="24.8" y1="145.72" x2="27.1" y2="145.72" class="tk"/>
<line x1="253.8" y1="145.72" x2="251.5" y2="145.72" class="tk"/>
<text x="22.2" y="148.42" class="tl" text-anchor="end">40</text>
<line x1="24.8" y1="113.34" x2="27.1" y2="113.34" class="tk"/>
<line x1="253.8" y1="113.34" x2="251.5" y2="113.34" class="tk"/>
<text x="22.2" y="116.04" class="tl" text-anchor="end">60</text>
<line x1="24.8" y1="80.96" x2="27.1" y2="80.96" class="tk"/>
<line x1="253.8" y1="80.96" x2="251.5" y2="80.96" class="tk"/>
<text x="22.2" y="83.66" class="tl" text-anchor="end">80</text>
<line x1="24.8" y1="48.58" x2="27.1" y2="48.58" class="tk"/>
<line x1="253.8" y1="48.58" x2="251.5" y2="48.58" class="tk"/>
<text x="22.2" y="51.28" class="tl" text-anchor="end">100</text>
<line x1="24.8" y1="16.2" x2="27.1" y2="16.2" class="tk"/>
<line x1="253.8" y1="16.2" x2="251.5" y2="16.2" class="tk"/>
<text x="22.2" y="18.9" class="tl" text-anchor="end">120</text>
<text x="139.3" y="10.6" class="tt" text-anchor="middle">2-way <tspan class="th">θ</tspan><tspan class="sub" dx="0.4" dy="2.6">inc</tspan><tspan dx="0.3" dy="-2.6">: 25.00 [deg], PRF: 3500 [Hz]</tspan></text>
<text x="139.3" y="294.1" class="xl" text-anchor="middle">azimuth angle - deg</text>
<text x="6.1" y="145.8" class="yl" text-anchor="middle" transform="rotate(-90 6.1 145.8)">antenna power pattern - dB</text>
<text x="129.5" y="308.1" class="lab" text-anchor="middle">(<tspan font-weight="bold" font-size="11.6px">a</tspan>)</text>
<line x1="313.6" y1="16.2" x2="313.6" y2="275.24" class="g"/>
<line x1="342.21" y1="16.2" x2="342.21" y2="275.24" class="g"/>
<line x1="370.83" y1="16.2" x2="370.83" y2="275.24" class="g"/>
<line x1="399.44" y1="16.2" x2="399.44" y2="275.24" class="g"/>
<line x1="428.05" y1="16.2" x2="428.05" y2="275.24" class="g"/>
<line x1="456.66" y1="16.2" x2="456.66" y2="275.24" class="g"/>
<line x1="485.27" y1="16.2" x2="485.27" y2="275.24" class="g"/>
<line x1="513.89" y1="16.2" x2="513.89" y2="275.24" class="g"/>
<line x1="542.5" y1="16.2" x2="542.5" y2="275.24" class="g"/>
<line x1="313.6" y1="275.24" x2="542.5" y2="275.24" class="g"/>
<line x1="313.6" y1="242.86" x2="542.5" y2="242.86" class="g"/>
<line x1="313.6" y1="210.48" x2="542.5" y2="210.48" class="g"/>
<line x1="313.6" y1="178.1" x2="542.5" y2="178.1" class="g"/>
<line x1="313.6" y1="145.72" x2="542.5" y2="145.72" class="g"/>
<line x1="313.6" y1="113.34" x2="542.5" y2="113.34" class="g"/>
<line x1="313.6" y1="80.96" x2="542.5" y2="80.96" class="g"/>
<line x1="313.6" y1="48.58" x2="542.5" y2="48.58" class="g"/>
<line x1="313.6" y1="16.2" x2="542.5" y2="16.2" class="g"/>
<clipPath id="cb"><polygon points="308.45,275.24 308.45,242.86 308.51,242.86 308.56,242.86 308.62,242.86 308.68,242.85 308.74,242.81 308.79,242.7 308.85,242.46 308.91,242.01 308.96,241.26 309.02,240.12 309.08,238.61 309.14,236.77 309.19,234.7 309.25,232.51 309.31,230.29 309.37,228.09 309.42,225.95 309.48,223.88 309.54,221.9 309.59,220.02 309.65,218.23 309.71,216.52 309.77,214.9 309.82,213.37 309.88,211.91 309.94,210.52 309.99,209.21 310.05,207.96 310.11,206.77 310.17,205.64 310.22,204.57 310.28,203.55 310.34,202.59 310.4,201.67 310.45,200.8 310.51,199.98 310.57,199.2 310.62,198.47 310.68,197.77 310.74,197.11 310.8,196.5 310.85,195.92 310.91,195.37 310.97,194.86 311.02,194.39 311.08,193.95 311.14,193.54 311.2,193.17 311.25,192.82 311.31,192.51 311.37,192.23 311.43,191.98 311.48,191.76 311.54,191.57 311.6,191.41 311.65,191.28 311.71,191.18 311.77,191.11 311.83,191.07 311.88,191.05 311.94,191.08 312,191.16 312.05,191.31 312.11,191.5 312.17,191.76 312.23,192.07 312.28,192.45 312.34,192.88 312.4,193.37 312.46,193.93 312.51,194.55 312.57,195.24 312.63,196 312.68,196.83 312.74,197.73 312.8,198.71 312.86,199.77 312.91,200.91 312.97,202.15 313.03,203.48 313.08,204.91 313.14,206.45 313.2,208.11 313.26,209.89 313.31,211.81 313.37,213.88 313.43,216.11 313.49,218.53 313.54,221.14 313.6,223.98 313.66,227.07 313.71,230.45 313.77,234.12 313.83,238.09 313.89,242.32 313.94,246.59 314,250.42 314.06,253.17 314.12,254.58 314.17,255.06 314.23,255.15 314.29,255.16 314.34,255.16 314.4,255.16 314.46,255.16 314.52,255.13 314.57,254.99 314.63,254.53 314.69,253.44 314.74,251.46 314.8,248.64 314.86,245.32 314.92,241.83 314.97,238.39 315.03,235.12 315.09,232.04 315.15,229.16 315.2,226.47 315.26,223.97 315.32,221.62 315.37,219.43 315.43,217.38 315.49,215.45 315.55,213.64 315.6,211.93 315.66,210.33 315.72,208.81 315.77,207.38 315.83,206.03 315.89,204.76 315.95,203.55 316,202.42 316.06,201.34 316.12,200.33 316.18,199.37 316.23,198.47 316.29,197.62 316.35,196.82 316.4,196.07 316.46,195.37 316.52,194.71 316.58,194.1 316.63,193.53 316.69,193 316.75,192.51 316.8,192.06 316.86,191.65 316.92,191.27 316.98,190.94 317.03,190.64 317.09,190.38 317.15,190.15 317.21,189.96 317.26,189.81 317.32,189.69 317.38,189.6 317.43,189.55 317.49,189.53 317.55,189.53 317.61,189.55 317.66,189.57 317.72,189.61 317.78,189.65 317.83,189.7 317.89,189.77 317.95,189.84 318.01,189.92 318.06,190.01 318.12,190.1 318.18,190.21 318.24,190.32 318.29,190.44 318.35,190.57 318.41,190.71 318.46,190.85 318.52,190.99 318.58,191.15 318.64,191.3 318.69,191.46 318.75,191.62 318.81,191.79 318.86,191.95 318.92,192.12 318.98,192.28 319.04,192.45 319.09,192.61 319.15,192.76 319.21,192.91 319.27,193.06 319.32,193.19 319.38,193.32 319.44,193.44 319.49,193.55 319.55,193.65 319.61,193.74 319.67,193.81 319.72,193.88 319.78,193.93 319.84,193.97 319.89,194 319.95,194.03 320.01,194.04 320.07,194.05 320.12,194.05 320.18,194.04 320.24,194.03 320.3,194 320.35,193.95 320.41,193.88 320.47,193.79 320.52,193.67 320.58,193.53 320.64,193.37 320.7,193.2 320.75,193 320.81,192.78 320.87,192.56 320.92,192.32 320.98,192.07 321.04,191.82 321.1,191.57 321.15,191.31 321.21,191.06 321.27,190.81 321.33,190.57 321.38,190.33 321.44,190.1 321.5,189.88 321.55,189.68 321.61,189.48 321.67,189.3 321.73,189.14 321.78,188.98 321.84,188.84 321.9,188.72 321.95,188.62 322.01,188.52 322.07,188.45 322.13,188.39 322.18,188.35 322.24,188.32 322.3,188.32 322.36,188.33 322.41,188.39 322.47,188.48 322.53,188.61 322.58,188.78 322.64,188.99 322.7,189.23 322.76,189.51 322.81,189.83 322.87,190.2 322.93,190.6 322.98,191.04 323.04,191.53 323.1,192.06 323.16,192.63 323.21,193.25 323.27,193.91 323.33,194.63 323.39,195.39 323.44,196.21 323.5,197.08 323.56,198 323.61,198.99 323.67,200.03 323.73,201.14 323.79,202.32 323.84,203.57 323.9,204.9 323.96,206.31 324.01,207.8 324.07,209.39 324.13,211.08 324.19,212.88 324.24,214.8 324.3,216.84 324.36,219.03 324.42,221.38 324.47,223.91 324.53,226.64 324.59,229.6 324.64,232.82 324.7,236.34 324.76,240.23 324.82,244.54 324.87,249.37 324.93,254.85 324.99,261.09 325.05,268.15 325.1,275.55 325.16,278.48 325.22,278.48 325.27,278.48 325.33,278.48 325.39,278.48 325.45,278.48 325.5,278.48 325.56,278.12 325.62,271.8 325.67,265.14 325.73,259.04 325.79,253.61 325.85,248.8 325.9,244.49 325.96,240.61 326.02,237.08 326.08,233.86 326.13,230.9 326.19,228.16 326.25,225.63 326.3,223.27 326.36,221.07 326.42,219.01 326.48,217.09 326.53,215.28 326.59,213.58 326.65,211.98 326.7,210.47 326.76,209.05 326.82,207.71 326.88,206.45 326.93,205.26 326.99,204.13 327.05,203.07 327.11,202.07 327.16,201.13 327.22,200.24 327.28,199.41 327.33,198.63 327.39,197.9 327.45,197.21 327.51,196.57 327.56,195.98 327.62,195.43 327.68,194.92 327.73,194.45 327.79,194.03 327.85,193.64 327.91,193.29 327.96,192.98 328.02,192.71 328.08,192.47 328.14,192.28 328.19,192.12 328.25,191.99 328.31,191.9 328.36,191.85 328.42,191.83 328.48,191.86 328.54,191.95 328.59,192.1 328.65,192.3 328.71,192.57 328.76,192.9 328.82,193.29 328.88,193.75 328.94,194.27 328.99,194.85 329.05,195.5 329.11,196.23 329.17,197.02 329.22,197.9 329.28,198.85 329.34,199.88 329.39,201 329.45,202.21 329.51,203.51 329.57,204.92 329.62,206.44 329.68,208.08 329.74,209.84 329.79,211.74 329.85,213.79 329.91,216.01 329.97,218.4 330.02,221 330.08,223.82 330.14,226.89 330.2,230.23 330.25,233.85 330.31,237.74 330.37,241.82 330.42,245.83 330.48,249.28 330.54,251.62 330.6,252.76 330.65,253.14 330.71,253.21 330.77,253.22 330.82,253.22 330.88,253.22 330.94,253.22 331,253.19 331.05,253.06 331.11,252.61 331.17,251.56 331.23,249.64 331.28,246.89 331.34,243.62 331.4,240.18 331.45,236.77 331.51,233.52 331.57,230.47 331.63,227.61 331.68,224.95 331.74,222.47 331.8,220.15 331.85,217.98 331.91,215.96 331.97,214.06 332.03,212.28 332.08,210.6 332.14,209.03 332.2,207.55 332.26,206.15 332.31,204.84 332.37,203.61 332.43,202.44 332.48,201.35 332.54,200.32 332.6,199.35 332.66,198.44 332.71,197.59 332.77,196.8 332.83,196.05 332.88,195.36 332.94,194.71 333,194.12 333.06,193.57 333.11,193.06 333.17,192.6 333.23,192.18 333.29,191.8 333.34,191.47 333.4,191.18 333.46,190.92 333.51,190.71 333.57,190.53 333.63,190.4 333.69,190.3 333.74,190.25 333.8,190.23 333.86,190.25 333.91,190.31 333.97,190.41 334.03,190.56 334.09,190.75 334.14,190.98 334.2,191.25 334.26,191.57 334.32,191.94 334.37,192.34 334.43,192.8 334.49,193.3 334.54,193.85 334.6,194.44 334.66,195.09 334.72,195.79 334.77,196.55 334.83,197.36 334.89,198.23 334.94,199.16 335,200.16 335.06,201.22 335.12,202.35 335.17,203.55 335.23,204.84 335.29,206.2 335.35,207.66 335.4,209.2 335.46,210.85 335.52,212.61 335.57,214.49 335.63,216.49 335.69,218.63 335.75,220.92 335.8,223.38 335.86,226.01 335.92,228.83 335.97,231.83 336.03,235.01 336.09,238.29 336.15,241.56 336.2,244.57 336.26,247 336.32,248.63 336.38,249.5 336.43,249.85 336.49,249.96 336.55,249.98 336.6,249.98 336.66,249.98 336.72,249.98 336.78,249.98 336.83,249.94 336.89,249.75 336.95,249.14 337.01,247.73 337.06,245.33 337.12,242.11 337.18,238.49 337.23,234.83 337.29,231.29 337.35,227.96 337.41,224.85 337.46,221.96 337.52,219.28 337.58,216.77 337.63,214.44 337.69,212.26 337.75,210.22 337.81,208.31 337.86,206.52 337.92,204.83 337.98,203.24 338.04,201.75 338.09,200.34 338.15,199.02 338.21,197.77 338.26,196.59 338.32,195.48 338.38,194.43 338.44,193.45 338.49,192.53 338.55,191.66 338.61,190.84 338.66,190.08 338.72,189.36 338.78,188.7 338.84,188.08 338.89,187.51 338.95,186.98 339.01,186.49 339.07,186.05 339.12,185.65 339.18,185.29 339.24,184.96 339.29,184.68 339.35,184.44 339.41,184.23 339.47,184.06 339.52,183.93 339.58,183.84 339.64,183.79 339.69,183.77 339.75,183.77 339.81,183.79 339.87,183.82 339.92,183.86 339.98,183.92 340.04,183.99 340.1,184.07 340.15,184.16 340.21,184.26 340.27,184.38 340.32,184.51 340.38,184.65 340.44,184.8 340.5,184.97 340.55,185.15 340.61,185.34 340.67,185.54 340.72,185.75 340.78,185.97 340.84,186.21 340.9,186.45 340.95,186.71 341.01,186.98 341.07,187.25 341.13,187.54 341.18,187.83 341.24,188.13 341.3,188.44 341.35,188.75 341.41,189.06 341.47,189.38 341.53,189.7 341.58,190.01 341.64,190.33 341.7,190.64 341.75,190.93 341.81,191.22 341.87,191.5 341.93,191.76 341.98,192 342.04,192.22 342.1,192.42 342.16,192.6 342.21,192.75 342.27,192.88 342.33,192.98 342.38,193.05 342.44,193.11 342.5,193.14 342.56,193.15 342.61,193.16 342.67,193.15 342.73,193.14 342.78,193.11 342.84,193.07 342.9,193 342.96,192.92 343.01,192.81 343.07,192.68 343.13,192.54 343.19,192.37 343.24,192.19 343.3,191.99 343.36,191.78 343.41,191.57 343.47,191.34 343.53,191.11 343.59,190.88 343.64,190.65 343.7,190.42 343.76,190.2 343.81,189.98 343.87,189.77 343.93,189.57 343.99,189.38 344.04,189.2 344.1,189.04 344.16,188.89 344.22,188.75 344.27,188.63 344.33,188.52 344.39,188.43 344.44,188.35 344.5,188.29 344.56,188.25 344.62,188.23 344.67,188.22 344.73,188.24 344.79,188.31 344.84,188.41 344.9,188.57 344.96,188.76 345.02,189 345.07,189.29 345.13,189.62 345.19,190 345.25,190.42 345.3,190.9 345.36,191.42 345.42,191.99 345.47,192.61 345.53,193.29 345.59,194.02 345.65,194.81 345.7,195.66 345.76,196.57 345.82,197.55 345.87,198.59 345.93,199.7 345.99,200.88 346.05,202.15 346.1,203.49 346.16,204.93 346.22,206.45 346.28,208.08 346.33,209.81 346.39,211.66 346.45,213.63 346.5,215.72 346.56,217.96 346.62,220.33 346.68,222.83 346.73,225.46 346.79,228.18 346.85,230.92 346.9,233.54 346.96,235.87 347.02,237.72 347.08,238.99 347.13,239.73 347.19,240.08 347.25,240.22 347.31,240.26 347.36,240.27 347.42,240.27 347.48,240.27 347.53,240.27 347.59,240.27 347.65,240.26 347.71,240.24 347.76,240.16 347.82,239.96 347.88,239.52 347.94,238.71 347.99,237.44 348.05,235.69 348.11,233.56 348.16,231.2 348.22,228.72 348.28,226.25 348.34,223.84 348.39,221.52 348.45,219.31 348.51,217.21 348.56,215.23 348.62,213.36 348.68,211.6 348.74,209.93 348.79,208.36 348.85,206.88 348.91,205.48 348.97,204.17 349.02,202.92 349.08,201.75 349.14,200.64 349.19,199.6 349.25,198.62 349.31,197.7 349.37,196.83 349.42,196.01 349.48,195.25 349.54,194.54 349.59,193.87 349.65,193.26 349.71,192.68 349.77,192.16 349.82,191.67 349.88,191.23 349.94,190.83 350,190.47 350.05,190.14 350.11,189.86 350.17,189.62 350.22,189.41 350.28,189.24 350.34,189.11 350.4,189.02 350.45,188.97 350.51,188.95 350.57,188.97 350.62,189.05 350.68,189.18 350.74,189.36 350.8,189.59 350.85,189.88 350.91,190.22 350.97,190.61 351.03,191.06 351.08,191.57 351.14,192.14 351.2,192.76 351.25,193.45 351.31,194.2 351.37,195.02 351.43,195.9 351.48,196.86 351.54,197.89 351.6,199 351.65,200.19 351.71,201.47 351.77,202.84 351.83,204.32 351.88,205.9 351.94,207.59 352,209.41 352.06,211.37 352.11,213.47 352.17,215.74 352.23,218.19 352.28,220.85 352.34,223.74 352.4,226.9 352.46,230.37 352.51,234.2 352.57,238.48 352.63,243.29 352.68,248.77 352.74,255.08 352.8,262.44 352.86,270.84 352.91,278.48 352.97,278.48 353.03,278.48 353.09,278.48 353.14,278.48 353.2,278.48 353.26,278.48 353.31,271.14 353.37,262.78 353.43,255.43 353.49,249.11 353.54,243.62 353.6,238.8 353.66,234.51 353.71,230.66 353.77,227.17 353.83,223.99 353.89,221.08 353.94,218.4 354,215.93 354.06,213.64 354.12,211.51 354.17,209.52 354.23,207.67 354.29,205.95 354.34,204.34 354.4,202.83 354.46,201.42 354.52,200.1 354.57,198.87 354.63,197.71 354.69,196.64 354.74,195.63 354.8,194.7 354.86,193.83 354.92,193.03 354.97,192.29 355.03,191.6 355.09,190.98 355.15,190.41 355.2,189.89 355.26,189.43 355.32,189.02 355.37,188.66 355.43,188.34 355.49,188.08 355.55,187.87 355.6,187.7 355.66,187.58 355.72,187.51 355.77,187.49 355.83,187.51 355.89,187.58 355.95,187.69 356,187.85 356.06,188.06 356.12,188.31 356.18,188.61 356.23,188.95 356.29,189.35 356.35,189.79 356.4,190.28 356.46,190.83 356.52,191.43 356.58,192.08 356.63,192.79 356.69,193.55 356.75,194.38 356.8,195.27 356.86,196.22 356.92,197.25 356.98,198.34 357.03,199.51 357.09,200.76 357.15,202.09 357.21,203.51 357.26,205.02 357.32,206.64 357.38,208.36 357.43,210.2 357.49,212.17 357.55,214.27 357.61,216.51 357.66,218.91 357.72,221.45 357.78,224.15 357.83,226.98 357.89,229.87 357.95,232.74 358.01,235.4 358.06,237.61 358.12,239.22 358.18,240.18 358.24,240.66 358.29,240.85 358.35,240.9 358.41,240.92 358.46,240.92 358.52,240.92 358.58,240.92 358.64,240.92 358.69,240.91 358.75,240.86 358.81,240.69 358.86,240.28 358.92,239.42 358.98,237.98 359.04,235.92 359.09,233.41 359.15,230.65 359.21,227.82 359.27,225.03 359.32,222.36 359.38,219.82 359.44,217.43 359.49,215.19 359.55,213.09 359.61,211.11 359.67,209.26 359.72,207.52 359.78,205.9 359.84,204.37 359.9,202.93 359.95,201.59 360.01,200.32 360.07,199.13 360.12,198.02 360.18,196.98 360.24,196.01 360.3,195.1 360.35,194.25 360.41,193.46 360.47,192.73 360.52,192.05 360.58,191.42 360.64,190.85 360.7,190.33 360.75,189.86 360.81,189.43 360.87,189.05 360.93,188.72 360.98,188.44 361.04,188.2 361.1,188 361.15,187.85 361.21,187.74 361.27,187.67 361.33,187.65 361.38,187.66 361.44,187.69 361.5,187.73 361.55,187.8 361.61,187.88 361.67,187.98 361.73,188.1 361.78,188.23 361.84,188.39 361.9,188.56 361.96,188.75 362.01,188.96 362.07,189.19 362.13,189.44 362.18,189.7 362.24,189.99 362.3,190.29 362.36,190.61 362.41,190.95 362.47,191.31 362.53,191.68 362.58,192.07 362.64,192.48 362.7,192.9 362.76,193.33 362.81,193.77 362.87,194.22 362.93,194.68 362.99,195.14 363.04,195.6 363.1,196.05 363.16,196.49 363.21,196.91 363.27,197.31 363.33,197.68 363.39,198.02 363.44,198.32 363.5,198.57 363.56,198.77 363.61,198.93 363.67,199.04 363.73,199.11 363.79,199.14 363.84,199.15 363.9,199.09 363.96,198.84 364.02,198.34 364.07,197.59 364.13,196.63 364.19,195.52 364.24,194.33 364.3,193.1 364.36,191.87 364.42,190.68 364.47,189.52 364.53,188.43 364.59,187.38 364.64,186.4 364.7,185.47 364.76,184.59 364.82,183.77 364.87,183 364.93,182.27 364.99,181.59 365.05,180.96 365.1,180.36 365.16,179.8 365.22,179.28 365.27,178.8 365.33,178.35 365.39,177.93 365.45,177.54 365.5,177.18 365.56,176.85 365.62,176.55 365.67,176.27 365.73,176.02 365.79,175.8 365.85,175.6 365.9,175.42 365.96,175.27 366.02,175.15 366.08,175.04 366.13,174.96 366.19,174.91 366.25,174.87 366.3,174.86 366.36,174.88 366.42,174.95 366.48,175.06 366.53,175.21 366.59,175.41 366.65,175.65 366.7,175.93 366.76,176.26 366.82,176.64 366.88,177.07 366.93,177.54 366.99,178.06 367.05,178.63 367.11,179.26 367.16,179.94 367.22,180.67 367.28,181.46 367.33,182.31 367.39,183.22 367.45,184.19 367.51,185.23 367.56,186.34 367.62,187.53 367.68,188.79 367.73,190.14 367.79,191.57 367.85,193.1 367.91,194.72 367.96,196.45 368.02,198.3 368.08,200.27 368.14,202.36 368.19,204.59 368.25,206.95 368.31,209.46 368.36,212.08 368.42,214.78 368.48,217.49 368.54,220.09 368.59,222.38 368.65,224.2 368.71,225.43 368.76,226.15 368.82,226.49 368.88,226.62 368.94,226.66 368.99,226.67 369.05,226.67 369.11,226.67 369.17,226.67 369.22,226.67 369.28,226.66 369.34,226.64 369.39,226.56 369.45,226.34 369.51,225.89 369.57,225.05 369.62,223.74 369.68,221.96 369.74,219.8 369.79,217.42 369.85,214.95 369.91,212.48 369.97,210.08 370.02,207.77 370.08,205.59 370.14,203.52 370.2,201.56 370.25,199.72 370.31,197.99 370.37,196.36 370.42,194.83 370.48,193.39 370.54,192.03 370.6,190.75 370.65,189.55 370.71,188.43 370.77,187.37 370.83,186.38 370.88,185.45 370.94,184.58 371,183.77 371.05,183.02 371.11,182.31 371.17,181.67 371.23,181.07 371.28,180.52 371.34,180.02 371.4,179.57 371.45,179.16 371.51,178.8 371.57,178.48 371.63,178.21 371.68,177.97 371.74,177.79 371.8,177.64 371.86,177.54 371.91,177.47 371.97,177.45 372.03,177.47 372.08,177.54 372.14,177.66 372.2,177.81 372.26,178.02 372.31,178.27 372.37,178.57 372.43,178.91 372.48,179.31 372.54,179.75 372.6,180.25 372.66,180.79 372.71,181.39 372.77,182.04 372.83,182.75 372.89,183.52 372.94,184.35 373,185.24 373.06,186.19 373.11,187.22 373.17,188.31 373.23,189.48 373.29,190.74 373.34,192.07 373.4,193.5 373.46,195.02 373.51,196.65 373.57,198.39 373.63,200.25 373.69,202.24 373.74,204.38 373.8,206.68 373.86,209.16 373.92,211.84 373.97,214.75 374.03,217.91 374.09,221.37 374.14,225.15 374.2,229.3 374.26,233.83 374.32,238.65 374.37,243.44 374.43,247.44 374.49,249.84 374.54,250.74 374.6,250.94 374.66,250.95 374.72,250.95 374.77,250.95 374.83,250.92 374.89,250.6 374.95,249.15 375,245.72 375.06,240.78 375.12,235.45 375.17,230.38 375.23,225.75 375.29,221.55 375.35,217.76 375.4,214.31 375.46,211.17 375.52,208.28 375.57,205.63 375.63,203.18 375.69,200.92 375.75,198.81 375.8,196.86 375.86,195.04 375.92,193.35 375.98,191.77 376.03,190.3 376.09,188.92 376.15,187.64 376.2,186.45 376.26,185.34 376.32,184.31 376.38,183.35 376.43,182.47 376.49,181.65 376.55,180.9 376.6,180.21 376.66,179.59 376.72,179.02 376.78,178.52 376.83,178.07 376.89,177.67 376.95,177.33 377.01,177.05 377.06,176.81 377.12,176.63 377.18,176.5 377.23,176.43 377.29,176.4 377.35,176.42 377.41,176.48 377.46,176.59 377.52,176.73 377.58,176.92 377.63,177.15 377.69,177.43 377.75,177.75 377.81,178.11 377.86,178.52 377.92,178.97 377.98,179.47 378.04,180.02 378.09,180.62 378.15,181.27 378.21,181.97 378.26,182.72 378.32,183.54 378.38,184.41 378.44,185.34 378.49,186.33 378.55,187.39 378.61,188.52 378.66,189.73 378.72,191.01 378.78,192.37 378.84,193.83 378.89,195.37 378.95,197.02 379.01,198.78 379.07,200.65 379.12,202.65 379.18,204.79 379.24,207.07 379.29,209.52 379.35,212.14 379.41,214.93 379.47,217.89 379.52,221 379.58,224.18 379.64,227.28 379.69,230.06 379.75,232.23 379.81,233.64 379.87,234.36 379.92,234.66 379.98,234.75 380.04,234.76 380.1,234.76 380.15,234.76 380.21,234.76 380.27,234.76 380.32,234.72 380.38,234.54 380.44,233.94 380.5,232.58 380.55,230.23 380.61,227.08 380.67,223.54 380.72,219.94 380.78,216.47 380.84,213.21 380.9,210.17 380.95,207.35 381.01,204.74 381.07,202.31 381.13,200.06 381.18,197.97 381.24,196.03 381.3,194.21 381.35,192.52 381.41,190.95 381.47,189.48 381.53,188.11 381.58,186.83 381.64,185.64 381.7,184.53 381.75,183.5 381.81,182.54 381.87,181.66 381.93,180.84 381.98,180.09 382.04,179.4 382.1,178.78 382.16,178.21 382.21,177.71 382.27,177.26 382.33,176.86 382.38,176.52 382.44,176.24 382.5,176 382.56,175.82 382.61,175.69 382.67,175.62 382.73,175.59 382.79,175.6 382.84,175.65 382.9,175.72 382.96,175.82 383.01,175.94 383.07,176.1 383.13,176.28 383.19,176.49 383.24,176.73 383.3,177 383.36,177.3 383.41,177.62 383.47,177.97 383.53,178.34 383.59,178.74 383.64,179.17 383.7,179.61 383.76,180.08 383.82,180.56 383.87,181.05 383.93,181.54 383.99,182.04 384.04,182.53 384.1,183.01 384.16,183.47 384.22,183.89 384.27,184.27 384.33,184.6 384.39,184.87 384.44,185.08 384.5,185.24 384.56,185.33 384.62,185.38 384.67,185.39 384.73,185.36 384.79,185.23 384.85,184.97 384.9,184.56 384.96,184 385.02,183.32 385.07,182.53 385.13,181.67 385.19,180.77 385.25,179.84 385.3,178.9 385.36,177.98 385.42,177.08 385.47,176.19 385.53,175.34 385.59,174.52 385.65,173.74 385.7,172.98 385.76,172.26 385.82,171.58 385.88,170.92 385.93,170.3 385.99,169.7 386.05,169.13 386.1,168.59 386.16,168.08 386.22,167.59 386.28,167.13 386.33,166.69 386.39,166.27 386.45,165.88 386.5,165.5 386.56,165.15 386.62,164.81 386.68,164.5 386.73,164.2 386.79,163.92 386.85,163.66 386.91,163.42 386.96,163.19 387.02,162.98 387.08,162.78 387.13,162.6 387.19,162.44 387.25,162.29 387.31,162.15 387.36,162.03 387.42,161.93 387.48,161.84 387.53,161.76 387.59,161.7 387.65,161.65 387.71,161.61 387.76,161.59 387.82,161.59 387.88,161.6 387.94,161.66 387.99,161.75 388.05,161.87 388.11,162.03 388.16,162.23 388.22,162.47 388.28,162.74 388.34,163.05 388.39,163.4 388.45,163.78 388.51,164.21 388.56,164.68 388.62,165.19 388.68,165.74 388.74,166.33 388.79,166.97 388.85,167.65 388.91,168.39 388.97,169.17 389.02,170 389.08,170.89 389.14,171.83 389.19,172.83 389.25,173.89 389.31,175.02 389.37,176.21 389.42,177.47 389.48,178.81 389.54,180.23 389.59,181.74 389.65,183.34 389.71,185.04 389.77,186.85 389.82,188.77 389.88,190.83 389.94,193.03 390,195.39 390.05,197.92 390.11,200.66 390.17,203.62 390.22,206.85 390.28,210.38 390.34,214.28 390.4,218.61 390.45,223.47 390.51,229.02 390.57,235.44 390.62,243.05 390.68,252.34 390.74,264.06 390.8,277.54 390.85,278.48 390.91,278.48 390.97,278.48 391.03,273.04 391.08,257.64 391.14,245.72 391.2,236.41 391.25,228.82 391.31,222.43 391.37,216.92 391.43,212.1 391.48,207.82 391.54,203.98 391.6,200.51 391.65,197.35 391.71,194.46 391.77,191.8 391.83,189.35 391.88,187.08 391.94,184.98 392,183.02 392.06,181.2 392.11,179.51 392.17,177.93 392.23,176.46 392.28,175.08 392.34,173.8 392.4,172.61 392.46,171.5 392.51,170.47 392.57,169.51 392.63,168.63 392.68,167.81 392.74,167.06 392.8,166.37 392.86,165.75 392.91,165.18 392.97,164.67 393.03,164.22 393.09,163.83 393.14,163.49 393.2,163.2 393.26,162.97 393.31,162.79 393.37,162.66 393.43,162.58 393.49,162.56 393.54,162.58 393.6,162.66 393.66,162.78 393.72,162.95 393.77,163.18 393.83,163.45 393.89,163.77 393.94,164.15 394,164.58 394.06,165.07 394.12,165.61 394.17,166.2 394.23,166.86 394.29,167.57 394.34,168.35 394.4,169.19 394.46,170.1 394.52,171.08 394.57,172.14 394.63,173.27 394.69,174.48 394.75,175.78 394.8,177.17 394.86,178.66 394.92,180.25 394.97,181.96 395.03,183.79 395.09,185.75 395.15,187.85 395.2,190.12 395.26,192.56 395.32,195.18 395.37,198.02 395.43,201.08 395.49,204.38 395.55,207.89 395.6,211.56 395.66,215.21 395.72,218.51 395.78,221.03 395.83,222.52 395.89,223.18 395.95,223.39 396,223.43 396.06,223.43 396.12,223.43 396.18,223.43 396.23,223.43 396.29,223.37 396.35,223.08 396.4,222.19 396.46,220.26 396.52,217.23 396.58,213.51 396.63,209.58 396.69,205.75 396.75,202.14 396.81,198.79 396.86,195.69 396.92,192.82 396.98,190.17 397.03,187.71 397.09,185.43 397.15,183.31 397.21,181.34 397.26,179.49 397.32,177.77 397.38,176.16 397.43,174.65 397.49,173.24 397.55,171.92 397.61,170.69 397.66,169.54 397.72,168.46 397.78,167.46 397.84,166.53 397.89,165.66 397.95,164.86 398.01,164.12 398.06,163.43 398.12,162.81 398.18,162.24 398.24,161.72 398.29,161.26 398.35,160.85 398.41,160.48 398.46,160.17 398.52,159.91 398.58,159.7 398.64,159.53 398.69,159.41 398.75,159.34 398.81,159.32 398.87,159.35 398.92,159.42 398.98,159.55 399.04,159.73 399.09,159.96 399.15,160.25 399.21,160.59 399.27,160.98 399.32,161.43 399.38,161.94 399.44,162.51 399.49,163.13 399.55,163.81 399.61,164.56 399.67,165.38 399.72,166.26 399.78,167.22 399.84,168.24 399.9,169.35 399.95,170.54 400.01,171.81 400.07,173.17 400.12,174.64 400.18,176.2 400.24,177.87 400.3,179.66 400.35,181.58 400.41,183.63 400.47,185.81 400.52,188.14 400.58,190.61 400.64,193.21 400.7,195.9 400.75,198.62 400.81,201.24 400.87,203.57 400.93,205.45 400.98,206.74 401.04,207.49 401.1,207.86 401.15,208 401.21,208.04 401.27,208.05 401.33,208.05 401.38,208.05 401.44,208.05 401.5,208.05 401.55,208.04 401.61,207.98 401.67,207.79 401.73,207.32 401.78,206.36 401.84,204.76 401.9,202.55 401.96,199.91 402.01,197.06 402.07,194.18 402.13,191.38 402.18,188.7 402.24,186.17 402.3,183.8 402.36,181.59 402.41,179.51 402.47,177.57 402.53,175.76 402.58,174.06 402.64,172.48 402.7,170.99 402.76,169.61 402.81,168.31 402.87,167.1 402.93,165.97 402.99,164.92 403.04,163.94 403.1,163.04 403.16,162.19 403.21,161.42 403.27,160.7 403.33,160.05 403.39,159.45 403.44,158.91 403.5,158.43 403.56,158 403.61,157.62 403.67,157.3 403.73,157.02 403.79,156.8 403.84,156.63 403.9,156.5 403.96,156.43 404.02,156.41 404.07,156.43 404.13,156.5 404.19,156.61 404.24,156.77 404.3,156.97 404.36,157.22 404.42,157.52 404.47,157.87 404.53,158.26 404.59,158.7 404.64,159.19 404.7,159.74 404.76,160.34 404.82,160.99 404.87,161.69 404.93,162.46 404.99,163.28 405.05,164.17 405.1,165.12 405.16,166.14 405.22,167.23 405.27,168.39 405.33,169.63 405.39,170.96 405.45,172.36 405.5,173.86 405.56,175.46 405.62,177.16 405.68,178.96 405.73,180.87 405.79,182.9 405.85,185.03 405.9,187.27 405.96,189.59 406.02,191.95 406.08,194.27 406.13,196.47 406.19,198.4 406.25,199.95 406.3,201.06 406.36,201.75 406.42,202.12 406.48,202.29 406.53,202.36 406.59,202.38 406.65,202.38 406.71,202.38 406.76,202.38 406.82,202.38 406.88,202.38 406.93,202.36 406.99,202.23 407.05,201.81 407.11,200.81 407.16,198.96 407.22,196.31 407.28,193.12 407.33,189.74 407.39,186.39 407.45,183.18 407.51,180.16 407.56,177.34 407.62,174.72 407.68,172.28 407.74,170 407.79,167.88 407.85,165.89 407.91,164.04 407.96,162.31 408.02,160.68 408.08,159.16 408.14,157.74 408.19,156.41 408.25,155.16 408.31,153.99 408.36,152.89 408.42,151.87 408.48,150.91 408.54,150.02 408.59,149.2 408.65,148.43 408.71,147.72 408.77,147.07 408.82,146.47 408.88,145.92 408.94,145.43 408.99,144.99 409.05,144.59 409.11,144.25 409.17,143.95 409.22,143.7 409.28,143.49 409.34,143.33 409.39,143.22 409.45,143.15 409.51,143.13 409.57,143.14 409.62,143.17 409.68,143.22 409.74,143.29 409.8,143.39 409.85,143.5 409.91,143.64 409.97,143.79 410.02,143.97 410.08,144.17 410.14,144.4 410.2,144.64 410.25,144.92 410.31,145.21 410.37,145.54 410.42,145.89 410.48,146.27 410.54,146.67 410.6,147.11 410.65,147.58 410.71,148.08 410.77,148.62 410.83,149.2 410.88,149.82 410.94,150.48 411,151.19 411.05,151.95 411.11,152.76 411.17,153.63 411.23,154.58 411.28,155.59 411.34,156.69 411.4,157.88 411.45,159.17 411.51,160.59 411.57,162.14 411.63,163.86 411.68,165.78 411.74,167.93 411.8,170.35 411.86,173.11 411.91,176.24 411.97,179.68 412.03,183.09 412.08,185.54 412.14,186.19 412.2,184.71 412.26,180.24 412.31,175.37 412.37,171.15 412.43,167.62 412.48,164.63 412.54,162.06 412.6,159.82 412.66,157.84 412.71,156.07 412.77,154.48 412.83,153.03 412.89,151.71 412.94,150.49 413,149.37 413.06,148.33 413.11,147.37 413.17,146.47 413.23,145.63 413.29,144.85 413.34,144.11 413.4,143.43 413.46,142.78 413.51,142.17 413.57,141.61 413.63,141.07 413.69,140.57 413.74,140.1 413.8,139.66 413.86,139.24 413.92,138.85 413.97,138.49 414.03,138.15 414.09,137.84 414.14,137.55 414.2,137.28 414.26,137.03 414.32,136.8 414.37,136.59 414.43,136.4 414.49,136.23 414.54,136.08 414.6,135.95 414.66,135.83 414.72,135.74 414.77,135.66 414.83,135.6 414.89,135.55 414.95,135.53 415,135.52 415.06,135.53 415.12,135.57 415.17,135.63 415.23,135.72 415.29,135.83 415.35,135.97 415.4,136.13 415.46,136.32 415.52,136.53 415.57,136.78 415.63,137.05 415.69,137.35 415.75,137.68 415.8,138.04 415.86,138.44 415.92,138.87 415.98,139.33 416.03,139.83 416.09,140.37 416.15,140.96 416.2,141.59 416.26,142.27 416.32,143 416.38,143.79 416.43,144.64 416.49,145.56 416.55,146.55 416.61,147.63 416.66,148.8 416.72,150.08 416.78,151.49 416.83,153.03 416.89,154.75 416.95,156.67 417.01,158.83 417.06,161.28 417.12,164.08 417.18,167.29 417.23,170.9 417.29,174.58 417.35,177.33 417.41,178.1 417.46,175.46 417.52,169.14 417.58,163.4 417.64,158.82 417.69,155.12 417.75,152.04 417.81,149.41 417.86,147.14 417.92,145.13 417.98,143.34 418.04,141.73 418.09,140.26 418.15,138.93 418.21,137.69 418.26,136.56 418.32,135.5 418.38,134.52 418.44,133.61 418.49,132.75 418.55,131.95 418.61,131.2 418.67,130.49 418.72,129.83 418.78,129.2 418.84,128.61 418.89,128.05 418.95,127.52 419.01,127.03 419.07,126.56 419.12,126.12 419.18,125.7 419.24,125.31 419.29,124.94 419.35,124.59 419.41,124.27 419.47,123.96 419.52,123.68 419.58,123.41 419.64,123.16 419.7,122.93 419.75,122.72 419.81,122.53 419.87,122.35 419.92,122.19 419.98,122.04 420.04,121.92 420.1,121.8 420.15,121.7 420.21,121.62 420.27,121.55 420.32,121.5 420.38,121.46 420.44,121.44 420.5,121.44 420.55,121.45 420.61,121.49 420.67,121.56 420.73,121.65 420.78,121.78 420.84,121.93 420.9,122.11 420.95,122.32 421.01,122.56 421.07,122.83 421.13,123.13 421.18,123.46 421.24,123.83 421.3,124.24 421.35,124.68 421.41,125.16 421.47,125.68 421.53,126.25 421.58,126.86 421.64,127.52 421.7,128.24 421.76,129.02 421.81,129.86 421.87,130.77 421.93,131.75 421.98,132.83 422.04,134.01 422.1,135.29 422.16,136.71 422.21,138.28 422.27,140.04 422.33,142.02 422.38,144.27 422.44,146.88 422.5,149.96 422.56,153.69 422.61,158.37 422.67,164.38 422.73,171.52 422.79,174.86 422.84,174.76 422.9,173.33 422.96,169.06 423.01,163.25 423.07,157.57 423.13,152.51 423.19,148.05 423.24,144.12 423.3,140.59 423.36,137.42 423.41,134.52 423.47,131.85 423.53,129.39 423.59,127.1 423.64,124.96 423.7,122.95 423.76,121.06 423.82,119.27 423.87,117.58 423.93,115.97 423.99,114.43 424.04,112.97 424.1,111.57 424.16,110.23 424.22,108.95 424.27,107.72 424.33,106.53 424.39,105.4 424.44,104.3 424.5,103.24 424.56,102.22 424.62,101.24 424.67,100.29 424.73,99.37 424.79,98.49 424.85,97.63 424.9,96.8 424.96,96 425.02,95.22 425.07,94.47 425.13,93.74 425.19,93.03 425.25,92.35 425.3,91.69 425.36,91.04 425.42,90.42 425.47,89.82 425.53,89.24 425.59,88.67 425.65,88.13 425.7,87.6 425.76,87.09 425.82,86.59 425.88,86.11 425.93,85.65 425.99,85.2 426.05,84.77 426.1,84.35 426.16,83.95 426.22,83.56 426.28,83.19 426.33,82.83 426.39,82.48 426.45,82.15 426.5,81.83 426.56,81.52 426.62,81.23 426.68,80.94 426.73,80.68 426.79,80.42 426.85,80.18 426.91,79.94 426.96,79.72 427.02,79.52 427.08,79.32 427.13,79.14 427.19,78.96 427.25,78.8 427.31,78.65 427.36,78.51 427.42,78.39 427.48,78.27 427.53,78.17 427.59,78.07 427.65,77.99 427.71,77.92 427.76,77.86 427.82,77.81 427.88,77.77 427.94,77.74 427.99,77.73 428.05,77.72 428.11,77.73 428.16,77.74 428.22,77.77 428.28,77.81 428.34,77.86 428.39,77.91 428.45,77.98 428.51,78.07 428.57,78.16 428.62,78.26 428.68,78.37 428.74,78.5 428.79,78.63 428.85,78.78 428.91,78.94 428.97,79.1 429.02,79.29 429.08,79.48 429.14,79.68 429.19,79.9 429.25,80.12 429.31,80.36 429.37,80.61 429.42,80.87 429.48,81.15 429.54,81.44 429.6,81.74 429.65,82.05 429.71,82.37 429.77,82.71 429.82,83.06 429.88,83.43 429.94,83.81 430,84.2 430.05,84.61 430.11,85.03 430.17,85.47 430.22,85.92 430.28,86.39 430.34,86.87 430.4,87.37 430.45,87.89 430.51,88.42 430.57,88.97 430.63,89.54 430.68,90.12 430.74,90.73 430.8,91.35 430.85,92 430.91,92.66 430.97,93.35 431.03,94.06 431.08,94.79 431.14,95.54 431.2,96.32 431.25,97.12 431.31,97.96 431.37,98.82 431.43,99.7 431.48,100.62 431.54,101.57 431.6,102.56 431.66,103.58 431.71,104.64 431.77,105.73 431.83,106.87 431.88,108.06 431.94,109.29 432,110.57 432.06,111.91 432.11,113.31 432.17,114.77 432.23,116.31 432.28,117.92 432.34,119.61 432.4,121.4 432.46,123.29 432.51,125.3 432.57,127.44 432.63,129.73 432.69,132.19 432.74,134.85 432.8,137.74 432.86,140.92 432.91,144.44 432.97,148.37 433.03,152.81 433.09,157.86 433.14,163.5 433.2,169.24 433.26,173.39 433.31,174.76 433.37,174.86 433.43,171.68 433.49,164.72 433.54,158.76 433.6,154.1 433.66,150.38 433.72,147.3 433.77,144.69 433.83,142.43 433.89,140.45 433.94,138.69 434,137.12 434.06,135.69 434.12,134.4 434.17,133.22 434.23,132.14 434.29,131.14 434.34,130.22 434.4,129.38 434.46,128.59 434.52,127.87 434.57,127.19 434.63,126.57 434.69,125.99 434.75,125.46 434.8,124.97 434.86,124.51 434.92,124.09 434.97,123.71 435.03,123.36 435.09,123.04 435.15,122.76 435.2,122.5 435.26,122.27 435.32,122.07 435.37,121.9 435.43,121.76 435.49,121.64 435.55,121.55 435.6,121.49 435.66,121.45 435.72,121.44 435.78,121.44 435.83,121.46 435.89,121.5 435.95,121.55 436,121.62 436.06,121.7 436.12,121.8 436.18,121.92 436.23,122.04 436.29,122.19 436.35,122.35 436.4,122.53 436.46,122.72 436.52,122.93 436.58,123.16 436.63,123.41 436.69,123.68 436.75,123.96 436.81,124.27 436.86,124.59 436.92,124.94 436.98,125.31 437.03,125.7 437.09,126.12 437.15,126.56 437.21,127.03 437.26,127.52 437.32,128.05 437.38,128.61 437.43,129.2 437.49,129.83 437.55,130.49 437.61,131.2 437.66,131.95 437.72,132.76 437.78,133.61 437.84,134.53 437.89,135.51 437.95,136.56 438.01,137.7 438.06,138.93 438.12,140.27 438.18,141.74 438.24,143.35 438.29,145.14 438.35,147.15 438.41,149.44 438.46,152.07 438.52,155.17 438.58,158.91 438.64,163.58 438.69,169.55 438.75,176.53 438.81,179.72 438.87,178.77 438.92,175.51 438.98,171.43 439.04,167.61 439.09,164.28 439.15,161.41 439.21,158.92 439.27,156.73 439.32,154.8 439.38,153.07 439.44,151.52 439.5,150.11 439.55,148.82 439.61,147.64 439.67,146.56 439.72,145.57 439.78,144.65 439.84,143.8 439.9,143.01 439.95,142.27 440.01,141.59 440.07,140.96 440.12,140.38 440.18,139.84 440.24,139.33 440.3,138.87 440.35,138.44 440.41,138.04 440.47,137.68 440.53,137.35 440.58,137.05 440.64,136.78 440.7,136.53 440.75,136.32 440.81,136.13 440.87,135.97 440.93,135.83 440.98,135.72 441.04,135.63 441.1,135.57 441.15,135.53 441.21,135.52 441.27,135.53 441.33,135.55 441.38,135.59 441.44,135.65 441.5,135.72 441.56,135.81 441.61,135.92 441.67,136.04 441.73,136.18 441.78,136.33 441.84,136.51 441.9,136.7 441.96,136.91 442.01,137.14 442.07,137.39 442.13,137.66 442.18,137.95 442.24,138.26 442.3,138.59 442.36,138.94 442.41,139.32 442.47,139.72 442.53,140.15 442.59,140.61 442.64,141.09 442.7,141.61 442.76,142.15 442.81,142.74 442.87,143.35 442.93,144.01 442.99,144.71 443.04,145.45 443.1,146.24 443.16,147.09 443.21,148 443.27,148.97 443.33,150.02 443.39,151.15 443.44,152.37 443.5,153.7 443.56,155.16 443.62,156.77 443.67,158.55 443.73,160.54 443.79,162.81 443.84,165.41 443.9,168.45 443.96,172.09 444.02,176.53 444.07,181.91 444.13,187.38 444.19,189.43 444.24,188.28 444.3,184.54 444.36,180.11 444.42,176.1 444.47,172.68 444.53,169.76 444.59,167.23 444.65,165.02 444.7,163.07 444.76,161.33 444.82,159.76 444.87,158.33 444.93,157.04 444.99,155.85 445.05,154.75 445.1,153.74 445.16,152.81 445.22,151.94 445.27,151.14 445.33,150.39 445.39,149.7 445.45,149.05 445.5,148.44 445.56,147.88 445.62,147.36 445.68,146.87 445.73,146.42 445.79,146 445.85,145.61 445.9,145.26 445.96,144.93 446.02,144.63 446.08,144.36 446.13,144.11 446.19,143.89 446.25,143.69 446.3,143.52 446.36,143.37 446.42,143.25 446.48,143.15 446.53,143.07 446.59,143.01 446.65,142.98 446.71,142.97 446.76,142.98 446.82,143.01 446.88,143.06 446.93,143.13 446.99,143.23 447.05,143.34 447.11,143.47 447.16,143.63 447.22,143.81 447.28,144.01 447.33,144.24 447.39,144.49 447.45,144.76 447.51,145.06 447.56,145.38 447.62,145.73 447.68,146.11 447.74,146.52 447.79,146.96 447.85,147.43 447.91,147.93 447.96,148.48 448.02,149.06 448.08,149.68 448.14,150.34 448.19,151.05 448.25,151.82 448.31,152.63 448.36,153.52 448.42,154.46 448.48,155.49 448.54,156.6 448.59,157.8 448.65,159.12 448.71,160.56 448.77,162.15 448.82,163.93 448.88,165.92 448.94,168.19 448.99,170.8 449.05,173.88 449.11,177.59 449.17,182.21 449.22,188.05 449.28,194.66 449.34,197.53 449.39,197.08 449.45,195.3 449.51,192.58 449.57,189.59 449.62,186.74 449.68,184.14 449.74,181.81 449.8,179.73 449.85,177.85 449.91,176.16 449.97,174.62 450.02,173.22 450.08,171.94 450.14,170.75 450.2,169.66 450.25,168.65 450.31,167.7 450.37,166.83 450.42,166.01 450.48,165.25 450.54,164.54 450.6,163.87 450.65,163.25 450.71,162.67 450.77,162.12 450.83,161.61 450.88,161.13 450.94,160.69 451,160.27 451.05,159.88 451.11,159.52 451.17,159.19 451.23,158.88 451.28,158.6 451.34,158.34 451.4,158.1 451.46,157.89 451.51,157.7 451.57,157.52 451.63,157.38 451.68,157.25 451.74,157.14 451.8,157.05 451.86,156.98 451.91,156.93 451.97,156.9 452.03,156.89 452.08,156.91 452.14,156.99 452.2,157.1 452.26,157.27 452.31,157.48 452.37,157.74 452.43,158.06 452.49,158.42 452.54,158.83 452.6,159.29 452.66,159.81 452.71,160.38 452.77,161 452.83,161.68 452.89,162.42 452.94,163.23 453,164.09 453.06,165.03 453.11,166.03 453.17,167.1 453.23,168.25 453.29,169.48 453.34,170.79 453.4,172.19 453.46,173.69 453.52,175.29 453.57,177 453.63,178.82 453.69,180.77 453.74,182.85 453.8,185.07 453.86,187.44 453.92,189.96 453.97,192.61 454.03,195.37 454.09,198.18 454.14,200.93 454.2,203.42 454.26,205.46 454.32,206.89 454.37,207.74 454.43,208.15 454.49,208.32 454.55,208.36 454.6,208.37 454.66,208.38 454.72,208.38 454.77,208.38 454.83,208.37 454.89,208.37 454.95,208.34 455,208.26 455.06,208.04 455.12,207.57 455.17,206.72 455.23,205.38 455.29,203.58 455.35,201.4 455.4,199.01 455.46,196.53 455.52,194.05 455.58,191.66 455.63,189.36 455.69,187.18 455.75,185.12 455.8,183.17 455.86,181.34 455.92,179.62 455.98,178.01 456.03,176.49 456.09,175.06 456.15,173.72 456.2,172.46 456.26,171.27 456.32,170.16 456.38,169.13 456.43,168.15 456.49,167.24 456.55,166.4 456.61,165.61 456.66,164.88 456.72,164.2 456.78,163.57 456.83,163 456.89,162.48 456.95,162.01 457.01,161.58 457.06,161.21 457.12,160.88 457.18,160.59 457.23,160.35 457.29,160.15 457.35,160 457.41,159.89 457.46,159.83 457.52,159.81 457.58,159.83 457.64,159.91 457.69,160.04 457.75,160.22 457.81,160.45 457.86,160.74 457.92,161.08 457.98,161.47 458.04,161.92 458.09,162.43 458.15,162.99 458.21,163.62 458.26,164.3 458.32,165.05 458.38,165.87 458.44,166.75 458.49,167.71 458.55,168.74 458.61,169.85 458.67,171.04 458.72,172.32 458.78,173.69 458.84,175.16 458.89,176.73 458.95,178.42 459.01,180.23 459.07,182.17 459.12,184.26 459.18,186.5 459.24,188.91 459.29,191.5 459.35,194.29 459.41,197.27 459.47,200.45 459.52,203.77 459.58,207.13 459.64,210.29 459.7,212.92 459.75,214.74 459.81,215.74 459.87,216.15 459.92,216.28 459.98,216.31 460.04,216.31 460.1,216.31 460.15,216.31 460.21,216.31 460.27,216.3 460.32,216.24 460.38,216.04 460.44,215.55 460.5,214.56 460.55,212.92 460.61,210.67 460.67,207.99 460.73,205.11 460.78,202.2 460.84,199.37 460.9,196.68 460.95,194.14 461.01,191.75 461.07,189.52 461.13,187.43 461.18,185.48 461.24,183.65 461.3,181.94 461.35,180.34 461.41,178.84 461.47,177.43 461.53,176.12 461.58,174.89 461.64,173.74 461.7,172.67 461.76,171.66 461.81,170.73 461.87,169.87 461.93,169.06 461.98,168.32 462.04,167.64 462.1,167.01 462.16,166.44 462.21,165.93 462.27,165.47 462.33,165.05 462.38,164.69 462.44,164.38 462.5,164.12 462.56,163.91 462.61,163.74 462.67,163.62 462.73,163.55 462.79,163.53 462.84,163.57 462.9,163.69 462.96,163.89 463.01,164.17 463.07,164.54 463.13,164.99 463.19,165.53 463.24,166.15 463.3,166.87 463.36,167.68 463.42,168.59 463.47,169.6 463.53,170.71 463.59,171.94 463.64,173.29 463.7,174.77 463.76,176.39 463.82,178.15 463.87,180.07 463.93,182.17 463.99,184.47 464.04,186.98 464.1,189.74 464.16,192.77 464.22,196.13 464.27,199.86 464.33,204.05 464.39,208.79 464.45,214.22 464.5,220.55 464.56,228.09 464.62,237.38 464.67,249.37 464.73,265.86 464.79,278.48 464.85,278.48 464.9,278.48 464.96,278.48 465.02,269.8 465.07,258.59 465.13,249.37 465.19,241.77 465.25,235.34 465.3,229.79 465.36,224.9 465.42,220.55 465.48,216.63 465.53,213.07 465.59,209.82 465.65,206.82 465.7,204.05 465.76,201.48 465.82,199.08 465.88,196.84 465.93,194.74 465.99,192.77 466.05,190.91 466.1,189.16 466.16,187.51 466.22,185.95 466.28,184.47 466.33,183.07 466.39,181.74 466.45,180.48 466.51,179.28 466.56,178.15 466.62,177.07 466.68,176.05 466.73,175.08 466.79,174.17 466.85,173.29 466.91,172.47 466.96,171.69 467.02,170.95 467.08,170.25 467.13,169.6 467.19,168.98 467.25,168.4 467.31,167.85 467.36,167.34 467.42,166.87 467.48,166.43 467.54,166.02 467.59,165.65 467.65,165.3 467.71,164.99 467.76,164.71 467.82,164.46 467.88,164.24 467.94,164.05 467.99,163.89 468.05,163.76 468.11,163.66 468.16,163.59 468.22,163.54 468.28,163.53 468.34,163.54 468.39,163.57 468.45,163.61 468.51,163.67 468.57,163.76 468.62,163.86 468.68,163.98 468.74,164.11 468.79,164.27 468.85,164.45 468.91,164.64 468.97,164.86 469.02,165.1 469.08,165.36 469.14,165.64 469.19,165.94 469.25,166.27 469.31,166.61 469.37,166.99 469.42,167.39 469.48,167.81 469.54,168.26 469.6,168.74 469.65,169.25 469.71,169.79 469.77,170.37 469.82,170.97 469.88,171.61 469.94,172.29 470,173 470.05,173.75 470.11,174.54 470.17,175.37 470.22,176.24 470.28,177.15 470.34,178.1 470.4,179.07 470.45,180.06 470.51,181.07 470.57,182.06 470.63,183.02 470.68,183.91 470.74,184.71 470.8,185.36 470.85,185.85 470.91,186.17 470.97,186.32 471.03,186.36 471.08,186.35 471.14,186.29 471.2,186.19 471.25,186.01 471.31,185.77 471.37,185.46 471.43,185.08 471.48,184.65 471.54,184.17 471.6,183.66 471.66,183.11 471.71,182.55 471.77,181.99 471.83,181.42 471.88,180.85 471.94,180.29 472,179.75 472.06,179.23 472.11,178.72 472.17,178.24 472.23,177.78 472.28,177.34 472.34,176.93 472.4,176.54 472.46,176.17 472.51,175.83 472.57,175.52 472.63,175.22 472.69,174.96 472.74,174.71 472.8,174.49 472.86,174.3 472.91,174.13 472.97,173.98 473.03,173.85 473.09,173.75 473.14,173.67 473.2,173.61 473.26,173.58 473.31,173.57 473.37,173.6 473.43,173.69 473.49,173.85 473.54,174.06 473.6,174.35 473.66,174.69 473.72,175.1 473.77,175.58 473.83,176.13 473.89,176.74 473.94,177.43 474,178.19 474.06,179.03 474.12,179.95 474.17,180.95 474.23,182.04 474.29,183.23 474.35,184.51 474.4,185.9 474.46,187.39 474.52,189.01 474.57,190.75 474.63,192.64 474.69,194.67 474.75,196.88 474.8,199.27 474.86,201.86 474.92,204.7 474.97,207.79 475.03,211.18 475.09,214.92 475.15,219.03 475.2,223.55 475.26,228.42 475.32,233.35 475.38,237.61 475.43,240.28 475.49,241.32 475.55,241.54 475.6,241.56 475.66,241.56 475.72,241.56 475.78,241.56 475.83,241.52 475.89,241.33 475.95,240.72 476,239.32 476.06,236.91 476.12,233.69 476.18,230.07 476.23,226.41 476.29,222.87 476.35,219.54 476.41,216.43 476.46,213.54 476.52,210.86 476.58,208.36 476.63,206.02 476.69,203.84 476.75,201.8 476.81,199.89 476.86,198.1 476.92,196.41 476.98,194.83 477.03,193.33 477.09,191.92 477.15,190.6 477.21,189.35 477.26,188.17 477.32,187.06 477.38,186.02 477.44,185.03 477.49,184.11 477.55,183.24 477.61,182.42 477.66,181.66 477.72,180.94 477.78,180.28 477.84,179.66 477.89,179.09 477.95,178.56 478.01,178.07 478.06,177.63 478.12,177.23 478.18,176.87 478.24,176.54 478.29,176.26 478.35,176.02 478.41,175.81 478.47,175.64 478.52,175.51 478.58,175.42 478.64,175.37 478.69,175.35 478.75,175.38 478.81,175.46 478.87,175.6 478.92,175.8 478.98,176.06 479.04,176.37 479.09,176.74 479.15,177.18 479.21,177.67 479.27,178.23 479.32,178.85 479.38,179.54 479.44,180.3 479.5,181.12 479.55,182.03 479.61,183.01 479.67,184.07 479.72,185.21 479.78,186.45 479.84,187.78 479.9,189.21 479.95,190.75 480.01,192.41 480.07,194.2 480.12,196.12 480.18,198.19 480.24,200.43 480.3,202.86 480.35,205.49 480.41,208.36 480.47,211.5 480.53,214.95 480.58,218.77 480.64,223.03 480.7,227.82 480.75,233.28 480.81,239.58 480.87,246.9 480.93,255.21 480.98,263.01 481.04,266.66 481.1,267.14 481.15,267.14 481.21,267.14 481.27,266.99 481.33,265.53 481.38,260.87 481.44,254.04 481.5,247.19 481.56,241.03 481.61,235.59 481.67,230.78 481.73,226.49 481.78,222.62 481.84,219.12 481.9,215.92 481.96,212.98 482.01,210.28 482.07,207.78 482.13,205.45 482.18,203.29 482.24,201.27 482.3,199.38 482.36,197.62 482.41,195.96 482.47,194.41 482.53,192.96 482.59,191.59 482.64,190.3 482.7,189.1 482.76,187.96 482.81,186.9 482.87,185.91 482.93,184.98 482.99,184.11 483.04,183.29 483.1,182.54 483.16,181.84 483.21,181.19 483.27,180.59 483.33,180.04 483.39,179.54 483.44,179.08 483.5,178.68 483.56,178.31 483.62,178 483.67,177.72 483.73,177.49 483.79,177.3 483.84,177.15 483.9,177.05 483.96,176.99 484.02,176.97 484.07,176.99 484.13,177.04 484.19,177.13 484.24,177.26 484.3,177.43 484.36,177.64 484.42,177.88 484.47,178.16 484.53,178.48 484.59,178.85 484.65,179.25 484.7,179.69 484.76,180.18 484.82,180.7 484.87,181.28 484.93,181.9 484.99,182.56 485.05,183.27 485.1,184.03 485.16,184.85 485.22,185.72 485.27,186.64 485.33,187.62 485.39,188.67 485.45,189.77 485.5,190.95 485.56,192.19 485.62,193.51 485.68,194.91 485.73,196.39 485.79,197.96 485.85,199.63 485.9,201.4 485.96,203.27 486.02,205.26 486.08,207.37 486.13,209.6 486.19,211.94 486.25,214.39 486.31,216.92 486.36,219.47 486.42,221.94 486.48,224.2 486.53,226.09 486.59,227.5 486.65,228.4 486.71,228.9 486.76,229.14 486.82,229.23 486.88,229.25 486.93,229.26 486.99,229.26 487.05,229.26 487.11,229.26 487.16,229.26 487.22,229.24 487.28,229.16 487.34,228.9 487.39,228.25 487.45,226.97 487.51,224.96 487.56,222.34 487.62,219.37 487.68,216.29 487.74,213.25 487.79,210.35 487.85,207.61 487.91,205.05 487.96,202.65 488.02,200.41 488.08,198.32 488.14,196.38 488.19,194.56 488.25,192.86 488.31,191.27 488.37,189.78 488.42,188.4 488.48,187.1 488.54,185.89 488.59,184.76 488.65,183.71 488.71,182.73 488.77,181.82 488.82,180.98 488.88,180.2 488.94,179.48 488.99,178.83 489.05,178.23 489.11,177.69 489.17,177.21 489.22,176.78 489.28,176.4 489.34,176.08 489.4,175.8 489.45,175.58 489.51,175.41 489.57,175.28 489.62,175.21 489.68,175.19 489.74,175.21 489.8,175.28 489.85,175.4 489.91,175.56 489.97,175.78 490.02,176.04 490.08,176.35 490.14,176.71 490.2,177.12 490.25,177.58 490.31,178.09 490.37,178.66 490.43,179.28 490.48,179.96 490.54,180.7 490.6,181.5 490.65,182.36 490.71,183.29 490.77,184.28 490.83,185.35 490.88,186.48 490.94,187.7 491,188.99 491.05,190.37 491.11,191.84 491.17,193.4 491.23,195.05 491.28,196.81 491.34,198.65 491.4,200.59 491.46,202.61 491.51,204.7 491.57,206.8 491.63,208.87 491.68,210.83 491.74,212.58 491.8,214.01 491.86,215.09 491.91,215.82 491.97,216.25 492.03,216.47 492.08,216.58 492.14,216.62 492.2,216.63 492.26,216.63 492.31,216.63 492.37,216.63 492.43,216.63 492.49,216.63 492.54,216.63 492.6,216.63 492.66,216.62 492.71,216.61 492.77,216.58 492.83,216.51 492.89,216.39 492.94,216.19 493,215.89 493.06,215.45 493.11,214.86 493.17,214.1 493.23,213.18 493.29,212.12 493.34,210.94 493.4,209.69 493.46,208.39 493.52,207.08 493.57,205.77 493.63,204.48 493.69,203.24 493.74,202.03 493.8,200.88 493.86,199.79 493.92,198.75 493.97,197.78 494.03,196.86 494.09,196 494.14,195.2 494.2,194.46 494.26,193.77 494.32,193.14 494.37,192.56 494.43,192.04 494.49,191.57 494.55,191.15 494.6,190.78 494.66,190.47 494.72,190.2 494.77,189.98 494.83,189.81 494.89,189.69 494.95,189.62 495,189.59 495.06,189.63 495.12,189.73 495.17,189.89 495.23,190.12 495.29,190.41 495.35,190.78 495.4,191.21 495.46,191.71 495.52,192.28 495.58,192.93 495.63,193.66 495.69,194.46 495.75,195.34 495.8,196.31 495.86,197.37 495.92,198.53 495.98,199.78 496.03,201.14 496.09,202.6 496.15,204.19 496.2,205.91 496.26,207.76 496.32,209.76 496.38,211.93 496.43,214.27 496.49,216.81 496.55,219.55 496.61,222.51 496.66,225.69 496.72,229.06 496.78,232.52 496.83,235.88 496.89,238.81 496.95,240.93 497.01,242.14 497.06,242.66 497.12,242.82 497.18,242.86 497.24,242.86 497.29,242.86 497.35,242.86 497.41,242.86 497.46,242.85 497.52,242.82 497.58,242.7 497.64,242.4 497.69,241.77 497.75,240.65 497.81,238.98 497.86,236.81 497.92,234.3 497.98,231.65 498.04,228.97 498.09,226.34 498.15,223.83 498.21,221.44 498.27,219.17 498.32,217.04 498.38,215.03 498.44,213.13 498.49,211.35 498.55,209.67 498.61,208.08 498.67,206.58 498.72,205.17 498.78,203.84 498.84,202.58 498.89,201.39 498.95,200.27 499.01,199.21 499.07,198.21 499.12,197.27 499.18,196.39 499.24,195.55 499.3,194.77 499.35,194.04 499.41,193.36 499.47,192.72 499.52,192.12 499.58,191.57 499.64,191.07 499.7,190.6 499.75,190.17 499.81,189.79 499.87,189.44 499.92,189.13 499.98,188.86 500.04,188.62 500.1,188.42 500.15,188.26 500.21,188.14 500.27,188.05 500.33,187.99 500.38,187.98 500.44,188 500.5,188.07 500.55,188.18 500.61,188.34 500.67,188.54 500.73,188.79 500.78,189.09 500.84,189.44 500.9,189.83 500.95,190.28 501.01,190.77 501.07,191.32 501.13,191.91 501.18,192.57 501.24,193.28 501.3,194.04 501.36,194.87 501.41,195.76 501.47,196.72 501.53,197.74 501.58,198.84 501.64,200.01 501.7,201.26 501.76,202.6 501.81,204.02 501.87,205.55 501.93,207.17 501.98,208.91 502.04,210.78 502.1,212.77 502.16,214.91 502.21,217.22 502.27,219.7 502.33,222.39 502.39,225.31 502.44,228.5 502.5,231.99 502.56,235.85 502.61,240.14 502.67,244.97 502.73,250.45 502.79,256.76 502.84,264.06 502.9,272.25 502.96,278.48 503.01,278.48 503.07,278.48 503.13,278.48 503.19,278.48 503.24,278.48 503.3,278.48 503.36,273.74 503.42,265.86 503.47,258.65 503.53,252.37 503.59,246.9 503.64,242.08 503.7,237.79 503.76,233.93 503.82,230.44 503.87,227.25 503.93,224.33 503.99,221.64 504.04,219.16 504.1,216.86 504.16,214.71 504.22,212.72 504.27,210.86 504.33,209.12 504.39,207.49 504.45,205.97 504.5,204.54 504.56,203.2 504.62,201.95 504.67,200.78 504.73,199.68 504.79,198.66 504.85,197.7 504.9,196.81 504.96,195.99 505.02,195.22 505.07,194.51 505.13,193.86 505.19,193.26 505.25,192.71 505.3,192.22 505.36,191.78 505.42,191.38 505.48,191.04 505.53,190.74 505.59,190.49 505.65,190.28 505.7,190.12 505.76,190.01 505.82,189.94 505.88,189.92 505.93,189.94 505.99,190.02 506.05,190.14 506.1,190.31 506.16,190.54 506.22,190.81 506.28,191.13 506.33,191.51 506.39,191.94 506.45,192.43 506.51,192.97 506.56,193.56 506.62,194.22 506.68,194.93 506.73,195.71 506.79,196.55 506.85,197.46 506.91,198.44 506.96,199.49 507.02,200.62 507.08,201.83 507.13,203.13 507.19,204.51 507.25,206 507.31,207.58 507.36,209.28 507.42,211.1 507.48,213.04 507.54,215.12 507.59,217.35 507.65,219.73 507.71,222.28 507.76,224.99 507.82,227.84 507.88,230.8 507.94,233.76 507.99,236.56 508.05,238.96 508.11,240.74 508.16,241.84 508.22,242.4 508.28,242.62 508.34,242.68 508.39,242.7 508.45,242.7 508.51,242.7 508.57,242.7 508.62,242.7 508.68,242.69 508.74,242.65 508.79,242.53 508.85,242.21 508.91,241.54 508.97,240.36 509.02,238.63 509.08,236.41 509.14,233.87 509.2,231.2 509.25,228.53 509.31,225.93 509.37,223.44 509.42,221.08 509.48,218.86 509.54,216.77 509.6,214.8 509.65,212.96 509.71,211.23 509.77,209.61 509.82,208.08 509.88,206.65 509.94,205.3 510,204.04 510.05,202.85 510.11,201.74 510.17,200.7 510.23,199.73 510.28,198.82 510.34,197.97 510.4,197.18 510.45,196.45 510.51,195.77 510.57,195.15 510.63,194.57 510.68,194.05 510.74,193.58 510.8,193.16 510.85,192.78 510.91,192.45 510.97,192.16 511.03,191.92 511.08,191.72 511.14,191.57 511.2,191.46 511.26,191.4 511.31,191.38 511.37,191.39 511.43,191.42 511.48,191.47 511.54,191.53 511.6,191.62 511.66,191.73 511.71,191.86 511.77,192.01 511.83,192.17 511.88,192.36 511.94,192.56 512,192.78 512.06,193.02 512.11,193.28 512.17,193.55 512.23,193.84 512.29,194.14 512.34,194.45 512.4,194.77 512.46,195.1 512.51,195.44 512.57,195.78 512.63,196.12 512.69,196.46 512.74,196.79 512.8,197.11 512.86,197.42 512.91,197.71 512.97,197.97 513.03,198.21 513.09,198.41 513.14,198.59 513.2,198.73 513.26,198.84 513.32,198.91 513.37,198.96 513.43,198.98 513.49,198.99 513.54,198.98 513.6,198.93 513.66,198.84 513.72,198.69 513.77,198.49 513.83,198.22 513.89,197.89 513.94,197.5 514,197.07 514.06,196.6 514.12,196.09 514.17,195.56 514.23,195.01 514.29,194.45 514.35,193.89 514.4,193.33 514.46,192.77 514.52,192.22 514.57,191.68 514.63,191.15 514.69,190.64 514.75,190.14 514.8,189.66 514.86,189.2 514.92,188.76 514.97,188.33 515.03,187.92 515.09,187.53 515.15,187.15 515.2,186.8 515.26,186.46 515.32,186.13 515.38,185.83 515.43,185.54 515.49,185.27 515.55,185.01 515.6,184.77 515.66,184.55 515.72,184.34 515.78,184.15 515.83,183.97 515.89,183.8 515.95,183.66 516,183.52 516.06,183.4 516.12,183.3 516.18,183.21 516.23,183.13 516.29,183.07 516.35,183.02 516.41,182.98 516.46,182.96 516.52,182.96 516.58,182.98 516.63,183.05 516.69,183.17 516.75,183.34 516.81,183.55 516.86,183.81 516.92,184.12 516.98,184.48 517.03,184.89 517.09,185.36 517.15,185.87 517.21,186.44 517.26,187.07 517.32,187.75 517.38,188.5 517.44,189.3 517.49,190.17 517.55,191.1 517.61,192.1 517.66,193.18 517.72,194.33 517.78,195.56 517.84,196.88 517.89,198.29 517.95,199.8 518.01,201.41 518.06,203.13 518.12,204.98 518.18,206.96 518.24,209.08 518.29,211.36 518.35,213.82 518.41,216.48 518.47,219.36 518.52,222.48 518.58,225.87 518.64,229.54 518.69,233.48 518.75,237.6 518.81,241.67 518.87,245.17 518.92,247.55 518.98,248.71 519.04,249.09 519.09,249.17 519.15,249.17 519.21,249.17 519.27,249.17 519.32,249.17 519.38,249.16 519.44,249.07 519.5,248.79 519.55,248.08 519.61,246.72 519.67,244.59 519.72,241.84 519.78,238.76 519.84,235.59 519.9,232.48 519.95,229.51 520.01,226.71 520.07,224.08 520.13,221.62 520.18,219.32 520.24,217.16 520.3,215.14 520.35,213.25 520.41,211.47 520.47,209.8 520.53,208.23 520.58,206.75 520.64,205.36 520.7,204.04 520.75,202.81 520.81,201.65 520.87,200.55 520.93,199.52 520.98,198.56 521.04,197.65 521.1,196.8 521.16,196 521.21,195.26 521.27,194.56 521.33,193.92 521.38,193.32 521.44,192.77 521.5,192.27 521.56,191.81 521.61,191.39 521.67,191.01 521.73,190.68 521.78,190.38 521.84,190.13 521.9,189.92 521.96,189.74 522.01,189.61 522.07,189.51 522.13,189.45 522.19,189.43 522.24,189.46 522.3,189.54 522.36,189.68 522.41,189.86 522.47,190.11 522.53,190.41 522.59,190.76 522.64,191.18 522.7,191.65 522.76,192.18 522.81,192.77 522.87,193.43 522.93,194.15 522.99,194.94 523.04,195.79 523.1,196.72 523.16,197.73 523.22,198.82 523.27,199.99 523.33,201.24 523.39,202.6 523.44,204.05 523.5,205.61 523.56,207.28 523.62,209.08 523.67,211.02 523.73,213.1 523.79,215.35 523.84,217.77 523.9,220.39 523.96,223.24 524.02,226.33 524.07,229.69 524.13,233.34 524.19,237.26 524.25,241.36 524.3,245.41 524.36,248.89 524.42,251.27 524.47,252.43 524.53,252.81 524.59,252.89 524.65,252.9 524.7,252.9 524.76,252.9 524.82,252.9 524.87,252.88 524.93,252.78 524.99,252.45 525.05,251.65 525.1,250.12 525.16,247.8 525.22,244.88 525.28,241.67 525.33,238.41 525.39,235.23 525.45,232.22 525.5,229.39 525.56,226.73 525.62,224.25 525.68,221.92 525.73,219.75 525.79,217.71 525.85,215.79 525.9,213.99 525.96,212.3 526.02,210.7 526.08,209.2 526.13,207.78 526.19,206.44 526.25,205.18 526.31,203.99 526.36,202.87 526.42,201.81 526.48,200.81 526.53,199.87 526.59,198.98 526.65,198.15 526.71,197.37 526.76,196.63 526.82,195.95 526.88,195.31 526.93,194.72 526.99,194.17 527.05,193.66 527.11,193.19 527.16,192.76 527.22,192.38 527.28,192.03 527.34,191.72 527.39,191.45 527.45,191.21 527.51,191.01 527.56,190.85 527.62,190.73 527.68,190.64 527.74,190.58 527.79,190.57 527.85,190.59 527.91,190.66 527.96,190.78 528.02,190.94 528.08,191.16 528.14,191.42 528.19,191.73 528.25,192.09 528.31,192.5 528.37,192.97 528.42,193.48 528.48,194.05 528.54,194.68 528.59,195.36 528.65,196.11 528.71,196.91 528.77,197.78 528.82,198.71 528.88,199.71 528.94,200.79 528.99,201.94 529.05,203.17 529.11,204.49 529.17,205.9 529.22,207.41 529.28,209.02 529.34,210.75 529.4,212.6 529.45,214.58 529.51,216.71 529.57,219 529.62,221.48 529.68,224.16 529.74,227.07 529.8,230.24 529.85,233.73 529.91,237.58 529.97,241.87 530.02,246.68 530.08,252.15 530.14,258.43 530.2,265.65 530.25,273.57 530.31,278.48 530.37,278.48 530.43,278.48 530.48,278.48 530.54,278.48 530.6,278.48 530.65,278.48 530.71,277.85 530.77,271.37 530.83,264.64 530.88,258.5 530.94,253.05 531,248.21 531.05,243.87 531.11,239.96 531.17,236.4 531.23,233.15 531.28,230.15 531.34,227.38 531.4,224.8 531.46,222.4 531.51,220.15 531.57,218.05 531.63,216.07 531.68,214.21 531.74,212.45 531.8,210.79 531.86,209.22 531.91,207.73 531.97,206.32 532.03,204.98 532.09,203.71 532.14,202.51 532.2,201.37 532.26,200.28 532.31,199.25 532.37,198.27 532.43,197.34 532.49,196.45 532.54,195.62 532.6,194.82 532.66,194.07 532.71,193.36 532.77,192.69 532.83,192.06 532.89,191.46 532.94,190.9 533,190.37 533.06,189.88 533.12,189.42 533.17,189 533.23,188.6 533.29,188.24 533.34,187.91 533.4,187.61 533.46,187.34 533.52,187.1 533.57,186.88 533.63,186.7 533.69,186.55 533.74,186.42 533.8,186.32 533.86,186.25 533.92,186.21 533.97,186.19 534.03,186.2 534.09,186.22 534.15,186.26 534.2,186.31 534.26,186.38 534.32,186.46 534.37,186.56 534.43,186.67 534.49,186.8 534.55,186.94 534.6,187.09 534.66,187.26 534.72,187.45 534.77,187.64 534.83,187.85 534.89,188.08 534.95,188.31 535,188.56 535.06,188.81 535.12,189.08 535.18,189.36 535.23,189.64 535.29,189.93 535.35,190.23 535.4,190.53 535.46,190.83 535.52,191.13 535.58,191.43 535.63,191.72 535.69,192.01 535.75,192.28 535.8,192.54 535.86,192.78 535.92,193.01 535.98,193.21 536.03,193.39 536.09,193.55 536.15,193.68 536.21,193.78 536.26,193.86 536.32,193.91 536.38,193.95 536.43,193.96 536.49,193.97 536.55,193.97 536.61,193.96 536.66,193.96 536.72,193.95 536.78,193.93 536.83,193.91 536.89,193.88 536.95,193.85 537.01,193.82 537.06,193.77 537.12,193.73 537.18,193.67 537.24,193.62 537.29,193.56 537.35,193.49 537.41,193.42 537.46,193.35 537.52,193.28 537.58,193.2 537.64,193.12 537.69,193.05 537.75,192.97 537.81,192.89 537.86,192.82 537.92,192.75 537.98,192.68 538.04,192.61 538.09,192.55 538.15,192.49 538.21,192.43 538.27,192.38 538.32,192.34 538.38,192.3 538.44,192.26 538.49,192.24 538.55,192.21 538.61,192.2 538.67,192.19 538.72,192.19 538.78,192.2 538.84,192.23 538.89,192.29 538.95,192.38 539.01,192.48 539.07,192.62 539.12,192.77 539.18,192.95 539.24,193.16 539.3,193.39 539.35,193.65 539.41,193.93 539.47,194.24 539.52,194.57 539.58,194.93 539.64,195.32 539.7,195.74 539.75,196.18 539.81,196.65 539.87,197.16 539.92,197.69 539.98,198.25 540.04,198.85 540.1,199.47 540.15,200.14 540.21,200.83 540.27,201.57 540.33,202.34 540.38,203.14 540.44,203.99 540.5,204.88 540.55,205.82 540.61,206.79 540.67,207.82 540.73,208.9 540.78,210.03 540.84,211.21 540.9,212.45 540.95,213.75 541.01,215.12 541.07,216.56 541.13,218.07 541.18,219.65 541.24,221.32 541.3,223.08 541.36,224.93 541.41,226.88 541.47,228.93 541.53,231.09 541.58,233.34 541.64,235.69 541.7,238.1 541.76,240.54 541.81,242.93 541.87,245.15 541.93,247.09 541.98,248.62 542.04,249.7 542.1,250.36 542.16,250.71 542.21,250.87 542.27,250.93 542.33,250.95 542.39,250.95 542.44,250.95 542.5,250.95 542.56,250.95 542.61,250.91 542.67,250.46 542.73,248.57 542.79,244.49 542.84,239.15 542.9,233.71 542.96,228.7 543.02,224.21 543.07,220.21 543.13,216.63 543.19,213.44 543.24,210.57 543.3,207.99 543.36,205.66 543.42,203.57 543.47,201.68 543.53,199.99 543.59,198.47 543.64,197.12 543.7,195.92 543.76,194.87 543.82,193.95 543.87,193.17 543.93,192.51 543.99,191.98 544.05,191.57 544.1,191.28 544.16,191.11 544.22,191.05 544.27,191.07 544.33,191.11 544.39,191.18 544.45,191.28 544.5,191.41 544.56,191.57 544.62,191.76 544.67,191.98 544.73,192.23 544.79,192.51 544.85,192.82 544.9,193.17 544.96,193.54 545.02,193.95 545.08,194.39 545.13,194.86 545.19,195.37 545.25,195.92 545.3,196.5 545.36,197.11 545.42,197.77 545.48,198.47 545.53,199.2 545.59,199.98 545.65,200.8 545.7,201.67 545.76,202.59 545.82,203.55 545.88,204.57 545.93,205.64 545.99,206.77 546.05,207.96 546.11,209.21 546.16,210.52 546.22,211.91 546.28,213.37 546.33,214.9 546.39,216.52 546.45,218.23 546.51,220.02 546.56,221.9 546.62,223.88 546.68,225.95 546.73,228.09 546.79,230.29 546.85,232.51 546.91,234.7 546.96,236.77 547.02,238.61 547.08,240.12 547.14,241.26 547.19,242.01 547.25,242.46 547.31,242.7 547.36,242.81 547.42,242.85 547.48,242.86 547.54,242.86 547.59,242.86 547.65,242.86 547.65,275.24"/></clipPath><clipPath id="axb"><rect x="313.6" y="16.2" width="228.9" height="259.04"/></clipPath>
<g clip-path="url(#axb)"><g clip-path="url(#cb)">
<rect x="302.24" y="0" width="5.58" height="300" fill="#c8002c"/>
<rect x="308.72" y="0" width="5.58" height="300" fill="#0070c0"/>
<rect x="315.2" y="0" width="5.58" height="300" fill="#ff5000"/>
<rect x="321.68" y="0" width="5.58" height="300" fill="#ffb800"/>
<rect x="328.16" y="0" width="5.58" height="300" fill="#982ca0"/>
<rect x="334.64" y="0" width="5.58" height="300" fill="#58ac1c"/>
<rect x="341.12" y="0" width="5.58" height="300" fill="#00c4f8"/>
<rect x="347.6" y="0" width="5.58" height="300" fill="#c8002c"/>
<rect x="354.08" y="0" width="5.58" height="300" fill="#0070c0"/>
<rect x="360.56" y="0" width="5.58" height="300" fill="#ff5000"/>
<rect x="367.04" y="0" width="5.58" height="300" fill="#ffb800"/>
<rect x="373.52" y="0" width="5.58" height="300" fill="#982ca0"/>
<rect x="380" y="0" width="5.58" height="300" fill="#58ac1c"/>
<rect x="386.48" y="0" width="5.58" height="300" fill="#00c4f8"/>
<rect x="392.96" y="0" width="5.58" height="300" fill="#c8002c"/>
<rect x="399.44" y="0" width="5.58" height="300" fill="#0070c0"/>
<rect x="405.92" y="0" width="5.58" height="300" fill="#ff5000"/>
<rect x="412.4" y="0" width="5.58" height="300" fill="#ffb800"/>
<rect x="418.88" y="0" width="5.58" height="300" fill="#982ca0"/>
<rect x="425.36" y="0" width="5.58" height="300" fill="#58ac1c"/>
<rect x="431.84" y="0" width="5.58" height="300" fill="#00c4f8"/>
<rect x="438.32" y="0" width="5.58" height="300" fill="#c8002c"/>
<rect x="444.8" y="0" width="5.58" height="300" fill="#0070c0"/>
<rect x="451.28" y="0" width="5.58" height="300" fill="#ff5000"/>
<rect x="457.76" y="0" width="5.58" height="300" fill="#ffb800"/>
<rect x="464.24" y="0" width="5.58" height="300" fill="#982ca0"/>
<rect x="470.72" y="0" width="5.58" height="300" fill="#58ac1c"/>
<rect x="477.2" y="0" width="5.58" height="300" fill="#00c4f8"/>
<rect x="483.68" y="0" width="5.58" height="300" fill="#c8002c"/>
<rect x="490.16" y="0" width="5.58" height="300" fill="#0070c0"/>
<rect x="496.64" y="0" width="5.58" height="300" fill="#ff5000"/>
<rect x="503.12" y="0" width="5.58" height="300" fill="#ffb800"/>
<rect x="509.6" y="0" width="5.58" height="300" fill="#982ca0"/>
<rect x="516.08" y="0" width="5.58" height="300" fill="#58ac1c"/>
<rect x="522.56" y="0" width="5.58" height="300" fill="#00c4f8"/>
<rect x="529.04" y="0" width="5.58" height="300" fill="#c8002c"/>
<rect x="535.52" y="0" width="5.58" height="300" fill="#0070c0"/>
<rect x="542" y="0" width="5.58" height="300" fill="#ff5000"/>
<rect x="548.48" y="0" width="5.58" height="300" fill="#ffb800"/>
<rect x="554.96" y="0" width="5.58" height="300" fill="#982ca0"/>
</g>
<polyline points="308.45,242.86 308.51,242.86 308.56,242.86 308.62,242.86 308.68,242.85 308.74,242.81 308.79,242.7 308.85,242.46 308.91,242.01 308.96,241.26 309.02,240.12 309.08,238.61 309.14,236.77 309.19,234.7 309.25,232.51 309.31,230.29 309.37,228.09 309.42,225.95 309.48,223.88 309.54,221.9 309.59,220.02 309.65,218.23 309.71,216.52 309.77,214.9 309.82,213.37 309.88,211.91 309.94,210.52 309.99,209.21 310.05,207.96 310.11,206.77 310.17,205.64 310.22,204.57 310.28,203.55 310.34,202.59 310.4,201.67 310.45,200.8 310.51,199.98 310.57,199.2 310.62,198.47 310.68,197.77 310.74,197.11 310.8,196.5 310.85,195.92 310.91,195.37 310.97,194.86 311.02,194.39 311.08,193.95 311.14,193.54 311.2,193.17 311.25,192.82 311.31,192.51 311.37,192.23 311.43,191.98 311.48,191.76 311.54,191.57 311.6,191.41 311.65,191.28 311.71,191.18 311.77,191.11 311.83,191.07 311.88,191.05 311.94,191.08 312,191.16 312.05,191.31 312.11,191.5 312.17,191.76 312.23,192.07 312.28,192.45 312.34,192.88 312.4,193.37 312.46,193.93 312.51,194.55 312.57,195.24 312.63,196 312.68,196.83 312.74,197.73 312.8,198.71 312.86,199.77 312.91,200.91 312.97,202.15 313.03,203.48 313.08,204.91 313.14,206.45 313.2,208.11 313.26,209.89 313.31,211.81 313.37,213.88 313.43,216.11 313.49,218.53 313.54,221.14 313.6,223.98 313.66,227.07 313.71,230.45 313.77,234.12 313.83,238.09 313.89,242.32 313.94,246.59 314,250.42 314.06,253.17 314.12,254.58 314.17,255.06 314.23,255.15 314.29,255.16 314.34,255.16 314.4,255.16 314.46,255.16 314.52,255.13 314.57,254.99 314.63,254.53 314.69,253.44 314.74,251.46 314.8,248.64 314.86,245.32 314.92,241.83 314.97,238.39 315.03,235.12 315.09,232.04 315.15,229.16 315.2,226.47 315.26,223.97 315.32,221.62 315.37,219.43 315.43,217.38 315.49,215.45 315.55,213.64 315.6,211.93 315.66,210.33 315.72,208.81 315.77,207.38 315.83,206.03 315.89,204.76 315.95,203.55 316,202.42 316.06,201.34 316.12,200.33 316.18,199.37 316.23,198.47 316.29,197.62 316.35,196.82 316.4,196.07 316.46,195.37 316.52,194.71 316.58,194.1 316.63,193.53 316.69,193 316.75,192.51 316.8,192.06 316.86,191.65 316.92,191.27 316.98,190.94 317.03,190.64 317.09,190.38 317.15,190.15 317.21,189.96 317.26,189.81 317.32,189.69 317.38,189.6 317.43,189.55 317.49,189.53 317.55,189.53 317.61,189.55 317.66,189.57 317.72,189.61 317.78,189.65 317.83,189.7 317.89,189.77 317.95,189.84 318.01,189.92 318.06,190.01 318.12,190.1 318.18,190.21 318.24,190.32 318.29,190.44 318.35,190.57 318.41,190.71 318.46,190.85 318.52,190.99 318.58,191.15 318.64,191.3 318.69,191.46 318.75,191.62 318.81,191.79 318.86,191.95 318.92,192.12 318.98,192.28 319.04,192.45 319.09,192.61 319.15,192.76 319.21,192.91 319.27,193.06 319.32,193.19 319.38,193.32 319.44,193.44 319.49,193.55 319.55,193.65 319.61,193.74 319.67,193.81 319.72,193.88 319.78,193.93 319.84,193.97 319.89,194 319.95,194.03 320.01,194.04 320.07,194.05 320.12,194.05 320.18,194.04 320.24,194.03 320.3,194 320.35,193.95 320.41,193.88 320.47,193.79 320.52,193.67 320.58,193.53 320.64,193.37 320.7,193.2 320.75,193 320.81,192.78 320.87,192.56 320.92,192.32 320.98,192.07 321.04,191.82 321.1,191.57 321.15,191.31 321.21,191.06 321.27,190.81 321.33,190.57 321.38,190.33 321.44,190.1 321.5,189.88 321.55,189.68 321.61,189.48 321.67,189.3 321.73,189.14 321.78,188.98 321.84,188.84 321.9,188.72 321.95,188.62 322.01,188.52 322.07,188.45 322.13,188.39 322.18,188.35 322.24,188.32 322.3,188.32 322.36,188.33 322.41,188.39 322.47,188.48 322.53,188.61 322.58,188.78 322.64,188.99 322.7,189.23 322.76,189.51 322.81,189.83 322.87,190.2 322.93,190.6 322.98,191.04 323.04,191.53 323.1,192.06 323.16,192.63 323.21,193.25 323.27,193.91 323.33,194.63 323.39,195.39 323.44,196.21 323.5,197.08 323.56,198 323.61,198.99 323.67,200.03 323.73,201.14 323.79,202.32 323.84,203.57 323.9,204.9 323.96,206.31 324.01,207.8 324.07,209.39 324.13,211.08 324.19,212.88 324.24,214.8 324.3,216.84 324.36,219.03 324.42,221.38 324.47,223.91 324.53,226.64 324.59,229.6 324.64,232.82 324.7,236.34 324.76,240.23 324.82,244.54 324.87,249.37 324.93,254.85 324.99,261.09 325.05,268.15 325.1,275.55 325.16,278.48 325.22,278.48 325.27,278.48 325.33,278.48 325.39,278.48 325.45,278.48 325.5,278.48 325.56,278.12 325.62,271.8 325.67,265.14 325.73,259.04 325.79,253.61 325.85,248.8 325.9,244.49 325.96,240.61 326.02,237.08 326.08,233.86 326.13,230.9 326.19,228.16 326.25,225.63 326.3,223.27 326.36,221.07 326.42,219.01 326.48,217.09 326.53,215.28 326.59,213.58 326.65,211.98 326.7,210.47 326.76,209.05 326.82,207.71 326.88,206.45 326.93,205.26 326.99,204.13 327.05,203.07 327.11,202.07 327.16,201.13 327.22,200.24 327.28,199.41 327.33,198.63 327.39,197.9 327.45,197.21 327.51,196.57 327.56,195.98 327.62,195.43 327.68,194.92 327.73,194.45 327.79,194.03 327.85,193.64 327.91,193.29 327.96,192.98 328.02,192.71 328.08,192.47 328.14,192.28 328.19,192.12 328.25,191.99 328.31,191.9 328.36,191.85 328.42,191.83 328.48,191.86 328.54,191.95 328.59,192.1 328.65,192.3 328.71,192.57 328.76,192.9 328.82,193.29 328.88,193.75 328.94,194.27 328.99,194.85 329.05,195.5 329.11,196.23 329.17,197.02 329.22,197.9 329.28,198.85 329.34,199.88 329.39,201 329.45,202.21 329.51,203.51 329.57,204.92 329.62,206.44 329.68,208.08 329.74,209.84 329.79,211.74 329.85,213.79 329.91,216.01 329.97,218.4 330.02,221 330.08,223.82 330.14,226.89 330.2,230.23 330.25,233.85 330.31,237.74 330.37,241.82 330.42,245.83 330.48,249.28 330.54,251.62 330.6,252.76 330.65,253.14 330.71,253.21 330.77,253.22 330.82,253.22 330.88,253.22 330.94,253.22 331,253.19 331.05,253.06 331.11,252.61 331.17,251.56 331.23,249.64 331.28,246.89 331.34,243.62 331.4,240.18 331.45,236.77 331.51,233.52 331.57,230.47 331.63,227.61 331.68,224.95 331.74,222.47 331.8,220.15 331.85,217.98 331.91,215.96 331.97,214.06 332.03,212.28 332.08,210.6 332.14,209.03 332.2,207.55 332.26,206.15 332.31,204.84 332.37,203.61 332.43,202.44 332.48,201.35 332.54,200.32 332.6,199.35 332.66,198.44 332.71,197.59 332.77,196.8 332.83,196.05 332.88,195.36 332.94,194.71 333,194.12 333.06,193.57 333.11,193.06 333.17,192.6 333.23,192.18 333.29,191.8 333.34,191.47 333.4,191.18 333.46,190.92 333.51,190.71 333.57,190.53 333.63,190.4 333.69,190.3 333.74,190.25 333.8,190.23 333.86,190.25 333.91,190.31 333.97,190.41 334.03,190.56 334.09,190.75 334.14,190.98 334.2,191.25 334.26,191.57 334.32,191.94 334.37,192.34 334.43,192.8 334.49,193.3 334.54,193.85 334.6,194.44 334.66,195.09 334.72,195.79 334.77,196.55 334.83,197.36 334.89,198.23 334.94,199.16 335,200.16 335.06,201.22 335.12,202.35 335.17,203.55 335.23,204.84 335.29,206.2 335.35,207.66 335.4,209.2 335.46,210.85 335.52,212.61 335.57,214.49 335.63,216.49 335.69,218.63 335.75,220.92 335.8,223.38 335.86,226.01 335.92,228.83 335.97,231.83 336.03,235.01 336.09,238.29 336.15,241.56 336.2,244.57 336.26,247 336.32,248.63 336.38,249.5 336.43,249.85 336.49,249.96 336.55,249.98 336.6,249.98 336.66,249.98 336.72,249.98 336.78,249.98 336.83,249.94 336.89,249.75 336.95,249.14 337.01,247.73 337.06,245.33 337.12,242.11 337.18,238.49 337.23,234.83 337.29,231.29 337.35,227.96 337.41,224.85 337.46,221.96 337.52,219.28 337.58,216.77 337.63,214.44 337.69,212.26 337.75,210.22 337.81,208.31 337.86,206.52 337.92,204.83 337.98,203.24 338.04,201.75 338.09,200.34 338.15,199.02 338.21,197.77 338.26,196.59 338.32,195.48 338.38,194.43 338.44,193.45 338.49,192.53 338.55,191.66 338.61,190.84 338.66,190.08 338.72,189.36 338.78,188.7 338.84,188.08 338.89,187.51 338.95,186.98 339.01,186.49 339.07,186.05 339.12,185.65 339.18,185.29 339.24,184.96 339.29,184.68 339.35,184.44 339.41,184.23 339.47,184.06 339.52,183.93 339.58,183.84 339.64,183.79 339.69,183.77 339.75,183.77 339.81,183.79 339.87,183.82 339.92,183.86 339.98,183.92 340.04,183.99 340.1,184.07 340.15,184.16 340.21,184.26 340.27,184.38 340.32,184.51 340.38,184.65 340.44,184.8 340.5,184.97 340.55,185.15 340.61,185.34 340.67,185.54 340.72,185.75 340.78,185.97 340.84,186.21 340.9,186.45 340.95,186.71 341.01,186.98 341.07,187.25 341.13,187.54 341.18,187.83 341.24,188.13 341.3,188.44 341.35,188.75 341.41,189.06 341.47,189.38 341.53,189.7 341.58,190.01 341.64,190.33 341.7,190.64 341.75,190.93 341.81,191.22 341.87,191.5 341.93,191.76 341.98,192 342.04,192.22 342.1,192.42 342.16,192.6 342.21,192.75 342.27,192.88 342.33,192.98 342.38,193.05 342.44,193.11 342.5,193.14 342.56,193.15 342.61,193.16 342.67,193.15 342.73,193.14 342.78,193.11 342.84,193.07 342.9,193 342.96,192.92 343.01,192.81 343.07,192.68 343.13,192.54 343.19,192.37 343.24,192.19 343.3,191.99 343.36,191.78 343.41,191.57 343.47,191.34 343.53,191.11 343.59,190.88 343.64,190.65 343.7,190.42 343.76,190.2 343.81,189.98 343.87,189.77 343.93,189.57 343.99,189.38 344.04,189.2 344.1,189.04 344.16,188.89 344.22,188.75 344.27,188.63 344.33,188.52 344.39,188.43 344.44,188.35 344.5,188.29 344.56,188.25 344.62,188.23 344.67,188.22 344.73,188.24 344.79,188.31 344.84,188.41 344.9,188.57 344.96,188.76 345.02,189 345.07,189.29 345.13,189.62 345.19,190 345.25,190.42 345.3,190.9 345.36,191.42 345.42,191.99 345.47,192.61 345.53,193.29 345.59,194.02 345.65,194.81 345.7,195.66 345.76,196.57 345.82,197.55 345.87,198.59 345.93,199.7 345.99,200.88 346.05,202.15 346.1,203.49 346.16,204.93 346.22,206.45 346.28,208.08 346.33,209.81 346.39,211.66 346.45,213.63 346.5,215.72 346.56,217.96 346.62,220.33 346.68,222.83 346.73,225.46 346.79,228.18 346.85,230.92 346.9,233.54 346.96,235.87 347.02,237.72 347.08,238.99 347.13,239.73 347.19,240.08 347.25,240.22 347.31,240.26 347.36,240.27 347.42,240.27 347.48,240.27 347.53,240.27 347.59,240.27 347.65,240.26 347.71,240.24 347.76,240.16 347.82,239.96 347.88,239.52 347.94,238.71 347.99,237.44 348.05,235.69 348.11,233.56 348.16,231.2 348.22,228.72 348.28,226.25 348.34,223.84 348.39,221.52 348.45,219.31 348.51,217.21 348.56,215.23 348.62,213.36 348.68,211.6 348.74,209.93 348.79,208.36 348.85,206.88 348.91,205.48 348.97,204.17 349.02,202.92 349.08,201.75 349.14,200.64 349.19,199.6 349.25,198.62 349.31,197.7 349.37,196.83 349.42,196.01 349.48,195.25 349.54,194.54 349.59,193.87 349.65,193.26 349.71,192.68 349.77,192.16 349.82,191.67 349.88,191.23 349.94,190.83 350,190.47 350.05,190.14 350.11,189.86 350.17,189.62 350.22,189.41 350.28,189.24 350.34,189.11 350.4,189.02 350.45,188.97 350.51,188.95 350.57,188.97 350.62,189.05 350.68,189.18 350.74,189.36 350.8,189.59 350.85,189.88 350.91,190.22 350.97,190.61 351.03,191.06 351.08,191.57 351.14,192.14 351.2,192.76 351.25,193.45 351.31,194.2 351.37,195.02 351.43,195.9 351.48,196.86 351.54,197.89 351.6,199 351.65,200.19 351.71,201.47 351.77,202.84 351.83,204.32 351.88,205.9 351.94,207.59 352,209.41 352.06,211.37 352.11,213.47 352.17,215.74 352.23,218.19 352.28,220.85 352.34,223.74 352.4,226.9 352.46,230.37 352.51,234.2 352.57,238.48 352.63,243.29 352.68,248.77 352.74,255.08 352.8,262.44 352.86,270.84 352.91,278.48 352.97,278.48 353.03,278.48 353.09,278.48 353.14,278.48 353.2,278.48 353.26,278.48 353.31,271.14 353.37,262.78 353.43,255.43 353.49,249.11 353.54,243.62 353.6,238.8 353.66,234.51 353.71,230.66 353.77,227.17 353.83,223.99 353.89,221.08 353.94,218.4 354,215.93 354.06,213.64 354.12,211.51 354.17,209.52 354.23,207.67 354.29,205.95 354.34,204.34 354.4,202.83 354.46,201.42 354.52,200.1 354.57,198.87 354.63,197.71 354.69,196.64 354.74,195.63 354.8,194.7 354.86,193.83 354.92,193.03 354.97,192.29 355.03,191.6 355.09,190.98 355.15,190.41 355.2,189.89 355.26,189.43 355.32,189.02 355.37,188.66 355.43,188.34 355.49,188.08 355.55,187.87 355.6,187.7 355.66,187.58 355.72,187.51 355.77,187.49 355.83,187.51 355.89,187.58 355.95,187.69 356,187.85 356.06,188.06 356.12,188.31 356.18,188.61 356.23,188.95 356.29,189.35 356.35,189.79 356.4,190.28 356.46,190.83 356.52,191.43 356.58,192.08 356.63,192.79 356.69,193.55 356.75,194.38 356.8,195.27 356.86,196.22 356.92,197.25 356.98,198.34 357.03,199.51 357.09,200.76 357.15,202.09 357.21,203.51 357.26,205.02 357.32,206.64 357.38,208.36 357.43,210.2 357.49,212.17 357.55,214.27 357.61,216.51 357.66,218.91 357.72,221.45 357.78,224.15 357.83,226.98 357.89,229.87 357.95,232.74 358.01,235.4 358.06,237.61 358.12,239.22 358.18,240.18 358.24,240.66 358.29,240.85 358.35,240.9 358.41,240.92 358.46,240.92 358.52,240.92 358.58,240.92 358.64,240.92 358.69,240.91 358.75,240.86 358.81,240.69 358.86,240.28 358.92,239.42 358.98,237.98 359.04,235.92 359.09,233.41 359.15,230.65 359.21,227.82 359.27,225.03 359.32,222.36 359.38,219.82 359.44,217.43 359.49,215.19 359.55,213.09 359.61,211.11 359.67,209.26 359.72,207.52 359.78,205.9 359.84,204.37 359.9,202.93 359.95,201.59 360.01,200.32 360.07,199.13 360.12,198.02 360.18,196.98 360.24,196.01 360.3,195.1 360.35,194.25 360.41,193.46 360.47,192.73 360.52,192.05 360.58,191.42 360.64,190.85 360.7,190.33 360.75,189.86 360.81,189.43 360.87,189.05 360.93,188.72 360.98,188.44 361.04,188.2 361.1,188 361.15,187.85 361.21,187.74 361.27,187.67 361.33,187.65 361.38,187.66 361.44,187.69 361.5,187.73 361.55,187.8 361.61,187.88 361.67,187.98 361.73,188.1 361.78,188.23 361.84,188.39 361.9,188.56 361.96,188.75 362.01,188.96 362.07,189.19 362.13,189.44 362.18,189.7 362.24,189.99 362.3,190.29 362.36,190.61 362.41,190.95 362.47,191.31 362.53,191.68 362.58,192.07 362.64,192.48 362.7,192.9 362.76,193.33 362.81,193.77 362.87,194.22 362.93,194.68 362.99,195.14 363.04,195.6 363.1,196.05 363.16,196.49 363.21,196.91 363.27,197.31 363.33,197.68 363.39,198.02 363.44,198.32 363.5,198.57 363.56,198.77 363.61,198.93 363.67,199.04 363.73,199.11 363.79,199.14 363.84,199.15 363.9,199.09 363.96,198.84 364.02,198.34 364.07,197.59 364.13,196.63 364.19,195.52 364.24,194.33 364.3,193.1 364.36,191.87 364.42,190.68 364.47,189.52 364.53,188.43 364.59,187.38 364.64,186.4 364.7,185.47 364.76,184.59 364.82,183.77 364.87,183 364.93,182.27 364.99,181.59 365.05,180.96 365.1,180.36 365.16,179.8 365.22,179.28 365.27,178.8 365.33,178.35 365.39,177.93 365.45,177.54 365.5,177.18 365.56,176.85 365.62,176.55 365.67,176.27 365.73,176.02 365.79,175.8 365.85,175.6 365.9,175.42 365.96,175.27 366.02,175.15 366.08,175.04 366.13,174.96 366.19,174.91 366.25,174.87 366.3,174.86 366.36,174.88 366.42,174.95 366.48,175.06 366.53,175.21 366.59,175.41 366.65,175.65 366.7,175.93 366.76,176.26 366.82,176.64 366.88,177.07 366.93,177.54 366.99,178.06 367.05,178.63 367.11,179.26 367.16,179.94 367.22,180.67 367.28,181.46 367.33,182.31 367.39,183.22 367.45,184.19 367.51,185.23 367.56,186.34 367.62,187.53 367.68,188.79 367.73,190.14 367.79,191.57 367.85,193.1 367.91,194.72 367.96,196.45 368.02,198.3 368.08,200.27 368.14,202.36 368.19,204.59 368.25,206.95 368.31,209.46 368.36,212.08 368.42,214.78 368.48,217.49 368.54,220.09 368.59,222.38 368.65,224.2 368.71,225.43 368.76,226.15 368.82,226.49 368.88,226.62 368.94,226.66 368.99,226.67 369.05,226.67 369.11,226.67 369.17,226.67 369.22,226.67 369.28,226.66 369.34,226.64 369.39,226.56 369.45,226.34 369.51,225.89 369.57,225.05 369.62,223.74 369.68,221.96 369.74,219.8 369.79,217.42 369.85,214.95 369.91,212.48 369.97,210.08 370.02,207.77 370.08,205.59 370.14,203.52 370.2,201.56 370.25,199.72 370.31,197.99 370.37,196.36 370.42,194.83 370.48,193.39 370.54,192.03 370.6,190.75 370.65,189.55 370.71,188.43 370.77,187.37 370.83,186.38 370.88,185.45 370.94,184.58 371,183.77 371.05,183.02 371.11,182.31 371.17,181.67 371.23,181.07 371.28,180.52 371.34,180.02 371.4,179.57 371.45,179.16 371.51,178.8 371.57,178.48 371.63,178.21 371.68,177.97 371.74,177.79 371.8,177.64 371.86,177.54 371.91,177.47 371.97,177.45 372.03,177.47 372.08,177.54 372.14,177.66 372.2,177.81 372.26,178.02 372.31,178.27 372.37,178.57 372.43,178.91 372.48,179.31 372.54,179.75 372.6,180.25 372.66,180.79 372.71,181.39 372.77,182.04 372.83,182.75 372.89,183.52 372.94,184.35 373,185.24 373.06,186.19 373.11,187.22 373.17,188.31 373.23,189.48 373.29,190.74 373.34,192.07 373.4,193.5 373.46,195.02 373.51,196.65 373.57,198.39 373.63,200.25 373.69,202.24 373.74,204.38 373.8,206.68 373.86,209.16 373.92,211.84 373.97,214.75 374.03,217.91 374.09,221.37 374.14,225.15 374.2,229.3 374.26,233.83 374.32,238.65 374.37,243.44 374.43,247.44 374.49,249.84 374.54,250.74 374.6,250.94 374.66,250.95 374.72,250.95 374.77,250.95 374.83,250.92 374.89,250.6 374.95,249.15 375,245.72 375.06,240.78 375.12,235.45 375.17,230.38 375.23,225.75 375.29,221.55 375.35,217.76 375.4,214.31 375.46,211.17 375.52,208.28 375.57,205.63 375.63,203.18 375.69,200.92 375.75,198.81 375.8,196.86 375.86,195.04 375.92,193.35 375.98,191.77 376.03,190.3 376.09,188.92 376.15,187.64 376.2,186.45 376.26,185.34 376.32,184.31 376.38,183.35 376.43,182.47 376.49,181.65 376.55,180.9 376.6,180.21 376.66,179.59 376.72,179.02 376.78,178.52 376.83,178.07 376.89,177.67 376.95,177.33 377.01,177.05 377.06,176.81 377.12,176.63 377.18,176.5 377.23,176.43 377.29,176.4 377.35,176.42 377.41,176.48 377.46,176.59 377.52,176.73 377.58,176.92 377.63,177.15 377.69,177.43 377.75,177.75 377.81,178.11 377.86,178.52 377.92,178.97 377.98,179.47 378.04,180.02 378.09,180.62 378.15,181.27 378.21,181.97 378.26,182.72 378.32,183.54 378.38,184.41 378.44,185.34 378.49,186.33 378.55,187.39 378.61,188.52 378.66,189.73 378.72,191.01 378.78,192.37 378.84,193.83 378.89,195.37 378.95,197.02 379.01,198.78 379.07,200.65 379.12,202.65 379.18,204.79 379.24,207.07 379.29,209.52 379.35,212.14 379.41,214.93 379.47,217.89 379.52,221 379.58,224.18 379.64,227.28 379.69,230.06 379.75,232.23 379.81,233.64 379.87,234.36 379.92,234.66 379.98,234.75 380.04,234.76 380.1,234.76 380.15,234.76 380.21,234.76 380.27,234.76 380.32,234.72 380.38,234.54 380.44,233.94 380.5,232.58 380.55,230.23 380.61,227.08 380.67,223.54 380.72,219.94 380.78,216.47 380.84,213.21 380.9,210.17 380.95,207.35 381.01,204.74 381.07,202.31 381.13,200.06 381.18,197.97 381.24,196.03 381.3,194.21 381.35,192.52 381.41,190.95 381.47,189.48 381.53,188.11 381.58,186.83 381.64,185.64 381.7,184.53 381.75,183.5 381.81,182.54 381.87,181.66 381.93,180.84 381.98,180.09 382.04,179.4 382.1,178.78 382.16,178.21 382.21,177.71 382.27,177.26 382.33,176.86 382.38,176.52 382.44,176.24 382.5,176 382.56,175.82 382.61,175.69 382.67,175.62 382.73,175.59 382.79,175.6 382.84,175.65 382.9,175.72 382.96,175.82 383.01,175.94 383.07,176.1 383.13,176.28 383.19,176.49 383.24,176.73 383.3,177 383.36,177.3 383.41,177.62 383.47,177.97 383.53,178.34 383.59,178.74 383.64,179.17 383.7,179.61 383.76,180.08 383.82,180.56 383.87,181.05 383.93,181.54 383.99,182.04 384.04,182.53 384.1,183.01 384.16,183.47 384.22,183.89 384.27,184.27 384.33,184.6 384.39,184.87 384.44,185.08 384.5,185.24 384.56,185.33 384.62,185.38 384.67,185.39 384.73,185.36 384.79,185.23 384.85,184.97 384.9,184.56 384.96,184 385.02,183.32 385.07,182.53 385.13,181.67 385.19,180.77 385.25,179.84 385.3,178.9 385.36,177.98 385.42,177.08 385.47,176.19 385.53,175.34 385.59,174.52 385.65,173.74 385.7,172.98 385.76,172.26 385.82,171.58 385.88,170.92 385.93,170.3 385.99,169.7 386.05,169.13 386.1,168.59 386.16,168.08 386.22,167.59 386.28,167.13 386.33,166.69 386.39,166.27 386.45,165.88 386.5,165.5 386.56,165.15 386.62,164.81 386.68,164.5 386.73,164.2 386.79,163.92 386.85,163.66 386.91,163.42 386.96,163.19 387.02,162.98 387.08,162.78 387.13,162.6 387.19,162.44 387.25,162.29 387.31,162.15 387.36,162.03 387.42,161.93 387.48,161.84 387.53,161.76 387.59,161.7 387.65,161.65 387.71,161.61 387.76,161.59 387.82,161.59 387.88,161.6 387.94,161.66 387.99,161.75 388.05,161.87 388.11,162.03 388.16,162.23 388.22,162.47 388.28,162.74 388.34,163.05 388.39,163.4 388.45,163.78 388.51,164.21 388.56,164.68 388.62,165.19 388.68,165.74 388.74,166.33 388.79,166.97 388.85,167.65 388.91,168.39 388.97,169.17 389.02,170 389.08,170.89 389.14,171.83 389.19,172.83 389.25,173.89 389.31,175.02 389.37,176.21 389.42,177.47 389.48,178.81 389.54,180.23 389.59,181.74 389.65,183.34 389.71,185.04 389.77,186.85 389.82,188.77 389.88,190.83 389.94,193.03 390,195.39 390.05,197.92 390.11,200.66 390.17,203.62 390.22,206.85 390.28,210.38 390.34,214.28 390.4,218.61 390.45,223.47 390.51,229.02 390.57,235.44 390.62,243.05 390.68,252.34 390.74,264.06 390.8,277.54 390.85,278.48 390.91,278.48 390.97,278.48 391.03,273.04 391.08,257.64 391.14,245.72 391.2,236.41 391.25,228.82 391.31,222.43 391.37,216.92 391.43,212.1 391.48,207.82 391.54,203.98 391.6,200.51 391.65,197.35 391.71,194.46 391.77,191.8 391.83,189.35 391.88,187.08 391.94,184.98 392,183.02 392.06,181.2 392.11,179.51 392.17,177.93 392.23,176.46 392.28,175.08 392.34,173.8 392.4,172.61 392.46,171.5 392.51,170.47 392.57,169.51 392.63,168.63 392.68,167.81 392.74,167.06 392.8,166.37 392.86,165.75 392.91,165.18 392.97,164.67 393.03,164.22 393.09,163.83 393.14,163.49 393.2,163.2 393.26,162.97 393.31,162.79 393.37,162.66 393.43,162.58 393.49,162.56 393.54,162.58 393.6,162.66 393.66,162.78 393.72,162.95 393.77,163.18 393.83,163.45 393.89,163.77 393.94,164.15 394,164.58 394.06,165.07 394.12,165.61 394.17,166.2 394.23,166.86 394.29,167.57 394.34,168.35 394.4,169.19 394.46,170.1 394.52,171.08 394.57,172.14 394.63,173.27 394.69,174.48 394.75,175.78 394.8,177.17 394.86,178.66 394.92,180.25 394.97,181.96 395.03,183.79 395.09,185.75 395.15,187.85 395.2,190.12 395.26,192.56 395.32,195.18 395.37,198.02 395.43,201.08 395.49,204.38 395.55,207.89 395.6,211.56 395.66,215.21 395.72,218.51 395.78,221.03 395.83,222.52 395.89,223.18 395.95,223.39 396,223.43 396.06,223.43 396.12,223.43 396.18,223.43 396.23,223.43 396.29,223.37 396.35,223.08 396.4,222.19 396.46,220.26 396.52,217.23 396.58,213.51 396.63,209.58 396.69,205.75 396.75,202.14 396.81,198.79 396.86,195.69 396.92,192.82 396.98,190.17 397.03,187.71 397.09,185.43 397.15,183.31 397.21,181.34 397.26,179.49 397.32,177.77 397.38,176.16 397.43,174.65 397.49,173.24 397.55,171.92 397.61,170.69 397.66,169.54 397.72,168.46 397.78,167.46 397.84,166.53 397.89,165.66 397.95,164.86 398.01,164.12 398.06,163.43 398.12,162.81 398.18,162.24 398.24,161.72 398.29,161.26 398.35,160.85 398.41,160.48 398.46,160.17 398.52,159.91 398.58,159.7 398.64,159.53 398.69,159.41 398.75,159.34 398.81,159.32 398.87,159.35 398.92,159.42 398.98,159.55 399.04,159.73 399.09,159.96 399.15,160.25 399.21,160.59 399.27,160.98 399.32,161.43 399.38,161.94 399.44,162.51 399.49,163.13 399.55,163.81 399.61,164.56 399.67,165.38 399.72,166.26 399.78,167.22 399.84,168.24 399.9,169.35 399.95,170.54 400.01,171.81 400.07,173.17 400.12,174.64 400.18,176.2 400.24,177.87 400.3,179.66 400.35,181.58 400.41,183.63 400.47,185.81 400.52,188.14 400.58,190.61 400.64,193.21 400.7,195.9 400.75,198.62 400.81,201.24 400.87,203.57 400.93,205.45 400.98,206.74 401.04,207.49 401.1,207.86 401.15,208 401.21,208.04 401.27,208.05 401.33,208.05 401.38,208.05 401.44,208.05 401.5,208.05 401.55,208.04 401.61,207.98 401.67,207.79 401.73,207.32 401.78,206.36 401.84,204.76 401.9,202.55 401.96,199.91 402.01,197.06 402.07,194.18 402.13,191.38 402.18,188.7 402.24,186.17 402.3,183.8 402.36,181.59 402.41,179.51 402.47,177.57 402.53,175.76 402.58,174.06 402.64,172.48 402.7,170.99 402.76,169.61 402.81,168.31 402.87,167.1 402.93,165.97 402.99,164.92 403.04,163.94 403.1,163.04 403.16,162.19 403.21,161.42 403.27,160.7 403.33,160.05 403.39,159.45 403.44,158.91 403.5,158.43 403.56,158 403.61,157.62 403.67,157.3 403.73,157.02 403.79,156.8 403.84,156.63 403.9,156.5 403.96,156.43 404.02,156.41 404.07,156.43 404.13,156.5 404.19,156.61 404.24,156.77 404.3,156.97 404.36,157.22 404.42,157.52 404.47,157.87 404.53,158.26 404.59,158.7 404.64,159.19 404.7,159.74 404.76,160.34 404.82,160.99 404.87,161.69 404.93,162.46 404.99,163.28 405.05,164.17 405.1,165.12 405.16,166.14 405.22,167.23 405.27,168.39 405.33,169.63 405.39,170.96 405.45,172.36 405.5,173.86 405.56,175.46 405.62,177.16 405.68,178.96 405.73,180.87 405.79,182.9 405.85,185.03 405.9,187.27 405.96,189.59 406.02,191.95 406.08,194.27 406.13,196.47 406.19,198.4 406.25,199.95 406.3,201.06 406.36,201.75 406.42,202.12 406.48,202.29 406.53,202.36 406.59,202.38 406.65,202.38 406.71,202.38 406.76,202.38 406.82,202.38 406.88,202.38 406.93,202.36 406.99,202.23 407.05,201.81 407.11,200.81 407.16,198.96 407.22,196.31 407.28,193.12 407.33,189.74 407.39,186.39 407.45,183.18 407.51,180.16 407.56,177.34 407.62,174.72 407.68,172.28 407.74,170 407.79,167.88 407.85,165.89 407.91,164.04 407.96,162.31 408.02,160.68 408.08,159.16 408.14,157.74 408.19,156.41 408.25,155.16 408.31,153.99 408.36,152.89 408.42,151.87 408.48,150.91 408.54,150.02 408.59,149.2 408.65,148.43 408.71,147.72 408.77,147.07 408.82,146.47 408.88,145.92 408.94,145.43 408.99,144.99 409.05,144.59 409.11,144.25 409.17,143.95 409.22,143.7 409.28,143.49 409.34,143.33 409.39,143.22 409.45,143.15 409.51,143.13 409.57,143.14 409.62,143.17 409.68,143.22 409.74,143.29 409.8,143.39 409.85,143.5 409.91,143.64 409.97,143.79 410.02,143.97 410.08,144.17 410.14,144.4 410.2,144.64 410.25,144.92 410.31,145.21 410.37,145.54 410.42,145.89 410.48,146.27 410.54,146.67 410.6,147.11 410.65,147.58 410.71,148.08 410.77,148.62 410.83,149.2 410.88,149.82 410.94,150.48 411,151.19 411.05,151.95 411.11,152.76 411.17,153.63 411.23,154.58 411.28,155.59 411.34,156.69 411.4,157.88 411.45,159.17 411.51,160.59 411.57,162.14 411.63,163.86 411.68,165.78 411.74,167.93 411.8,170.35 411.86,173.11 411.91,176.24 411.97,179.68 412.03,183.09 412.08,185.54 412.14,186.19 412.2,184.71 412.26,180.24 412.31,175.37 412.37,171.15 412.43,167.62 412.48,164.63 412.54,162.06 412.6,159.82 412.66,157.84 412.71,156.07 412.77,154.48 412.83,153.03 412.89,151.71 412.94,150.49 413,149.37 413.06,148.33 413.11,147.37 413.17,146.47 413.23,145.63 413.29,144.85 413.34,144.11 413.4,143.43 413.46,142.78 413.51,142.17 413.57,141.61 413.63,141.07 413.69,140.57 413.74,140.1 413.8,139.66 413.86,139.24 413.92,138.85 413.97,138.49 414.03,138.15 414.09,137.84 414.14,137.55 414.2,137.28 414.26,137.03 414.32,136.8 414.37,136.59 414.43,136.4 414.49,136.23 414.54,136.08 414.6,135.95 414.66,135.83 414.72,135.74 414.77,135.66 414.83,135.6 414.89,135.55 414.95,135.53 415,135.52 415.06,135.53 415.12,135.57 415.17,135.63 415.23,135.72 415.29,135.83 415.35,135.97 415.4,136.13 415.46,136.32 415.52,136.53 415.57,136.78 415.63,137.05 415.69,137.35 415.75,137.68 415.8,138.04 415.86,138.44 415.92,138.87 415.98,139.33 416.03,139.83 416.09,140.37 416.15,140.96 416.2,141.59 416.26,142.27 416.32,143 416.38,143.79 416.43,144.64 416.49,145.56 416.55,146.55 416.61,147.63 416.66,148.8 416.72,150.08 416.78,151.49 416.83,153.03 416.89,154.75 416.95,156.67 417.01,158.83 417.06,161.28 417.12,164.08 417.18,167.29 417.23,170.9 417.29,174.58 417.35,177.33 417.41,178.1 417.46,175.46 417.52,169.14 417.58,163.4 417.64,158.82 417.69,155.12 417.75,152.04 417.81,149.41 417.86,147.14 417.92,145.13 417.98,143.34 418.04,141.73 418.09,140.26 418.15,138.93 418.21,137.69 418.26,136.56 418.32,135.5 418.38,134.52 418.44,133.61 418.49,132.75 418.55,131.95 418.61,131.2 418.67,130.49 418.72,129.83 418.78,129.2 418.84,128.61 418.89,128.05 418.95,127.52 419.01,127.03 419.07,126.56 419.12,126.12 419.18,125.7 419.24,125.31 419.29,124.94 419.35,124.59 419.41,124.27 419.47,123.96 419.52,123.68 419.58,123.41 419.64,123.16 419.7,122.93 419.75,122.72 419.81,122.53 419.87,122.35 419.92,122.19 419.98,122.04 420.04,121.92 420.1,121.8 420.15,121.7 420.21,121.62 420.27,121.55 420.32,121.5 420.38,121.46 420.44,121.44 420.5,121.44 420.55,121.45 420.61,121.49 420.67,121.56 420.73,121.65 420.78,121.78 420.84,121.93 420.9,122.11 420.95,122.32 421.01,122.56 421.07,122.83 421.13,123.13 421.18,123.46 421.24,123.83 421.3,124.24 421.35,124.68 421.41,125.16 421.47,125.68 421.53,126.25 421.58,126.86 421.64,127.52 421.7,128.24 421.76,129.02 421.81,129.86 421.87,130.77 421.93,131.75 421.98,132.83 422.04,134.01 422.1,135.29 422.16,136.71 422.21,138.28 422.27,140.04 422.33,142.02 422.38,144.27 422.44,146.88 422.5,149.96 422.56,153.69 422.61,158.37 422.67,164.38 422.73,171.52 422.79,174.86 422.84,174.76 422.9,173.33 422.96,169.06 423.01,163.25 423.07,157.57 423.13,152.51 423.19,148.05 423.24,144.12 423.3,140.59 423.36,137.42 423.41,134.52 423.47,131.85 423.53,129.39 423.59,127.1 423.64,124.96 423.7,122.95 423.76,121.06 423.82,119.27 423.87,117.58 423.93,115.97 423.99,114.43 424.04,112.97 424.1,111.57 424.16,110.23 424.22,108.95 424.27,107.72 424.33,106.53 424.39,105.4 424.44,104.3 424.5,103.24 424.56,102.22 424.62,101.24 424.67,100.29 424.73,99.37 424.79,98.49 424.85,97.63 424.9,96.8 424.96,96 425.02,95.22 425.07,94.47 425.13,93.74 425.19,93.03 425.25,92.35 425.3,91.69 425.36,91.04 425.42,90.42 425.47,89.82 425.53,89.24 425.59,88.67 425.65,88.13 425.7,87.6 425.76,87.09 425.82,86.59 425.88,86.11 425.93,85.65 425.99,85.2 426.05,84.77 426.1,84.35 426.16,83.95 426.22,83.56 426.28,83.19 426.33,82.83 426.39,82.48 426.45,82.15 426.5,81.83 426.56,81.52 426.62,81.23 426.68,80.94 426.73,80.68 426.79,80.42 426.85,80.18 426.91,79.94 426.96,79.72 427.02,79.52 427.08,79.32 427.13,79.14 427.19,78.96 427.25,78.8 427.31,78.65 427.36,78.51 427.42,78.39 427.48,78.27 427.53,78.17 427.59,78.07 427.65,77.99 427.71,77.92 427.76,77.86 427.82,77.81 427.88,77.77 427.94,77.74 427.99,77.73 428.05,77.72 428.11,77.73 428.16,77.74 428.22,77.77 428.28,77.81 428.34,77.86 428.39,77.91 428.45,77.98 428.51,78.07 428.57,78.16 428.62,78.26 428.68,78.37 428.74,78.5 428.79,78.63 428.85,78.78 428.91,78.94 428.97,79.1 429.02,79.29 429.08,79.48 429.14,79.68 429.19,79.9 429.25,80.12 429.31,80.36 429.37,80.61 429.42,80.87 429.48,81.15 429.54,81.44 429.6,81.74 429.65,82.05 429.71,82.37 429.77,82.71 429.82,83.06 429.88,83.43 429.94,83.81 430,84.2 430.05,84.61 430.11,85.03 430.17,85.47 430.22,85.92 430.28,86.39 430.34,86.87 430.4,87.37 430.45,87.89 430.51,88.42 430.57,88.97 430.63,89.54 430.68,90.12 430.74,90.73 430.8,91.35 430.85,92 430.91,92.66 430.97,93.35 431.03,94.06 431.08,94.79 431.14,95.54 431.2,96.32 431.25,97.12 431.31,97.96 431.37,98.82 431.43,99.7 431.48,100.62 431.54,101.57 431.6,102.56 431.66,103.58 431.71,104.64 431.77,105.73 431.83,106.87 431.88,108.06 431.94,109.29 432,110.57 432.06,111.91 432.11,113.31 432.17,114.77 432.23,116.31 432.28,117.92 432.34,119.61 432.4,121.4 432.46,123.29 432.51,125.3 432.57,127.44 432.63,129.73 432.69,132.19 432.74,134.85 432.8,137.74 432.86,140.92 432.91,144.44 432.97,148.37 433.03,152.81 433.09,157.86 433.14,163.5 433.2,169.24 433.26,173.39 433.31,174.76 433.37,174.86 433.43,171.68 433.49,164.72 433.54,158.76 433.6,154.1 433.66,150.38 433.72,147.3 433.77,144.69 433.83,142.43 433.89,140.45 433.94,138.69 434,137.12 434.06,135.69 434.12,134.4 434.17,133.22 434.23,132.14 434.29,131.14 434.34,130.22 434.4,129.38 434.46,128.59 434.52,127.87 434.57,127.19 434.63,126.57 434.69,125.99 434.75,125.46 434.8,124.97 434.86,124.51 434.92,124.09 434.97,123.71 435.03,123.36 435.09,123.04 435.15,122.76 435.2,122.5 435.26,122.27 435.32,122.07 435.37,121.9 435.43,121.76 435.49,121.64 435.55,121.55 435.6,121.49 435.66,121.45 435.72,121.44 435.78,121.44 435.83,121.46 435.89,121.5 435.95,121.55 436,121.62 436.06,121.7 436.12,121.8 436.18,121.92 436.23,122.04 436.29,122.19 436.35,122.35 436.4,122.53 436.46,122.72 436.52,122.93 436.58,123.16 436.63,123.41 436.69,123.68 436.75,123.96 436.81,124.27 436.86,124.59 436.92,124.94 436.98,125.31 437.03,125.7 437.09,126.12 437.15,126.56 437.21,127.03 437.26,127.52 437.32,128.05 437.38,128.61 437.43,129.2 437.49,129.83 437.55,130.49 437.61,131.2 437.66,131.95 437.72,132.76 437.78,133.61 437.84,134.53 437.89,135.51 437.95,136.56 438.01,137.7 438.06,138.93 438.12,140.27 438.18,141.74 438.24,143.35 438.29,145.14 438.35,147.15 438.41,149.44 438.46,152.07 438.52,155.17 438.58,158.91 438.64,163.58 438.69,169.55 438.75,176.53 438.81,179.72 438.87,178.77 438.92,175.51 438.98,171.43 439.04,167.61 439.09,164.28 439.15,161.41 439.21,158.92 439.27,156.73 439.32,154.8 439.38,153.07 439.44,151.52 439.5,150.11 439.55,148.82 439.61,147.64 439.67,146.56 439.72,145.57 439.78,144.65 439.84,143.8 439.9,143.01 439.95,142.27 440.01,141.59 440.07,140.96 440.12,140.38 440.18,139.84 440.24,139.33 440.3,138.87 440.35,138.44 440.41,138.04 440.47,137.68 440.53,137.35 440.58,137.05 440.64,136.78 440.7,136.53 440.75,136.32 440.81,136.13 440.87,135.97 440.93,135.83 440.98,135.72 441.04,135.63 441.1,135.57 441.15,135.53 441.21,135.52 441.27,135.53 441.33,135.55 441.38,135.59 441.44,135.65 441.5,135.72 441.56,135.81 441.61,135.92 441.67,136.04 441.73,136.18 441.78,136.33 441.84,136.51 441.9,136.7 441.96,136.91 442.01,137.14 442.07,137.39 442.13,137.66 442.18,137.95 442.24,138.26 442.3,138.59 442.36,138.94 442.41,139.32 442.47,139.72 442.53,140.15 442.59,140.61 442.64,141.09 442.7,141.61 442.76,142.15 442.81,142.74 442.87,143.35 442.93,144.01 442.99,144.71 443.04,145.45 443.1,146.24 443.16,147.09 443.21,148 443.27,148.97 443.33,150.02 443.39,151.15 443.44,152.37 443.5,153.7 443.56,155.16 443.62,156.77 443.67,158.55 443.73,160.54 443.79,162.81 443.84,165.41 443.9,168.45 443.96,172.09 444.02,176.53 444.07,181.91 444.13,187.38 444.19,189.43 444.24,188.28 444.3,184.54 444.36,180.11 444.42,176.1 444.47,172.68 444.53,169.76 444.59,167.23 444.65,165.02 444.7,163.07 444.76,161.33 444.82,159.76 444.87,158.33 444.93,157.04 444.99,155.85 445.05,154.75 445.1,153.74 445.16,152.81 445.22,151.94 445.27,151.14 445.33,150.39 445.39,149.7 445.45,149.05 445.5,148.44 445.56,147.88 445.62,147.36 445.68,146.87 445.73,146.42 445.79,146 445.85,145.61 445.9,145.26 445.96,144.93 446.02,144.63 446.08,144.36 446.13,144.11 446.19,143.89 446.25,143.69 446.3,143.52 446.36,143.37 446.42,143.25 446.48,143.15 446.53,143.07 446.59,143.01 446.65,142.98 446.71,142.97 446.76,142.98 446.82,143.01 446.88,143.06 446.93,143.13 446.99,143.23 447.05,143.34 447.11,143.47 447.16,143.63 447.22,143.81 447.28,144.01 447.33,144.24 447.39,144.49 447.45,144.76 447.51,145.06 447.56,145.38 447.62,145.73 447.68,146.11 447.74,146.52 447.79,146.96 447.85,147.43 447.91,147.93 447.96,148.48 448.02,149.06 448.08,149.68 448.14,150.34 448.19,151.05 448.25,151.82 448.31,152.63 448.36,153.52 448.42,154.46 448.48,155.49 448.54,156.6 448.59,157.8 448.65,159.12 448.71,160.56 448.77,162.15 448.82,163.93 448.88,165.92 448.94,168.19 448.99,170.8 449.05,173.88 449.11,177.59 449.17,182.21 449.22,188.05 449.28,194.66 449.34,197.53 449.39,197.08 449.45,195.3 449.51,192.58 449.57,189.59 449.62,186.74 449.68,184.14 449.74,181.81 449.8,179.73 449.85,177.85 449.91,176.16 449.97,174.62 450.02,173.22 450.08,171.94 450.14,170.75 450.2,169.66 450.25,168.65 450.31,167.7 450.37,166.83 450.42,166.01 450.48,165.25 450.54,164.54 450.6,163.87 450.65,163.25 450.71,162.67 450.77,162.12 450.83,161.61 450.88,161.13 450.94,160.69 451,160.27 451.05,159.88 451.11,159.52 451.17,159.19 451.23,158.88 451.28,158.6 451.34,158.34 451.4,158.1 451.46,157.89 451.51,157.7 451.57,157.52 451.63,157.38 451.68,157.25 451.74,157.14 451.8,157.05 451.86,156.98 451.91,156.93 451.97,156.9 452.03,156.89 452.08,156.91 452.14,156.99 452.2,157.1 452.26,157.27 452.31,157.48 452.37,157.74 452.43,158.06 452.49,158.42 452.54,158.83 452.6,159.29 452.66,159.81 452.71,160.38 452.77,161 452.83,161.68 452.89,162.42 452.94,163.23 453,164.09 453.06,165.03 453.11,166.03 453.17,167.1 453.23,168.25 453.29,169.48 453.34,170.79 453.4,172.19 453.46,173.69 453.52,175.29 453.57,177 453.63,178.82 453.69,180.77 453.74,182.85 453.8,185.07 453.86,187.44 453.92,189.96 453.97,192.61 454.03,195.37 454.09,198.18 454.14,200.93 454.2,203.42 454.26,205.46 454.32,206.89 454.37,207.74 454.43,208.15 454.49,208.32 454.55,208.36 454.6,208.37 454.66,208.38 454.72,208.38 454.77,208.38 454.83,208.37 454.89,208.37 454.95,208.34 455,208.26 455.06,208.04 455.12,207.57 455.17,206.72 455.23,205.38 455.29,203.58 455.35,201.4 455.4,199.01 455.46,196.53 455.52,194.05 455.58,191.66 455.63,189.36 455.69,187.18 455.75,185.12 455.8,183.17 455.86,181.34 455.92,179.62 455.98,178.01 456.03,176.49 456.09,175.06 456.15,173.72 456.2,172.46 456.26,171.27 456.32,170.16 456.38,169.13 456.43,168.15 456.49,167.24 456.55,166.4 456.61,165.61 456.66,164.88 456.72,164.2 456.78,163.57 456.83,163 456.89,162.48 456.95,162.01 457.01,161.58 457.06,161.21 457.12,160.88 457.18,160.59 457.23,160.35 457.29,160.15 457.35,160 457.41,159.89 457.46,159.83 457.52,159.81 457.58,159.83 457.64,159.91 457.69,160.04 457.75,160.22 457.81,160.45 457.86,160.74 457.92,161.08 457.98,161.47 458.04,161.92 458.09,162.43 458.15,162.99 458.21,163.62 458.26,164.3 458.32,165.05 458.38,165.87 458.44,166.75 458.49,167.71 458.55,168.74 458.61,169.85 458.67,171.04 458.72,172.32 458.78,173.69 458.84,175.16 458.89,176.73 458.95,178.42 459.01,180.23 459.07,182.17 459.12,184.26 459.18,186.5 459.24,188.91 459.29,191.5 459.35,194.29 459.41,197.27 459.47,200.45 459.52,203.77 459.58,207.13 459.64,210.29 459.7,212.92 459.75,214.74 459.81,215.74 459.87,216.15 459.92,216.28 459.98,216.31 460.04,216.31 460.1,216.31 460.15,216.31 460.21,216.31 460.27,216.3 460.32,216.24 460.38,216.04 460.44,215.55 460.5,214.56 460.55,212.92 460.61,210.67 460.67,207.99 460.73,205.11 460.78,202.2 460.84,199.37 460.9,196.68 460.95,194.14 461.01,191.75 461.07,189.52 461.13,187.43 461.18,185.48 461.24,183.65 461.3,181.94 461.35,180.34 461.41,178.84 461.47,177.43 461.53,176.12 461.58,174.89 461.64,173.74 461.7,172.67 461.76,171.66 461.81,170.73 461.87,169.87 461.93,169.06 461.98,168.32 462.04,167.64 462.1,167.01 462.16,166.44 462.21,165.93 462.27,165.47 462.33,165.05 462.38,164.69 462.44,164.38 462.5,164.12 462.56,163.91 462.61,163.74 462.67,163.62 462.73,163.55 462.79,163.53 462.84,163.57 462.9,163.69 462.96,163.89 463.01,164.17 463.07,164.54 463.13,164.99 463.19,165.53 463.24,166.15 463.3,166.87 463.36,167.68 463.42,168.59 463.47,169.6 463.53,170.71 463.59,171.94 463.64,173.29 463.7,174.77 463.76,176.39 463.82,178.15 463.87,180.07 463.93,182.17 463.99,184.47 464.04,186.98 464.1,189.74 464.16,192.77 464.22,196.13 464.27,199.86 464.33,204.05 464.39,208.79 464.45,214.22 464.5,220.55 464.56,228.09 464.62,237.38 464.67,249.37 464.73,265.86 464.79,278.48 464.85,278.48 464.9,278.48 464.96,278.48 465.02,269.8 465.07,258.59 465.13,249.37 465.19,241.77 465.25,235.34 465.3,229.79 465.36,224.9 465.42,220.55 465.48,216.63 465.53,213.07 465.59,209.82 465.65,206.82 465.7,204.05 465.76,201.48 465.82,199.08 465.88,196.84 465.93,194.74 465.99,192.77 466.05,190.91 466.1,189.16 466.16,187.51 466.22,185.95 466.28,184.47 466.33,183.07 466.39,181.74 466.45,180.48 466.51,179.28 466.56,178.15 466.62,177.07 466.68,176.05 466.73,175.08 466.79,174.17 466.85,173.29 466.91,172.47 466.96,171.69 467.02,170.95 467.08,170.25 467.13,169.6 467.19,168.98 467.25,168.4 467.31,167.85 467.36,167.34 467.42,166.87 467.48,166.43 467.54,166.02 467.59,165.65 467.65,165.3 467.71,164.99 467.76,164.71 467.82,164.46 467.88,164.24 467.94,164.05 467.99,163.89 468.05,163.76 468.11,163.66 468.16,163.59 468.22,163.54 468.28,163.53 468.34,163.54 468.39,163.57 468.45,163.61 468.51,163.67 468.57,163.76 468.62,163.86 468.68,163.98 468.74,164.11 468.79,164.27 468.85,164.45 468.91,164.64 468.97,164.86 469.02,165.1 469.08,165.36 469.14,165.64 469.19,165.94 469.25,166.27 469.31,166.61 469.37,166.99 469.42,167.39 469.48,167.81 469.54,168.26 469.6,168.74 469.65,169.25 469.71,169.79 469.77,170.37 469.82,170.97 469.88,171.61 469.94,172.29 470,173 470.05,173.75 470.11,174.54 470.17,175.37 470.22,176.24 470.28,177.15 470.34,178.1 470.4,179.07 470.45,180.06 470.51,181.07 470.57,182.06 470.63,183.02 470.68,183.91 470.74,184.71 470.8,185.36 470.85,185.85 470.91,186.17 470.97,186.32 471.03,186.36 471.08,186.35 471.14,186.29 471.2,186.19 471.25,186.01 471.31,185.77 471.37,185.46 471.43,185.08 471.48,184.65 471.54,184.17 471.6,183.66 471.66,183.11 471.71,182.55 471.77,181.99 471.83,181.42 471.88,180.85 471.94,180.29 472,179.75 472.06,179.23 472.11,178.72 472.17,178.24 472.23,177.78 472.28,177.34 472.34,176.93 472.4,176.54 472.46,176.17 472.51,175.83 472.57,175.52 472.63,175.22 472.69,174.96 472.74,174.71 472.8,174.49 472.86,174.3 472.91,174.13 472.97,173.98 473.03,173.85 473.09,173.75 473.14,173.67 473.2,173.61 473.26,173.58 473.31,173.57 473.37,173.6 473.43,173.69 473.49,173.85 473.54,174.06 473.6,174.35 473.66,174.69 473.72,175.1 473.77,175.58 473.83,176.13 473.89,176.74 473.94,177.43 474,178.19 474.06,179.03 474.12,179.95 474.17,180.95 474.23,182.04 474.29,183.23 474.35,184.51 474.4,185.9 474.46,187.39 474.52,189.01 474.57,190.75 474.63,192.64 474.69,194.67 474.75,196.88 474.8,199.27 474.86,201.86 474.92,204.7 474.97,207.79 475.03,211.18 475.09,214.92 475.15,219.03 475.2,223.55 475.26,228.42 475.32,233.35 475.38,237.61 475.43,240.28 475.49,241.32 475.55,241.54 475.6,241.56 475.66,241.56 475.72,241.56 475.78,241.56 475.83,241.52 475.89,241.33 475.95,240.72 476,239.32 476.06,236.91 476.12,233.69 476.18,230.07 476.23,226.41 476.29,222.87 476.35,219.54 476.41,216.43 476.46,213.54 476.52,210.86 476.58,208.36 476.63,206.02 476.69,203.84 476.75,201.8 476.81,199.89 476.86,198.1 476.92,196.41 476.98,194.83 477.03,193.33 477.09,191.92 477.15,190.6 477.21,189.35 477.26,188.17 477.32,187.06 477.38,186.02 477.44,185.03 477.49,184.11 477.55,183.24 477.61,182.42 477.66,181.66 477.72,180.94 477.78,180.28 477.84,179.66 477.89,179.09 477.95,178.56 478.01,178.07 478.06,177.63 478.12,177.23 478.18,176.87 478.24,176.54 478.29,176.26 478.35,176.02 478.41,175.81 478.47,175.64 478.52,175.51 478.58,175.42 478.64,175.37 478.69,175.35 478.75,175.38 478.81,175.46 478.87,175.6 478.92,175.8 478.98,176.06 479.04,176.37 479.09,176.74 479.15,177.18 479.21,177.67 479.27,178.23 479.32,178.85 479.38,179.54 479.44,180.3 479.5,181.12 479.55,182.03 479.61,183.01 479.67,184.07 479.72,185.21 479.78,186.45 479.84,187.78 479.9,189.21 479.95,190.75 480.01,192.41 480.07,194.2 480.12,196.12 480.18,198.19 480.24,200.43 480.3,202.86 480.35,205.49 480.41,208.36 480.47,211.5 480.53,214.95 480.58,218.77 480.64,223.03 480.7,227.82 480.75,233.28 480.81,239.58 480.87,246.9 480.93,255.21 480.98,263.01 481.04,266.66 481.1,267.14 481.15,267.14 481.21,267.14 481.27,266.99 481.33,265.53 481.38,260.87 481.44,254.04 481.5,247.19 481.56,241.03 481.61,235.59 481.67,230.78 481.73,226.49 481.78,222.62 481.84,219.12 481.9,215.92 481.96,212.98 482.01,210.28 482.07,207.78 482.13,205.45 482.18,203.29 482.24,201.27 482.3,199.38 482.36,197.62 482.41,195.96 482.47,194.41 482.53,192.96 482.59,191.59 482.64,190.3 482.7,189.1 482.76,187.96 482.81,186.9 482.87,185.91 482.93,184.98 482.99,184.11 483.04,183.29 483.1,182.54 483.16,181.84 483.21,181.19 483.27,180.59 483.33,180.04 483.39,179.54 483.44,179.08 483.5,178.68 483.56,178.31 483.62,178 483.67,177.72 483.73,177.49 483.79,177.3 483.84,177.15 483.9,177.05 483.96,176.99 484.02,176.97 484.07,176.99 484.13,177.04 484.19,177.13 484.24,177.26 484.3,177.43 484.36,177.64 484.42,177.88 484.47,178.16 484.53,178.48 484.59,178.85 484.65,179.25 484.7,179.69 484.76,180.18 484.82,180.7 484.87,181.28 484.93,181.9 484.99,182.56 485.05,183.27 485.1,184.03 485.16,184.85 485.22,185.72 485.27,186.64 485.33,187.62 485.39,188.67 485.45,189.77 485.5,190.95 485.56,192.19 485.62,193.51 485.68,194.91 485.73,196.39 485.79,197.96 485.85,199.63 485.9,201.4 485.96,203.27 486.02,205.26 486.08,207.37 486.13,209.6 486.19,211.94 486.25,214.39 486.31,216.92 486.36,219.47 486.42,221.94 486.48,224.2 486.53,226.09 486.59,227.5 486.65,228.4 486.71,228.9 486.76,229.14 486.82,229.23 486.88,229.25 486.93,229.26 486.99,229.26 487.05,229.26 487.11,229.26 487.16,229.26 487.22,229.24 487.28,229.16 487.34,228.9 487.39,228.25 487.45,226.97 487.51,224.96 487.56,222.34 487.62,219.37 487.68,216.29 487.74,213.25 487.79,210.35 487.85,207.61 487.91,205.05 487.96,202.65 488.02,200.41 488.08,198.32 488.14,196.38 488.19,194.56 488.25,192.86 488.31,191.27 488.37,189.78 488.42,188.4 488.48,187.1 488.54,185.89 488.59,184.76 488.65,183.71 488.71,182.73 488.77,181.82 488.82,180.98 488.88,180.2 488.94,179.48 488.99,178.83 489.05,178.23 489.11,177.69 489.17,177.21 489.22,176.78 489.28,176.4 489.34,176.08 489.4,175.8 489.45,175.58 489.51,175.41 489.57,175.28 489.62,175.21 489.68,175.19 489.74,175.21 489.8,175.28 489.85,175.4 489.91,175.56 489.97,175.78 490.02,176.04 490.08,176.35 490.14,176.71 490.2,177.12 490.25,177.58 490.31,178.09 490.37,178.66 490.43,179.28 490.48,179.96 490.54,180.7 490.6,181.5 490.65,182.36 490.71,183.29 490.77,184.28 490.83,185.35 490.88,186.48 490.94,187.7 491,188.99 491.05,190.37 491.11,191.84 491.17,193.4 491.23,195.05 491.28,196.81 491.34,198.65 491.4,200.59 491.46,202.61 491.51,204.7 491.57,206.8 491.63,208.87 491.68,210.83 491.74,212.58 491.8,214.01 491.86,215.09 491.91,215.82 491.97,216.25 492.03,216.47 492.08,216.58 492.14,216.62 492.2,216.63 492.26,216.63 492.31,216.63 492.37,216.63 492.43,216.63 492.49,216.63 492.54,216.63 492.6,216.63 492.66,216.62 492.71,216.61 492.77,216.58 492.83,216.51 492.89,216.39 492.94,216.19 493,215.89 493.06,215.45 493.11,214.86 493.17,214.1 493.23,213.18 493.29,212.12 493.34,210.94 493.4,209.69 493.46,208.39 493.52,207.08 493.57,205.77 493.63,204.48 493.69,203.24 493.74,202.03 493.8,200.88 493.86,199.79 493.92,198.75 493.97,197.78 494.03,196.86 494.09,196 494.14,195.2 494.2,194.46 494.26,193.77 494.32,193.14 494.37,192.56 494.43,192.04 494.49,191.57 494.55,191.15 494.6,190.78 494.66,190.47 494.72,190.2 494.77,189.98 494.83,189.81 494.89,189.69 494.95,189.62 495,189.59 495.06,189.63 495.12,189.73 495.17,189.89 495.23,190.12 495.29,190.41 495.35,190.78 495.4,191.21 495.46,191.71 495.52,192.28 495.58,192.93 495.63,193.66 495.69,194.46 495.75,195.34 495.8,196.31 495.86,197.37 495.92,198.53 495.98,199.78 496.03,201.14 496.09,202.6 496.15,204.19 496.2,205.91 496.26,207.76 496.32,209.76 496.38,211.93 496.43,214.27 496.49,216.81 496.55,219.55 496.61,222.51 496.66,225.69 496.72,229.06 496.78,232.52 496.83,235.88 496.89,238.81 496.95,240.93 497.01,242.14 497.06,242.66 497.12,242.82 497.18,242.86 497.24,242.86 497.29,242.86 497.35,242.86 497.41,242.86 497.46,242.85 497.52,242.82 497.58,242.7 497.64,242.4 497.69,241.77 497.75,240.65 497.81,238.98 497.86,236.81 497.92,234.3 497.98,231.65 498.04,228.97 498.09,226.34 498.15,223.83 498.21,221.44 498.27,219.17 498.32,217.04 498.38,215.03 498.44,213.13 498.49,211.35 498.55,209.67 498.61,208.08 498.67,206.58 498.72,205.17 498.78,203.84 498.84,202.58 498.89,201.39 498.95,200.27 499.01,199.21 499.07,198.21 499.12,197.27 499.18,196.39 499.24,195.55 499.3,194.77 499.35,194.04 499.41,193.36 499.47,192.72 499.52,192.12 499.58,191.57 499.64,191.07 499.7,190.6 499.75,190.17 499.81,189.79 499.87,189.44 499.92,189.13 499.98,188.86 500.04,188.62 500.1,188.42 500.15,188.26 500.21,188.14 500.27,188.05 500.33,187.99 500.38,187.98 500.44,188 500.5,188.07 500.55,188.18 500.61,188.34 500.67,188.54 500.73,188.79 500.78,189.09 500.84,189.44 500.9,189.83 500.95,190.28 501.01,190.77 501.07,191.32 501.13,191.91 501.18,192.57 501.24,193.28 501.3,194.04 501.36,194.87 501.41,195.76 501.47,196.72 501.53,197.74 501.58,198.84 501.64,200.01 501.7,201.26 501.76,202.6 501.81,204.02 501.87,205.55 501.93,207.17 501.98,208.91 502.04,210.78 502.1,212.77 502.16,214.91 502.21,217.22 502.27,219.7 502.33,222.39 502.39,225.31 502.44,228.5 502.5,231.99 502.56,235.85 502.61,240.14 502.67,244.97 502.73,250.45 502.79,256.76 502.84,264.06 502.9,272.25 502.96,278.48 503.01,278.48 503.07,278.48 503.13,278.48 503.19,278.48 503.24,278.48 503.3,278.48 503.36,273.74 503.42,265.86 503.47,258.65 503.53,252.37 503.59,246.9 503.64,242.08 503.7,237.79 503.76,233.93 503.82,230.44 503.87,227.25 503.93,224.33 503.99,221.64 504.04,219.16 504.1,216.86 504.16,214.71 504.22,212.72 504.27,210.86 504.33,209.12 504.39,207.49 504.45,205.97 504.5,204.54 504.56,203.2 504.62,201.95 504.67,200.78 504.73,199.68 504.79,198.66 504.85,197.7 504.9,196.81 504.96,195.99 505.02,195.22 505.07,194.51 505.13,193.86 505.19,193.26 505.25,192.71 505.3,192.22 505.36,191.78 505.42,191.38 505.48,191.04 505.53,190.74 505.59,190.49 505.65,190.28 505.7,190.12 505.76,190.01 505.82,189.94 505.88,189.92 505.93,189.94 505.99,190.02 506.05,190.14 506.1,190.31 506.16,190.54 506.22,190.81 506.28,191.13 506.33,191.51 506.39,191.94 506.45,192.43 506.51,192.97 506.56,193.56 506.62,194.22 506.68,194.93 506.73,195.71 506.79,196.55 506.85,197.46 506.91,198.44 506.96,199.49 507.02,200.62 507.08,201.83 507.13,203.13 507.19,204.51 507.25,206 507.31,207.58 507.36,209.28 507.42,211.1 507.48,213.04 507.54,215.12 507.59,217.35 507.65,219.73 507.71,222.28 507.76,224.99 507.82,227.84 507.88,230.8 507.94,233.76 507.99,236.56 508.05,238.96 508.11,240.74 508.16,241.84 508.22,242.4 508.28,242.62 508.34,242.68 508.39,242.7 508.45,242.7 508.51,242.7 508.57,242.7 508.62,242.7 508.68,242.69 508.74,242.65 508.79,242.53 508.85,242.21 508.91,241.54 508.97,240.36 509.02,238.63 509.08,236.41 509.14,233.87 509.2,231.2 509.25,228.53 509.31,225.93 509.37,223.44 509.42,221.08 509.48,218.86 509.54,216.77 509.6,214.8 509.65,212.96 509.71,211.23 509.77,209.61 509.82,208.08 509.88,206.65 509.94,205.3 510,204.04 510.05,202.85 510.11,201.74 510.17,200.7 510.23,199.73 510.28,198.82 510.34,197.97 510.4,197.18 510.45,196.45 510.51,195.77 510.57,195.15 510.63,194.57 510.68,194.05 510.74,193.58 510.8,193.16 510.85,192.78 510.91,192.45 510.97,192.16 511.03,191.92 511.08,191.72 511.14,191.57 511.2,191.46 511.26,191.4 511.31,191.38 511.37,191.39 511.43,191.42 511.48,191.47 511.54,191.53 511.6,191.62 511.66,191.73 511.71,191.86 511.77,192.01 511.83,192.17 511.88,192.36 511.94,192.56 512,192.78 512.06,193.02 512.11,193.28 512.17,193.55 512.23,193.84 512.29,194.14 512.34,194.45 512.4,194.77 512.46,195.1 512.51,195.44 512.57,195.78 512.63,196.12 512.69,196.46 512.74,196.79 512.8,197.11 512.86,197.42 512.91,197.71 512.97,197.97 513.03,198.21 513.09,198.41 513.14,198.59 513.2,198.73 513.26,198.84 513.32,198.91 513.37,198.96 513.43,198.98 513.49,198.99 513.54,198.98 513.6,198.93 513.66,198.84 513.72,198.69 513.77,198.49 513.83,198.22 513.89,197.89 513.94,197.5 514,197.07 514.06,196.6 514.12,196.09 514.17,195.56 514.23,195.01 514.29,194.45 514.35,193.89 514.4,193.33 514.46,192.77 514.52,192.22 514.57,191.68 514.63,191.15 514.69,190.64 514.75,190.14 514.8,189.66 514.86,189.2 514.92,188.76 514.97,188.33 515.03,187.92 515.09,187.53 515.15,187.15 515.2,186.8 515.26,186.46 515.32,186.13 515.38,185.83 515.43,185.54 515.49,185.27 515.55,185.01 515.6,184.77 515.66,184.55 515.72,184.34 515.78,184.15 515.83,183.97 515.89,183.8 515.95,183.66 516,183.52 516.06,183.4 516.12,183.3 516.18,183.21 516.23,183.13 516.29,183.07 516.35,183.02 516.41,182.98 516.46,182.96 516.52,182.96 516.58,182.98 516.63,183.05 516.69,183.17 516.75,183.34 516.81,183.55 516.86,183.81 516.92,184.12 516.98,184.48 517.03,184.89 517.09,185.36 517.15,185.87 517.21,186.44 517.26,187.07 517.32,187.75 517.38,188.5 517.44,189.3 517.49,190.17 517.55,191.1 517.61,192.1 517.66,193.18 517.72,194.33 517.78,195.56 517.84,196.88 517.89,198.29 517.95,199.8 518.01,201.41 518.06,203.13 518.12,204.98 518.18,206.96 518.24,209.08 518.29,211.36 518.35,213.82 518.41,216.48 518.47,219.36 518.52,222.48 518.58,225.87 518.64,229.54 518.69,233.48 518.75,237.6 518.81,241.67 518.87,245.17 518.92,247.55 518.98,248.71 519.04,249.09 519.09,249.17 519.15,249.17 519.21,249.17 519.27,249.17 519.32,249.17 519.38,249.16 519.44,249.07 519.5,248.79 519.55,248.08 519.61,246.72 519.67,244.59 519.72,241.84 519.78,238.76 519.84,235.59 519.9,232.48 519.95,229.51 520.01,226.71 520.07,224.08 520.13,221.62 520.18,219.32 520.24,217.16 520.3,215.14 520.35,213.25 520.41,211.47 520.47,209.8 520.53,208.23 520.58,206.75 520.64,205.36 520.7,204.04 520.75,202.81 520.81,201.65 520.87,200.55 520.93,199.52 520.98,198.56 521.04,197.65 521.1,196.8 521.16,196 521.21,195.26 521.27,194.56 521.33,193.92 521.38,193.32 521.44,192.77 521.5,192.27 521.56,191.81 521.61,191.39 521.67,191.01 521.73,190.68 521.78,190.38 521.84,190.13 521.9,189.92 521.96,189.74 522.01,189.61 522.07,189.51 522.13,189.45 522.19,189.43 522.24,189.46 522.3,189.54 522.36,189.68 522.41,189.86 522.47,190.11 522.53,190.41 522.59,190.76 522.64,191.18 522.7,191.65 522.76,192.18 522.81,192.77 522.87,193.43 522.93,194.15 522.99,194.94 523.04,195.79 523.1,196.72 523.16,197.73 523.22,198.82 523.27,199.99 523.33,201.24 523.39,202.6 523.44,204.05 523.5,205.61 523.56,207.28 523.62,209.08 523.67,211.02 523.73,213.1 523.79,215.35 523.84,217.77 523.9,220.39 523.96,223.24 524.02,226.33 524.07,229.69 524.13,233.34 524.19,237.26 524.25,241.36 524.3,245.41 524.36,248.89 524.42,251.27 524.47,252.43 524.53,252.81 524.59,252.89 524.65,252.9 524.7,252.9 524.76,252.9 524.82,252.9 524.87,252.88 524.93,252.78 524.99,252.45 525.05,251.65 525.1,250.12 525.16,247.8 525.22,244.88 525.28,241.67 525.33,238.41 525.39,235.23 525.45,232.22 525.5,229.39 525.56,226.73 525.62,224.25 525.68,221.92 525.73,219.75 525.79,217.71 525.85,215.79 525.9,213.99 525.96,212.3 526.02,210.7 526.08,209.2 526.13,207.78 526.19,206.44 526.25,205.18 526.31,203.99 526.36,202.87 526.42,201.81 526.48,200.81 526.53,199.87 526.59,198.98 526.65,198.15 526.71,197.37 526.76,196.63 526.82,195.95 526.88,195.31 526.93,194.72 526.99,194.17 527.05,193.66 527.11,193.19 527.16,192.76 527.22,192.38 527.28,192.03 527.34,191.72 527.39,191.45 527.45,191.21 527.51,191.01 527.56,190.85 527.62,190.73 527.68,190.64 527.74,190.58 527.79,190.57 527.85,190.59 527.91,190.66 527.96,190.78 528.02,190.94 528.08,191.16 528.14,191.42 528.19,191.73 528.25,192.09 528.31,192.5 528.37,192.97 528.42,193.48 528.48,194.05 528.54,194.68 528.59,195.36 528.65,196.11 528.71,196.91 528.77,197.78 528.82,198.71 528.88,199.71 528.94,200.79 528.99,201.94 529.05,203.17 529.11,204.49 529.17,205.9 529.22,207.41 529.28,209.02 529.34,210.75 529.4,212.6 529.45,214.58 529.51,216.71 529.57,219 529.62,221.48 529.68,224.16 529.74,227.07 529.8,230.24 529.85,233.73 529.91,237.58 529.97,241.87 530.02,246.68 530.08,252.15 530.14,258.43 530.2,265.65 530.25,273.57 530.31,278.48 530.37,278.48 530.43,278.48 530.48,278.48 530.54,278.48 530.6,278.48 530.65,278.48 530.71,277.85 530.77,271.37 530.83,264.64 530.88,258.5 530.94,253.05 531,248.21 531.05,243.87 531.11,239.96 531.17,236.4 531.23,233.15 531.28,230.15 531.34,227.38 531.4,224.8 531.46,222.4 531.51,220.15 531.57,218.05 531.63,216.07 531.68,214.21 531.74,212.45 531.8,210.79 531.86,209.22 531.91,207.73 531.97,206.32 532.03,204.98 532.09,203.71 532.14,202.51 532.2,201.37 532.26,200.28 532.31,199.25 532.37,198.27 532.43,197.34 532.49,196.45 532.54,195.62 532.6,194.82 532.66,194.07 532.71,193.36 532.77,192.69 532.83,192.06 532.89,191.46 532.94,190.9 533,190.37 533.06,189.88 533.12,189.42 533.17,189 533.23,188.6 533.29,188.24 533.34,187.91 533.4,187.61 533.46,187.34 533.52,187.1 533.57,186.88 533.63,186.7 533.69,186.55 533.74,186.42 533.8,186.32 533.86,186.25 533.92,186.21 533.97,186.19 534.03,186.2 534.09,186.22 534.15,186.26 534.2,186.31 534.26,186.38 534.32,186.46 534.37,186.56 534.43,186.67 534.49,186.8 534.55,186.94 534.6,187.09 534.66,187.26 534.72,187.45 534.77,187.64 534.83,187.85 534.89,188.08 534.95,188.31 535,188.56 535.06,188.81 535.12,189.08 535.18,189.36 535.23,189.64 535.29,189.93 535.35,190.23 535.4,190.53 535.46,190.83 535.52,191.13 535.58,191.43 535.63,191.72 535.69,192.01 535.75,192.28 535.8,192.54 535.86,192.78 535.92,193.01 535.98,193.21 536.03,193.39 536.09,193.55 536.15,193.68 536.21,193.78 536.26,193.86 536.32,193.91 536.38,193.95 536.43,193.96 536.49,193.97 536.55,193.97 536.61,193.96 536.66,193.96 536.72,193.95 536.78,193.93 536.83,193.91 536.89,193.88 536.95,193.85 537.01,193.82 537.06,193.77 537.12,193.73 537.18,193.67 537.24,193.62 537.29,193.56 537.35,193.49 537.41,193.42 537.46,193.35 537.52,193.28 537.58,193.2 537.64,193.12 537.69,193.05 537.75,192.97 537.81,192.89 537.86,192.82 537.92,192.75 537.98,192.68 538.04,192.61 538.09,192.55 538.15,192.49 538.21,192.43 538.27,192.38 538.32,192.34 538.38,192.3 538.44,192.26 538.49,192.24 538.55,192.21 538.61,192.2 538.67,192.19 538.72,192.19 538.78,192.2 538.84,192.23 538.89,192.29 538.95,192.38 539.01,192.48 539.07,192.62 539.12,192.77 539.18,192.95 539.24,193.16 539.3,193.39 539.35,193.65 539.41,193.93 539.47,194.24 539.52,194.57 539.58,194.93 539.64,195.32 539.7,195.74 539.75,196.18 539.81,196.65 539.87,197.16 539.92,197.69 539.98,198.25 540.04,198.85 540.1,199.47 540.15,200.14 540.21,200.83 540.27,201.57 540.33,202.34 540.38,203.14 540.44,203.99 540.5,204.88 540.55,205.82 540.61,206.79 540.67,207.82 540.73,208.9 540.78,210.03 540.84,211.21 540.9,212.45 540.95,213.75 541.01,215.12 541.07,216.56 541.13,218.07 541.18,219.65 541.24,221.32 541.3,223.08 541.36,224.93 541.41,226.88 541.47,228.93 541.53,231.09 541.58,233.34 541.64,235.69 541.7,238.1 541.76,240.54 541.81,242.93 541.87,245.15 541.93,247.09 541.98,248.62 542.04,249.7 542.1,250.36 542.16,250.71 542.21,250.87 542.27,250.93 542.33,250.95 542.39,250.95 542.44,250.95 542.5,250.95 542.56,250.95 542.61,250.91 542.67,250.46 542.73,248.57 542.79,244.49 542.84,239.15 542.9,233.71 542.96,228.7 543.02,224.21 543.07,220.21 543.13,216.63 543.19,213.44 543.24,210.57 543.3,207.99 543.36,205.66 543.42,203.57 543.47,201.68 543.53,199.99 543.59,198.47 543.64,197.12 543.7,195.92 543.76,194.87 543.82,193.95 543.87,193.17 543.93,192.51 543.99,191.98 544.05,191.57 544.1,191.28 544.16,191.11 544.22,191.05 544.27,191.07 544.33,191.11 544.39,191.18 544.45,191.28 544.5,191.41 544.56,191.57 544.62,191.76 544.67,191.98 544.73,192.23 544.79,192.51 544.85,192.82 544.9,193.17 544.96,193.54 545.02,193.95 545.08,194.39 545.13,194.86 545.19,195.37 545.25,195.92 545.3,196.5 545.36,197.11 545.42,197.77 545.48,198.47 545.53,199.2 545.59,199.98 545.65,200.8 545.7,201.67 545.76,202.59 545.82,203.55 545.88,204.57 545.93,205.64 545.99,206.77 546.05,207.96 546.11,209.21 546.16,210.52 546.22,211.91 546.28,213.37 546.33,214.9 546.39,216.52 546.45,218.23 546.51,220.02 546.56,221.9 546.62,223.88 546.68,225.95 546.73,228.09 546.79,230.29 546.85,232.51 546.91,234.7 546.96,236.77 547.02,238.61 547.08,240.12 547.14,241.26 547.19,242.01 547.25,242.46 547.31,242.7 547.36,242.81 547.42,242.85 547.48,242.86 547.54,242.86 547.59,242.86 547.65,242.86" class="cv"/>
<polyline points="425.36,91.04 425.42,90.42 425.47,89.82 425.53,89.24 425.59,88.67 425.65,88.13 425.7,87.6 425.76,87.09 425.82,86.59 425.88,86.11 425.93,85.65 425.99,85.2 426.05,84.77 426.1,84.35 426.16,83.95 426.22,83.56 426.28,83.19 426.33,82.83 426.39,82.48 426.45,82.15 426.5,81.83 426.56,81.52 426.62,81.23 426.68,80.94 426.73,80.68 426.79,80.42 426.85,80.18 426.91,79.94 426.96,79.72 427.02,79.52 427.08,79.32 427.13,79.14 427.19,78.96 427.25,78.8 427.31,78.65 427.36,78.51 427.42,78.39 427.48,78.27 427.53,78.17 427.59,78.07 427.65,77.99 427.71,77.92 427.76,77.86 427.82,77.81 427.88,77.77 427.94,77.74 427.99,77.73 428.05,77.72 428.11,77.73 428.16,77.74 428.22,77.77 428.28,77.81 428.34,77.86 428.39,77.91 428.45,77.98 428.51,78.07 428.57,78.16 428.62,78.26 428.68,78.37 428.74,78.5 428.79,78.63 428.85,78.78 428.91,78.94 428.97,79.1 429.02,79.29 429.08,79.48 429.14,79.68 429.19,79.9 429.25,80.12 429.31,80.36 429.37,80.61 429.42,80.87 429.48,81.15 429.54,81.44 429.6,81.74 429.65,82.05 429.71,82.37 429.77,82.71 429.82,83.06 429.88,83.43 429.94,83.81 430,84.2 430.05,84.61 430.11,85.03 430.17,85.47 430.22,85.92 430.28,86.39 430.34,86.87 430.4,87.37 430.45,87.89 430.51,88.42 430.57,88.97 430.63,89.54 430.68,90.12 430.74,90.73" fill="none" stroke="#ff0000" stroke-width="1.35" stroke-linejoin="round"/>
</g>
<rect x="313.6" y="16.2" width="228.9" height="259.04" class="ax"/>
<line x1="313.6" y1="275.24" x2="313.6" y2="272.94" class="tk"/>
<line x1="313.6" y1="16.2" x2="313.6" y2="18.5" class="tk"/>
<text x="313.6" y="284.59" class="tl" text-anchor="middle">-20</text>
<line x1="342.21" y1="275.24" x2="342.21" y2="272.94" class="tk"/>
<line x1="342.21" y1="16.2" x2="342.21" y2="18.5" class="tk"/>
<text x="342.21" y="284.59" class="tl" text-anchor="middle">-15</text>
<line x1="370.83" y1="275.24" x2="370.83" y2="272.94" class="tk"/>
<line x1="370.83" y1="16.2" x2="370.83" y2="18.5" class="tk"/>
<text x="370.83" y="284.59" class="tl" text-anchor="middle">-10</text>
<line x1="399.44" y1="275.24" x2="399.44" y2="272.94" class="tk"/>
<line x1="399.44" y1="16.2" x2="399.44" y2="18.5" class="tk"/>
<text x="399.44" y="284.59" class="tl" text-anchor="middle">-5</text>
<line x1="428.05" y1="275.24" x2="428.05" y2="272.94" class="tk"/>
<line x1="428.05" y1="16.2" x2="428.05" y2="18.5" class="tk"/>
<text x="428.05" y="284.59" class="tl" text-anchor="middle">0</text>
<line x1="456.66" y1="275.24" x2="456.66" y2="272.94" class="tk"/>
<line x1="456.66" y1="16.2" x2="456.66" y2="18.5" class="tk"/>
<text x="456.66" y="284.59" class="tl" text-anchor="middle">5</text>
<line x1="485.27" y1="275.24" x2="485.27" y2="272.94" class="tk"/>
<line x1="485.27" y1="16.2" x2="485.27" y2="18.5" class="tk"/>
<text x="485.27" y="284.59" class="tl" text-anchor="middle">10</text>
<line x1="513.89" y1="275.24" x2="513.89" y2="272.94" class="tk"/>
<line x1="513.89" y1="16.2" x2="513.89" y2="18.5" class="tk"/>
<text x="513.89" y="284.59" class="tl" text-anchor="middle">15</text>
<line x1="542.5" y1="275.24" x2="542.5" y2="272.94" class="tk"/>
<line x1="542.5" y1="16.2" x2="542.5" y2="18.5" class="tk"/>
<text x="542.5" y="284.59" class="tl" text-anchor="middle">20</text>
<line x1="313.6" y1="275.24" x2="315.9" y2="275.24" class="tk"/>
<line x1="542.5" y1="275.24" x2="540.2" y2="275.24" class="tk"/>
<text x="311" y="277.94" class="tl" text-anchor="end">-40</text>
<line x1="313.6" y1="242.86" x2="315.9" y2="242.86" class="tk"/>
<line x1="542.5" y1="242.86" x2="540.2" y2="242.86" class="tk"/>
<text x="311" y="245.56" class="tl" text-anchor="end">-20</text>
<line x1="313.6" y1="210.48" x2="315.9" y2="210.48" class="tk"/>
<line x1="542.5" y1="210.48" x2="540.2" y2="210.48" class="tk"/>
<text x="311" y="213.18" class="tl" text-anchor="end">0</text>
<line x1="313.6" y1="178.1" x2="315.9" y2="178.1" class="tk"/>
<line x1="542.5" y1="178.1" x2="540.2" y2="178.1" class="tk"/>
<text x="311" y="180.8" class="tl" text-anchor="end">20</text>
<line x1="313.6" y1="145.72" x2="315.9" y2="145.72" class="tk"/>
<line x1="542.5" y1="145.72" x2="540.2" y2="145.72" class="tk"/>
<text x="311" y="148.42" class="tl" text-anchor="end">40</text>
<line x1="313.6" y1="113.34" x2="315.9" y2="113.34" class="tk"/>
<line x1="542.5" y1="113.34" x2="540.2" y2="113.34" class="tk"/>
<text x="311" y="116.04" class="tl" text-anchor="end">60</text>
<line x1="313.6" y1="80.96" x2="315.9" y2="80.96" class="tk"/>
<line x1="542.5" y1="80.96" x2="540.2" y2="80.96" class="tk"/>
<text x="311" y="83.66" class="tl" text-anchor="end">80</text>
<line x1="313.6" y1="48.58" x2="315.9" y2="48.58" class="tk"/>
<line x1="542.5" y1="48.58" x2="540.2" y2="48.58" class="tk"/>
<text x="311" y="51.28" class="tl" text-anchor="end">100</text>
<line x1="313.6" y1="16.2" x2="315.9" y2="16.2" class="tk"/>
<line x1="542.5" y1="16.2" x2="540.2" y2="16.2" class="tk"/>
<text x="311" y="18.9" class="tl" text-anchor="end">120</text>
<text x="428.05" y="10.6" class="tt" text-anchor="middle">2-way <tspan class="th">θ</tspan><tspan class="sub" dx="0.4" dy="2.6">inc</tspan><tspan dx="0.3" dy="-2.6">: 25.00 [deg], PRF: 8400 [Hz]</tspan></text>
<text x="428.05" y="294.1" class="xl" text-anchor="middle">azimuth angle - deg</text>
<text x="294.9" y="145.8" class="yl" text-anchor="middle" transform="rotate(-90 294.9 145.8)">antenna power pattern - dB</text>
<text x="418.25" y="308.1" class="lab" text-anchor="middle">(<tspan font-weight="bold" font-size="11.6px">b</tspan>)</text>
</svg>
</body></html>
